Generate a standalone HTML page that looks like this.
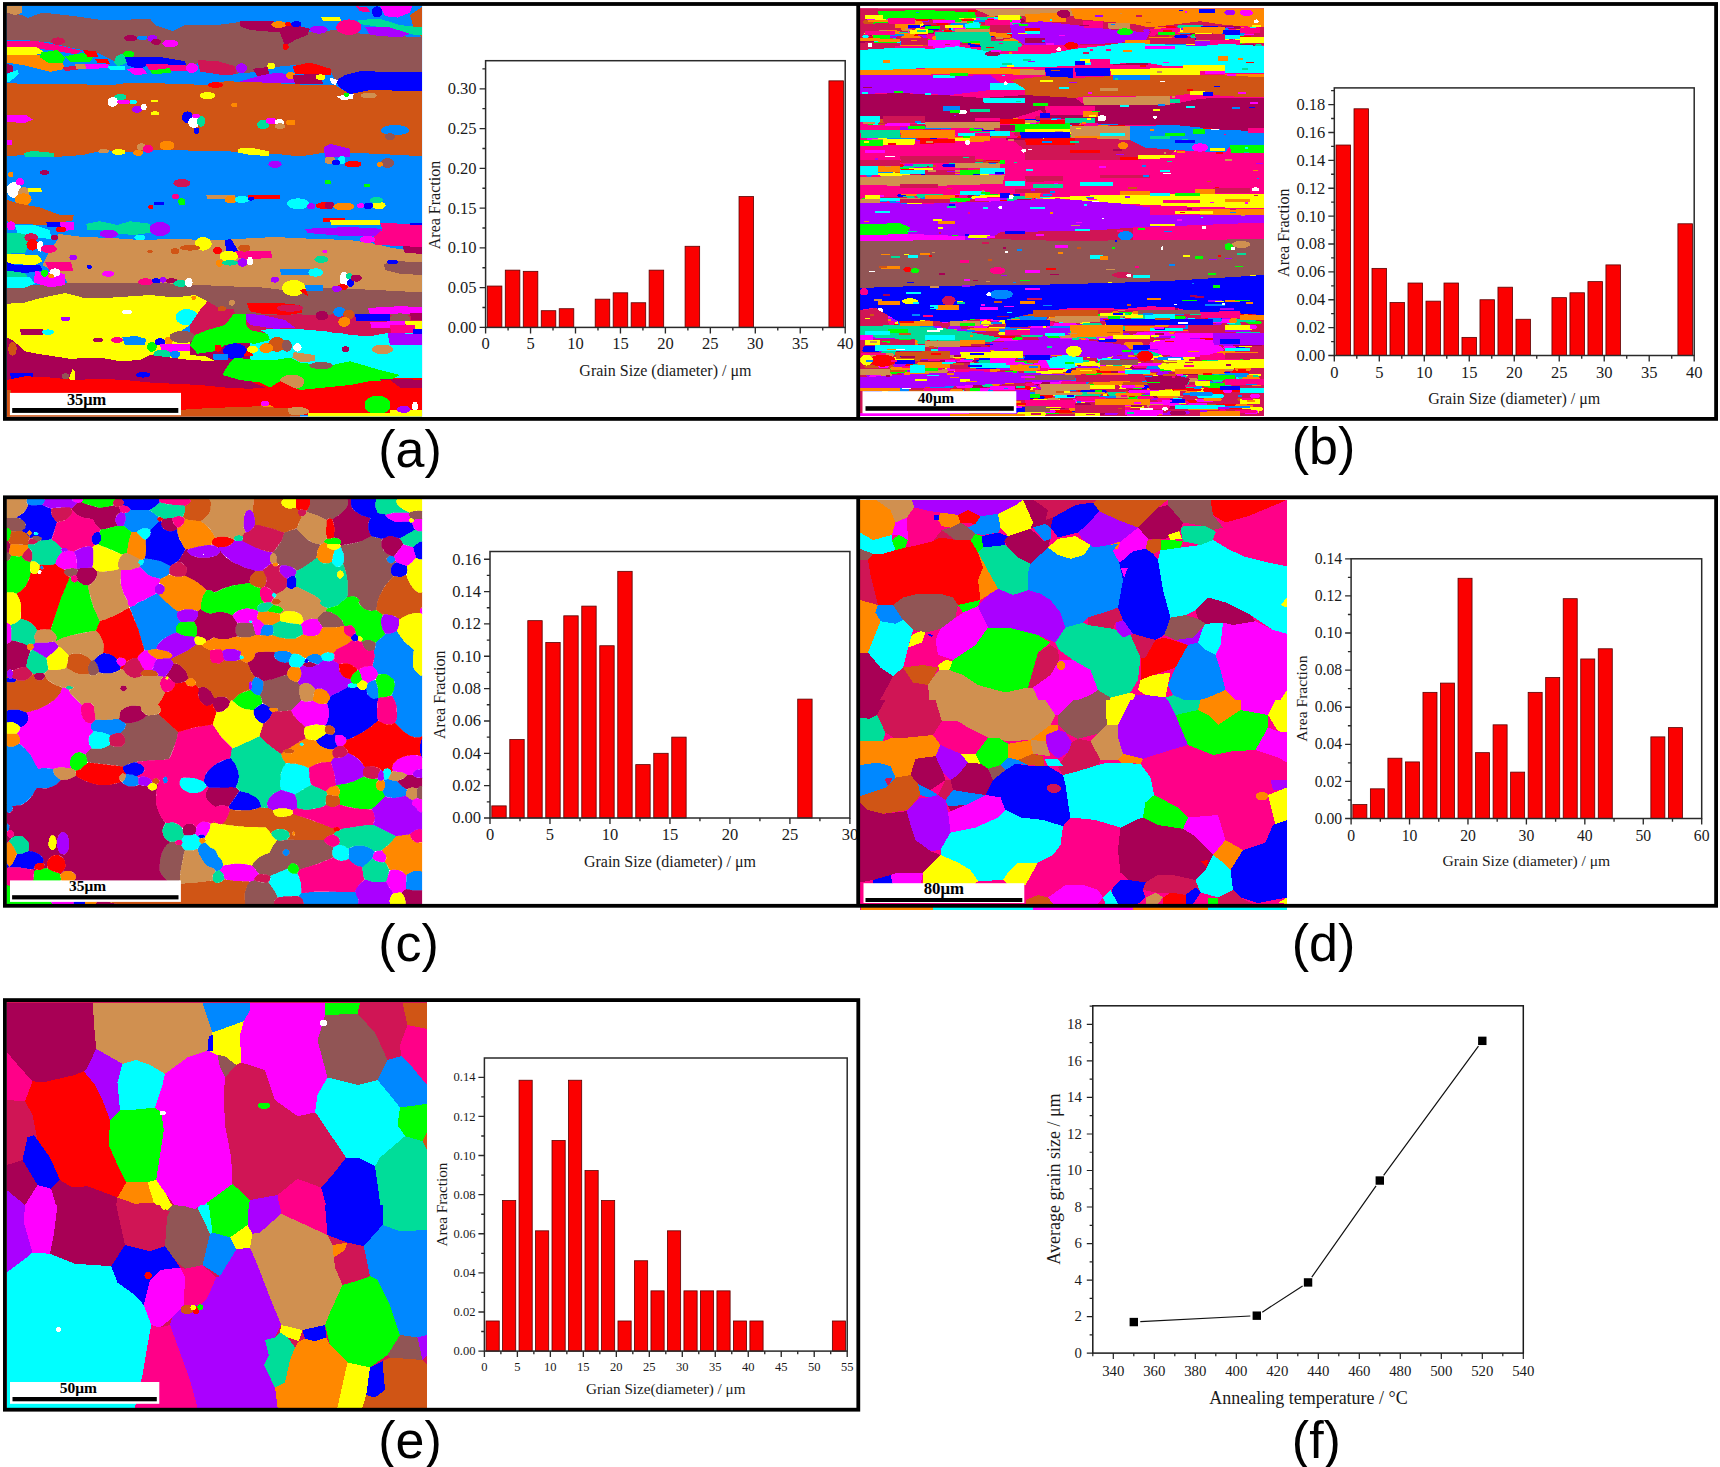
<!DOCTYPE html>
<html lang="en"><head><meta charset="utf-8"><title>EBSD grain maps and grain size distributions</title>
<style>html,body{margin:0;padding:0;background:#fff}body{width:1720px;height:1467px;overflow:hidden}svg{display:block}</style>
</head><body>
<svg width="1720" height="1467" viewBox="0 0 1720 1467">
<rect width="1720" height="1467" fill="#fff"/>
<defs>
<clipPath id="ca"><rect x="6.5" y="5.5" width="415.6" height="411"/></clipPath>
<clipPath id="cb"><rect x="860" y="8.4" width="404" height="407.6"/></clipPath>
<clipPath id="cc"><rect x="6.5" y="498.5" width="415.6" height="406"/></clipPath>
<clipPath id="cd"><rect x="860" y="500" width="427" height="410"/></clipPath>
<clipPath id="ce"><rect x="6.5" y="1002" width="420.5" height="406"/></clipPath>
</defs>
<g clip-path="url(#ca)" shape-rendering="crispEdges">
<rect fill="#0088ff" x="0" y="0" width="1720" height="1467"/>
<polygon fill="#915555" points="6.8,13 22.5,15 27.5,18 42.5,12.5 75,16.2 105,20.5 150,18.8 155,25 172.5,31.2 185,25 217.5,25 240,22 282.5,26.2 310,32.5 335,30 362.5,33.8 422,37.5 422,73 357.5,72.5 335,80.5 330,70 295,65 270,67.5 250,72.5 235,73.8 200,62.5 185,67.5 140,57.5 125,56.2 117.5,62.5 100,53.8 82.5,50 70,47.5 50,42.5 25,40 6.8,40"/>
<polygon fill="#d09050" points="6.8,5.5 22,5.5 22.5,12.5 15,15 6.8,12.5"/>
<polygon fill="#d05515" points="410,15 422,7 422,37.5 413.8,28"/>
<polygon fill="#00dd99" points="357.5,20 380,18.8 400,25 422,27.5 422,35 400,33.8 375,26.2 357.5,23.8"/>
<polygon fill="#aa00ff" points="365,27 390,27.5 410,33.8 400,37.5 370,35"/>
<polygon fill="#ff00ff" points="380,5.5 412.5,5.5 410,12.5 397.5,17.5 385,16.2"/>
<polygon fill="#ff0088" points="356.2,6.2 367.5,7.5 370,12.5 360,11.2"/>
<ellipse fill="#0000ff" cx="377.2" cy="11.9" rx="5.2" ry="5.6"/>
<ellipse fill="#ff0088" cx="348.8" cy="27.2" rx="12.5" ry="7.8"/>
<ellipse fill="#aa00ff" cx="318.8" cy="29.6" rx="8.8" ry="4.1"/>
<polygon fill="#ffff00" points="321.2,17 340,17.5 341.2,21.2 322.5,20.5"/>
<polygon fill="#a80055" points="240,21.2 272.5,21.2 295,25 310,28.8 307.5,35 295,40 285,46.2 280,32.5 250,30 240,26.2"/>
<ellipse fill="#ff8800" cx="278.8" cy="24.6" rx="7.5" ry="3.4"/>
<ellipse fill="#0000ff" cx="296.2" cy="24.1" rx="5" ry="2.9"/>
<ellipse fill="#ff0000" cx="288.1" cy="24.1" rx="3.1" ry="2.1"/>
<ellipse fill="#ff0000" cx="285.6" cy="46.9" rx="3.1" ry="3.1"/>
<ellipse fill="#a80055" cx="130.6" cy="38.1" rx="6.9" ry="3.1"/>
<ellipse fill="#0088ff" cx="142.2" cy="37.8" rx="5.2" ry="2.2"/>
<ellipse fill="#aa00ff" cx="152.5" cy="38.5" rx="5" ry="3.5"/>
<ellipse fill="#ff00ff" cx="170.2" cy="43.5" rx="7.8" ry="4"/>
<ellipse fill="#a80055" cx="156.2" cy="41.9" rx="5" ry="3.1"/>
<ellipse fill="#d01555" cx="58.1" cy="41.2" rx="6.9" ry="3.8"/>
<polygon fill="#ff0088" points="6.8,41.2 37.5,41.2 62.5,46.2 82.5,51.2 75,54.2 50,50 25,47.5 6.8,46.8"/>
<polygon fill="#ffff00" points="6.8,46.8 37.5,47.5 46.2,53.8 25,55.5 6.8,54.5"/>
<polygon fill="#ff8800" points="6.8,55 40,54.5 62.5,62.5 65.5,68.8 50,71.8 25,65.5 6.8,62.5"/>
<polygon fill="#00ff00" points="41.2,52.5 57.5,50 65.5,57.5 62.5,63 47.5,62.5 40,57.5"/>
<polygon fill="#00ff00" points="65,56.2 82.5,53 93,57.5 90,61.5 70,61.5"/>
<polygon fill="#ff0000" points="82.5,50 95.5,51.2 98,56.5 87.5,56.5"/>
<polygon fill="#ff0000" points="95,58.8 107.5,58.8 110,64 97.5,62.5"/>
<polygon fill="#00dd99" points="116.2,56.2 125,52.5 128,62.5 117.5,66.5 113.8,62.5"/>
<ellipse fill="#00ff00" cx="128.8" cy="54.1" rx="5.5" ry="3.4"/>
<polygon fill="#0000ff" points="125,57.5 160,57 185,61.2 186.2,65.5 150,63.8 140,69.2 127.5,65.5"/>
<polygon fill="#ff0088" points="145,63.8 185,65 187.5,70.5 150,70.5"/>
<polygon fill="#00ff00" points="150,70.5 170,68 171.5,72.5 152.5,74.5"/>
<polygon fill="#ff00ff" points="126.2,68.8 142.5,67.5 147.5,73.8 135,75.5"/>
<polygon fill="#ff00ff" points="82.5,63.8 107.5,63.8 110,68 85,69.2"/>
<polygon fill="#00ffff" points="107.5,66.2 125,65.5 125,69.8 110,70.2"/>
<ellipse fill="#ff00ff" cx="191.9" cy="68" rx="6.1" ry="5"/>
<polygon fill="#d01555" points="197.5,60 217.5,61.2 235,66.2 236.5,74 225,75.5 200,71.5"/>
<ellipse fill="#aa00ff" cx="241.4" cy="68.1" rx="5.6" ry="4.9"/>
<polygon fill="#a80055" points="252.5,68.8 268,67 269,75 257.5,76.5"/>
<polygon fill="#aa00ff" points="262.5,75 277.5,72.5 290,75 300,82.5 265,84 240,81.5"/>
<polygon fill="#ff0000" points="292.5,66.2 310,62.5 330.5,68.8 330.5,75 295,74"/>
<ellipse fill="#ff8800" cx="290.6" cy="75.5" rx="4.9" ry="3.5"/>
<polygon fill="#a80055" points="292.5,75 320.5,73.8 323,84 295,84"/>
<ellipse fill="#ffff00" cx="320.6" cy="77.2" rx="4.9" ry="2.8"/>
<ellipse fill="#ffff00" cx="271.2" cy="66" rx="3.8" ry="3.5"/>
<polygon fill="#0000ff" points="335,81.2 345,75 360,71.2 422,72.5 422,91.2 370,90 350,94.2 340,87.5"/>
<polygon fill="#ffffff" points="329.5,77.5 338,80 335.5,85.5 331,83"/>
<polygon fill="#a80055" points="6.8,63.8 12.5,65.5 12.5,72.5 6.8,72.5"/>
<polygon fill="#00ffff" points="6.8,73.8 17.5,70 19,74 10,81.5 6.8,81.5"/>
<polygon fill="#d01555" points="62.5,67.5 75,65.5 77.5,69.5 65,71.2"/>
<polygon fill="#d09050" points="75,63.8 85,63.8 86.2,68.8 76.2,69.5"/>
<polygon fill="#d05515" points="6.8,82.5 20,83.8 50,83.8 112.5,85 130,82.5 175,83.8 207.5,85 225,81.2 262.5,82.5 300,84.5 322.5,85 335,85 350,94.2 370,90 422,91.2 422,156.2 400,155 375,153.8 350,152.5 325,152.5 300,156.5 275,153.8 250,152.5 225,151.2 200,151.5 175,149.5 150,150 130,152.5 105,150 82.5,155 55,157 25,155 6.8,156.2"/>
<ellipse fill="#ffff00" cx="207.5" cy="95.6" rx="8" ry="3.6"/>
<ellipse fill="#00dd99" cx="120.2" cy="97" rx="6.5" ry="3"/>
<ellipse fill="#ffffff" cx="112.8" cy="101.9" rx="5.2" ry="4.9"/>
<ellipse fill="#ff00ff" cx="123.8" cy="101.9" rx="6.8" ry="2.4"/>
<ellipse fill="#00ffff" cx="133.1" cy="102.1" rx="3.6" ry="2.1"/>
<ellipse fill="#aa00ff" cx="136.9" cy="109.4" rx="4.9" ry="3.6"/>
<ellipse fill="#ffffff" cx="143.8" cy="107" rx="3" ry="3"/>
<ellipse fill="#ffff00" cx="155" cy="113.4" rx="4.2" ry="2.1"/>
<ellipse fill="#0000ff" cx="187.5" cy="117.2" rx="5.5" ry="5.8"/>
<ellipse fill="#ffffff" cx="193.8" cy="122.5" rx="5.5" ry="5.5"/>
<ellipse fill="#00dd99" cx="201.2" cy="121.2" rx="4.2" ry="5.5"/>
<ellipse fill="#ff00ff" cx="196.2" cy="116" rx="4.2" ry="2"/>
<ellipse fill="#0000ff" cx="196.6" cy="130.6" rx="2.9" ry="3.1"/>
<polygon fill="#ff00ff" points="6.8,115 25,114.5 33,119.5 25,123 6.8,122"/>
<ellipse fill="#00dd99" cx="263.1" cy="124.6" rx="6.1" ry="4.6"/>
<ellipse fill="#ff00ff" cx="271.2" cy="120.9" rx="5.5" ry="3.4"/>
<ellipse fill="#ffffff" cx="279.4" cy="122.2" rx="4.9" ry="3.2"/>
<ellipse fill="#d09050" cx="280" cy="126.2" rx="5.5" ry="3"/>
<ellipse fill="#ff8800" cx="290.6" cy="122.5" rx="4.9" ry="3"/>
<ellipse fill="#0088ff" cx="395" cy="130.2" rx="14.2" ry="5.2"/>
<ellipse fill="#915555" cx="390" cy="136.6" rx="5.5" ry="3.4"/>
<ellipse fill="#d09050" cx="368.8" cy="95.5" rx="8" ry="3"/>
<polygon fill="#ffffff" points="336.2,96.2 353.8,93.8 352.5,98.8 342.5,100.5"/>
<ellipse fill="#00ff00" cx="346.5" cy="94.8" rx="2.8" ry="2.2"/>
<ellipse fill="#ff0000" cx="215.6" cy="85" rx="7.4" ry="3"/>
<polygon fill="#ffff00" points="237.5,148.8 250,147.5 268.8,151.2 269.5,156 250,155 237.5,152.5"/>
<polygon fill="#aa00ff" points="323.8,147.5 330,143.8 350,148.8 350.5,156.8 325,156.8"/>
<ellipse fill="#ff8800" cx="166.9" cy="145.6" rx="7.4" ry="4.9"/>
<ellipse fill="#d09050" cx="141.6" cy="146.9" rx="5.1" ry="3.6"/>
<ellipse fill="#ff0088" cx="148" cy="148.8" rx="5.5" ry="4.2"/>
<ellipse fill="#ff8800" cx="138.1" cy="152.8" rx="4.9" ry="3.2"/>
<ellipse fill="#ffff00" cx="118.8" cy="152" rx="6.8" ry="3"/>
<ellipse fill="#d09050" cx="103.8" cy="151.2" rx="5.5" ry="2.2"/>
<polygon fill="#00dd99" points="23.8,153 32.5,150.8 53.8,153 54.5,157.2 25,157.2"/>
<ellipse fill="#ff00ff" cx="9.6" cy="142.5" rx="2.9" ry="3"/>
<ellipse fill="#ffff00" cx="154.6" cy="101" rx="3.4" ry="1.5"/>
<ellipse fill="#ff8800" cx="234.4" cy="104.8" rx="3.1" ry="2.2"/>
<ellipse fill="#ffffff" cx="14.2" cy="190" rx="7.5" ry="8"/>
<ellipse fill="#d09050" cx="23.8" cy="192.5" rx="5.5" ry="5.5"/>
<ellipse fill="#ff8800" cx="23.1" cy="199.4" rx="8.6" ry="6.1"/>
<polygon fill="#ffff00" points="27.5,187.5 41.2,188 42,192 28,191.5"/>
<ellipse fill="#ff00ff" cx="20" cy="181.9" rx="4.2" ry="3.6"/>
<ellipse fill="#d01555" cx="181.9" cy="183.2" rx="8.6" ry="4.2"/>
<polygon fill="#d05515" points="6.8,200 20,203.8 40,207.5 60,215 6.8,215"/>
<polygon fill="#d09050" points="206.2,195 235,194.5 235,199 207.5,199"/>
<ellipse fill="#ff8800" cx="230.6" cy="199.6" rx="6.1" ry="3.9"/>
<ellipse fill="#00ffff" cx="241.9" cy="199.4" rx="7.4" ry="3.6"/>
<polygon fill="#ff0000" points="247.5,195 280,195.5 280.5,199 248,199"/>
<ellipse fill="#0000ff" cx="251.2" cy="198.8" rx="3" ry="1.8"/>
<ellipse fill="#00ffff" cx="298.1" cy="203.8" rx="11.1" ry="5.5"/>
<ellipse fill="#aa00ff" cx="311.2" cy="206.2" rx="4.2" ry="3"/>
<ellipse fill="#ff0000" cx="325" cy="205.6" rx="9.2" ry="3.6"/>
<ellipse fill="#a80055" cx="329.4" cy="205.4" rx="4.9" ry="3.9"/>
<ellipse fill="#ff8800" cx="343.8" cy="206.5" rx="10.5" ry="4"/>
<ellipse fill="#ffff00" cx="378.8" cy="205.4" rx="6.8" ry="3.9"/>
<ellipse fill="#0000ff" cx="368.1" cy="205.9" rx="4.9" ry="3.4"/>
<ellipse fill="#00dd99" cx="376.2" cy="200.2" rx="6.8" ry="3.2"/>
<ellipse fill="#ff00ff" cx="360.6" cy="205.6" rx="3.6" ry="2.4"/>
<ellipse fill="#aa00ff" cx="275" cy="164.4" rx="6.8" ry="3.6"/>
<ellipse fill="#d09050" cx="330" cy="160.4" rx="5.5" ry="3.9"/>
<ellipse fill="#ff0000" cx="353.1" cy="164.1" rx="8.6" ry="3.4"/>
<ellipse fill="#00ffff" cx="341.9" cy="160" rx="3.6" ry="4.2"/>
<ellipse fill="#0000ff" cx="336" cy="162.5" rx="4" ry="2.5"/>
<ellipse fill="#915555" cx="387.5" cy="163.1" rx="6.8" ry="4.9"/>
<ellipse fill="#ff8800" cx="379.8" cy="164.4" rx="3.2" ry="2.4"/>
<ellipse fill="#ff0088" cx="175.6" cy="196.6" rx="3.6" ry="2.6"/>
<ellipse fill="#00ff00" cx="181.9" cy="201.9" rx="3.6" ry="3.6"/>
<ellipse fill="#ff0000" cx="150.9" cy="206.9" rx="2.6" ry="2.4"/>
<rect fill="#0000ff" x="153.8" y="202" width="10" height="2.5"/>
<ellipse fill="#ff8800" cx="10.6" cy="174.5" rx="2.4" ry="3"/>
<ellipse fill="#a80055" cx="44.4" cy="172.5" rx="4.9" ry="2.2"/>
<ellipse fill="#00ff00" cx="327.9" cy="182.2" rx="3.4" ry="2.2"/>
<ellipse fill="#00ff00" cx="367.1" cy="185.6" rx="3.4" ry="1.9"/>
<polygon fill="#d05515" points="6.8,215 73.8,215 72.5,220.5 45,225 15,223.8 6.8,221.2"/>
<rect fill="#915555" x="6.8" y="285" width="415.2" height="30"/>
<rect fill="#d01555" x="190" y="315" width="232" height="20"/>
<rect fill="#00ffff" x="250" y="332.5" width="172" height="45"/>
<rect fill="#a80055" x="6.8" y="335" width="243.2" height="55"/>
<rect fill="#00ff00" x="225" y="365" width="150" height="20"/>
<rect fill="#ff0000" x="6.8" y="377.5" width="415.2" height="37.5"/>
<rect fill="#d05515" x="6.8" y="407.5" width="293.2" height="9"/>
<polygon fill="#915555" points="6.8,287.5 30,285.5 67.5,282.5 112.5,282.5 150,282 190,284 225,285.8 262.5,287 282.5,289.5 307.5,289.5 325,287 350,288.2 375,289.5 400,290.8 422,292 422,307.5 400,306.2 370,308.8 350,305 332.5,307.5 312.5,312.5 300,305 275,302.5 246.2,302.5 235,311.2 225,305 210,301.2 195,295 175,297.5 150,295 112.5,297.5 82.5,297.5 65,293 37.5,298.8 25,302.5 6.8,303"/>
<polygon fill="#d09050" points="57.5,233.8 82.5,237 112.5,238 140,240 180,238.8 200,240 220,240 240,238.8 275,237 312.5,238.8 350,240 375,243.8 390,247.5 422,252.5 422,292.5 400,291.2 375,290 350,288.8 325,287.5 307.5,290 282.5,290 262.5,287.5 225,286.2 190,284.5 150,282.5 112.5,283 67.5,283 65,277.5 42.5,265 50,250 57.5,240"/>
<ellipse fill="#ff00ff" cx="11.1" cy="225.9" rx="4.4" ry="4.6"/>
<polygon fill="#00ffff" points="15,225.5 32.5,224.5 50,230 51.2,238.8 30,237.5 17.5,232.5"/>
<polygon fill="#0000ff" points="46.2,222 62.5,222.5 63,227 47.5,227"/>
<polygon fill="#ff00ff" points="60,222.5 73.8,222 74,230 61.2,231"/>
<ellipse fill="#ff0000" cx="60.9" cy="229.5" rx="5.1" ry="3"/>
<polygon fill="#00dd99" points="6.8,232.5 25,233.8 29,245 25,252.5 6.8,253.8"/>
<ellipse fill="#d01555" cx="31.2" cy="237.5" rx="6.8" ry="4.2"/>
<ellipse fill="#ff0000" cx="32.2" cy="244.8" rx="5.8" ry="5.8"/>
<ellipse fill="#ffffff" cx="40.2" cy="246.2" rx="3.2" ry="5.5"/>
<ellipse fill="#a80055" cx="54.4" cy="237.5" rx="3.6" ry="3"/>
<polygon fill="#ffff00" points="6.8,253.8 37.5,255 43,261.2 35,265 6.8,263.8"/>
<polygon fill="#0000ff" points="6.8,262 15,265 40,265 43,270.5 25,273 6.8,270.5"/>
<polygon fill="#00dd99" points="6.8,270.5 25,273 28,277.5 6.8,277.5"/>
<polygon fill="#00ffff" points="6.8,276.8 30,277.5 35,283.8 25,287.5 6.8,287.5"/>
<polygon fill="#ff00ff" points="35,271.2 65,273.8 65.5,285 50,287.5 33.8,282.5"/>
<polygon fill="#ff0088" points="45,262.5 71.2,262 73,270.5 50,271.5"/>
<ellipse fill="#ffffff" cx="55" cy="272.5" rx="5.5" ry="4.2"/>
<ellipse fill="#00ff00" cx="44.4" cy="273.1" rx="3.6" ry="3.6"/>
<ellipse fill="#ff8800" cx="51.2" cy="276.2" rx="3" ry="2.2"/>
<ellipse fill="#ff0088" cx="48.8" cy="248.8" rx="8" ry="4.2"/>
<polygon fill="#00dd99" points="86.2,223.8 100,221.2 117.5,225 130,221.2 150,223.8 151.5,232.5 135,235 117.5,233.8 100,230 87.5,230"/>
<ellipse fill="#aa00ff" cx="160" cy="229" rx="10.5" ry="7"/>
<ellipse fill="#aa00ff" cx="108.8" cy="233.8" rx="9.2" ry="4.2"/>
<ellipse fill="#00ffff" cx="140" cy="237.5" rx="5.5" ry="3"/>
<polygon fill="#ff0000" points="322.5,218.5 345,218 345.5,222 323,222"/>
<polygon fill="#ffff00" points="330,220 380,219.5 380.5,225 331.2,225"/>
<polygon fill="#ff0088" points="380,222.5 422,225 422,247.5 400,246.2 375,244.5 372.5,237.5 382.5,230"/>
<polygon fill="#aa00ff" points="305,228.8 350,227 382.5,228.8 375,236.2 337.5,235.5 307.5,233"/>
<ellipse fill="#ff00ff" cx="367.5" cy="239.4" rx="8" ry="3.6"/>
<polygon fill="#a80055" points="402.5,246.2 422,247 422,253.8 405,253"/>
<polygon fill="#915555" points="383.8,263.8 400,261.2 422,262.5 422,275 400,273.8 385,270"/>
<ellipse fill="#0000ff" cx="392.5" cy="261.9" rx="5.5" ry="2.4"/>
<rect fill="#0000ff" x="410" y="222.5" width="12" height="2.5"/>
<ellipse fill="#ffff00" cx="203.1" cy="243.8" rx="8.6" ry="6.8"/>
<polygon fill="#0000ff" points="225,240 231.2,239 239.2,252.5 226.2,253"/>
<polygon fill="#ff0088" points="235,250.5 271.2,251.2 272,257.5 250,259.5 236.2,258"/>
<ellipse fill="#ffff00" cx="228.8" cy="256.2" rx="9.2" ry="5.5"/>
<ellipse fill="#aa00ff" cx="242.5" cy="262.5" rx="5.5" ry="4.2"/>
<ellipse fill="#ff8800" cx="219.4" cy="263.1" rx="3.6" ry="3.6"/>
<ellipse fill="#00dd99" cx="230" cy="262.8" rx="8" ry="2.8"/>
<ellipse fill="#d05515" cx="190" cy="247.8" rx="10.5" ry="2.8"/>
<ellipse fill="#d05515" cx="175" cy="251.2" rx="4.2" ry="3"/>
<ellipse fill="#d05515" cx="244.4" cy="248.1" rx="6.1" ry="3.6"/>
<ellipse fill="#ff0000" cx="217.5" cy="250.6" rx="4.2" ry="3.6"/>
<ellipse fill="#ffffff" cx="250" cy="261.2" rx="3" ry="4.2"/>
<polygon fill="#0088ff" points="280,269.2 315,268.8 315.5,275 281.2,275"/>
<ellipse fill="#00ffff" cx="315.6" cy="272.5" rx="7.4" ry="4.2"/>
<ellipse fill="#00dd99" cx="321.2" cy="259.4" rx="6.8" ry="3.6"/>
<ellipse fill="#ffffff" cx="344.4" cy="278.8" rx="4.9" ry="6.8"/>
<ellipse fill="#00dd99" cx="349.4" cy="276.2" rx="3.6" ry="3"/>
<ellipse fill="#0000ff" cx="350.6" cy="282.9" rx="3.6" ry="3.9"/>
<ellipse fill="#ff0000" cx="342.5" cy="287.2" rx="5.5" ry="3.2"/>
<ellipse fill="#a80055" cx="356.2" cy="278.1" rx="5.5" ry="3.6"/>
<ellipse fill="#ffff00" cx="293.8" cy="288" rx="11.8" ry="8"/>
<polygon fill="#ff0000" points="298.8,290 306.2,288.8 308,296.5"/>
<polygon fill="#0088ff" points="305,285.5 322.5,285 323,291.2 306.2,291.5"/>
<ellipse fill="#aa00ff" cx="336.9" cy="288.8" rx="4.9" ry="3"/>
<ellipse fill="#ff0088" cx="145.6" cy="281.9" rx="7.4" ry="3.6"/>
<ellipse fill="#0000ff" cx="156.2" cy="280.9" rx="4.2" ry="2.6"/>
<ellipse fill="#aa00ff" cx="163.1" cy="279.8" rx="3.6" ry="2.8"/>
<ellipse fill="#a80055" cx="171.9" cy="280.9" rx="6.1" ry="2.6"/>
<ellipse fill="#00dd99" cx="180.6" cy="283.4" rx="7.4" ry="3.4"/>
<ellipse fill="#ffffff" cx="188.8" cy="282.5" rx="3.8" ry="5"/>
<ellipse fill="#ff00ff" cx="108.1" cy="273.8" rx="6.1" ry="3"/>
<ellipse fill="#0000ff" cx="89.4" cy="266.9" rx="2.4" ry="2.4"/>
<ellipse fill="#aa00ff" cx="73.1" cy="257.5" rx="3.6" ry="3"/>
<ellipse fill="#aa00ff" cx="275" cy="279.8" rx="4.2" ry="2.8"/>
<ellipse fill="#d05515" cx="150.2" cy="251.5" rx="2.8" ry="1.5"/>
<ellipse fill="#ff00ff" cx="325" cy="251.5" rx="2.5" ry="1.5"/>
<polygon fill="#ffff00" points="6.8,303.8 25,302.5 37.5,298.8 65,293 82.5,297.5 112.5,297.5 150,295 175,297.5 195,295 207.5,301.2 200,310 190,325 175,335 190,340 190,355 205,356.2 215,361.2 190,360 150,355 140,360 120,361.2 100,357.5 70,358.8 37.5,353.8 25,351.2 12.5,340 6.8,337.5"/>
<ellipse fill="#00ffff" cx="186.9" cy="317.2" rx="11.1" ry="8.2"/>
<polygon fill="#a80055" points="20,329.5 42.5,328.8 43,334.5 21.2,335"/>
<ellipse fill="#00ffff" cx="48.1" cy="332.2" rx="6.1" ry="2.8"/>
<ellipse fill="#ffffff" cx="126.9" cy="311.9" rx="4.9" ry="2.4"/>
<ellipse fill="#aa00ff" cx="65.6" cy="318.8" rx="4.9" ry="2.2"/>
<ellipse fill="#a80055" cx="98.1" cy="340" rx="4.9" ry="2.5"/>
<polygon fill="#0088ff" points="122.5,337.5 135,335.8 146.2,338.8 145,344.5 125,345"/>
<ellipse fill="#ff0088" cx="116.9" cy="340" rx="6.1" ry="3"/>
<ellipse fill="#ff8800" cx="168.8" cy="340.6" rx="4.2" ry="3.6"/>
<ellipse fill="#0000ff" cx="160" cy="341.9" rx="5.5" ry="3.6"/>
<polygon fill="#ff00ff" points="160,344.2 190,343.8 190.5,351.2 161.2,351.8"/>
<ellipse fill="#00ff00" cx="151.9" cy="346.9" rx="4.9" ry="4.9"/>
<ellipse fill="#00dd99" cx="161.9" cy="354.4" rx="8.6" ry="4.9"/>
<ellipse fill="#0088ff" cx="175" cy="354.4" rx="5.5" ry="3.6"/>
<ellipse fill="#915555" cx="182.5" cy="336.9" rx="13" ry="6.1"/>
<polygon fill="#d01555" points="207.5,301.2 220,308.8 233.8,308.8 235,313.8 225,325 207.5,328.8 192.5,327.5 190,325 200,310"/>
<polygon fill="#ff0000" points="246.2,302.5 275,302.5 300,305 302.5,312.5 287.5,315 262.5,313.8 250,311.2"/>
<ellipse fill="#d01555" cx="290" cy="308.1" rx="13" ry="3.6"/>
<polygon fill="#aa00ff" points="246.2,313.8 262.5,315 285,320 295,327.5 275,328.8 250,325 246.2,320"/>
<polygon fill="#d01555" points="287.5,315 300,313.8 315,320 332.5,313.8 350,325 375,328.8 387.5,327.5 390,332.5 370,336.2 350,335 325,330 295,327.5 285,320"/>
<ellipse fill="#a80055" cx="321.9" cy="315.6" rx="6.1" ry="4.9"/>
<ellipse fill="#d05515" cx="221.9" cy="308.8" rx="4.4" ry="2.5"/>
<ellipse fill="#d09050" cx="231.9" cy="302.8" rx="3.1" ry="2.8"/>
<ellipse fill="#ff8800" cx="193.8" cy="297.8" rx="2.5" ry="2.2"/>
<polygon fill="#00ff00" points="233.8,313.8 246.2,313.8 246.2,325 250,330 267.5,333.8 270,340 255,343.8 240,342.5 225,345 215,351.2 197.5,353.8 190,345 195,335 207.5,330 225,325"/>
<polygon fill="#00ffff" points="260,330 275,328.8 295,328.8 325,331.2 350,336.2 370,337.5 390,335 390,345 422,350 422,377.5 400,375 380,370 350,361.2 325,362.5 300,362.5 290,357.5 275,360 255,360 252.5,353.8 260,350 270,340 267.5,333.8"/>
<ellipse fill="#0000ff" cx="235" cy="351.2" rx="11.8" ry="8"/>
<ellipse fill="#ff0000" cx="218.1" cy="348.1" rx="3.6" ry="3.6"/>
<polygon fill="#ff0000" points="243.8,355.5 248.8,347.5 254,356.5"/>
<polygon fill="#0088ff" points="212.5,354.2 227.5,353.8 228,360 213.8,360.5"/>
<ellipse fill="#ffff00" cx="252.5" cy="349.4" rx="5.5" ry="3.6"/>
<ellipse fill="#d05515" cx="276.9" cy="344.4" rx="8.6" ry="7.4"/>
<ellipse fill="#915555" cx="286.9" cy="345.6" rx="4.9" ry="6.1"/>
<ellipse fill="#ff8800" cx="266.2" cy="348.1" rx="6.8" ry="4.9"/>
<ellipse fill="#ffffff" cx="297.5" cy="347.5" rx="4.2" ry="4.2"/>
<polygon fill="#d09050" points="293.8,352 315,355 315.5,361.2 300,362 292.5,357.5"/>
<ellipse fill="#d09050" cx="382.5" cy="349.4" rx="10.5" ry="4.9"/>
<ellipse fill="#a80055" cx="345.6" cy="349.2" rx="3.6" ry="3"/>
<polygon fill="#ff00ff" points="367.5,308 400,306.2 422,307 422,313.8 370,313.8"/>
<polygon fill="#0000ff" points="355,314.2 390,313.8 390.5,321.2 356.2,321.2"/>
<ellipse fill="#915555" cx="400" cy="319.4" rx="10.5" ry="6.1"/>
<polygon fill="#a80055" points="410,312.5 422,312.5 422,320.5 411.2,320"/>
<polygon fill="#ff00ff" points="370,321.8 405,321.2 405.5,327.5 371.2,328"/>
<polygon fill="#ffff00" points="405,321.2 422,321.2 422,329 406.2,328.8"/>
<polygon fill="#ff0088" points="390,325.5 415,325 415.5,332.5 391.2,333"/>
<rect fill="#0000ff" x="412.5" y="329" width="9.5" height="5"/>
<polygon fill="#aa00ff" points="387.5,333 422,334 422,345.5 390,345"/>
<ellipse fill="#0088ff" cx="339.4" cy="311.9" rx="6.1" ry="4.9"/>
<ellipse fill="#d05515" cx="348.8" cy="314.4" rx="5.5" ry="4.9"/>
<ellipse fill="#ff8800" cx="344.4" cy="321.9" rx="6.1" ry="4.9"/>
<polygon fill="#a80055" points="6.8,337.5 12.5,340 25,351.2 37.5,353.8 70,358.8 100,357.5 120,361.2 140,360 150,355 190,360 215,361.2 230,362.5 225,370 222.5,375 240,380 250,381.2 265,387.5 250,388.8 225,387.5 200,385 175,383.8 150,382.5 125,380 100,378.8 75,380 50,377.5 25,376.2 6.8,380"/>
<ellipse fill="#d05515" cx="12.5" cy="348.8" rx="4.2" ry="6.8"/>
<polygon fill="#0000ff" points="10,373 32.5,372.5 33,378.8 11.2,379"/>
<ellipse fill="#0000ff" cx="43.8" cy="379.8" rx="6.8" ry="2.8"/>
<ellipse fill="#0000ff" cx="143.1" cy="374.8" rx="7.4" ry="2.8"/>
<polygon fill="#ffff00" points="68,381.2 72.5,368.8 75.5,372.5 74.5,381.5"/>
<ellipse fill="#915555" cx="65.6" cy="376.2" rx="3.6" ry="3"/>
<polygon fill="#00ff00" points="230,362.5 235,357.5 255,360 275,360 290,357.5 300,362.5 310,363.8 332.5,365 350,361.2 380,370 400,375 390,380 370,381.2 350,385 325,387.5 300,390 290,386.2 280,381.2 270,387.5 260,382.5 250,381.2 240,380 222.5,375 225,370"/>
<ellipse fill="#915555" cx="321.2" cy="365.6" rx="11.8" ry="3.6"/>
<ellipse fill="#d09050" cx="291.9" cy="381.9" rx="12.4" ry="7.4"/>
<polygon fill="#a80055" points="380,379.2 400,378.8 422,380 422,388 400,387.5 382.5,385"/>
<polygon fill="#ff0000" points="6.8,380 25,376.2 50,377.5 75,380 100,378.8 125,380 150,382.5 175,383.8 200,385 225,387.5 250,388.8 265,387.5 270,387.5 280,381.2 290,386.2 300,390 325,387.5 350,385 370,381.2 390,380 400,387.5 422,388 422,412.5 400,412.5 375,411.2 350,412.5 312.5,413.8 287.5,407.5 270,410 260,405 225,407.5 195,408.8 180,410 180,392.5 6.8,392.5"/>
<ellipse fill="#00ff00" cx="377.5" cy="405" rx="13" ry="9.2"/>
<polygon fill="#ffff00" points="390,410.5 422,410 422,416.5 390,416.5"/>
<ellipse fill="#aa00ff" cx="403.8" cy="409.4" rx="6.8" ry="3.6"/>
<ellipse fill="#ffffff" cx="415" cy="406.2" rx="3" ry="4.2"/>
<ellipse fill="#d09050" cx="297.5" cy="411.2" rx="11.8" ry="4.2"/>
<ellipse fill="#ff8800" cx="266.2" cy="407.5" rx="6.8" ry="3"/>
<ellipse fill="#ff00ff" cx="265" cy="403.4" rx="4.2" ry="2.6"/>
<polygon fill="#d05515" points="180,410 225,407.5 260,406.2 287.5,408.8 290,416.5 180,416.5"/>
<polygon fill="#ffff00" points="307.5,413 390,412.5 390,416.5 307.5,416.5"/>
<rect fill="#d05515" x="6.8" y="414.5" width="173.8" height="2"/>
<rect fill="#d05515" x="6.8" y="390" width="4.5" height="26.5"/>
</g>
<g clip-path="url(#cb)" shape-rendering="crispEdges">
<rect fill="#ff0088" x="0" y="0" width="1720" height="1467"/>
<rect fill="#d01555" x="860" y="8.2" width="403.8" height="36.8"/>
<path fill="#00dd99" d="M998 30h1v-1h14v1h1v1h-1v1h-14v-1h-1zM883 16h1v-1h18v1h1v1h-1v1h-18v-1h-1zM962 22h1v-1h14v1h1v1h-1v1h-14v-1h-1zM887 37h24v2h-24zM941 31h1v-1h14v1h1v1h-1v1h-14v-1h-1zM937 35h25v2h-25zM1011 44h1v-1h9v1h1v2h-1v1h-9v-1h-1zM940 41h1v-1h20v1h1v1h-1v1h-20v-1h-1zM861 27h15v2h-15zM1002 32h8v2h-8zM1006 23h1v-1h13v1h1v1h-1v1h-13v-1h-1zM1009 26h1v-1h12v1h1v1h-1v1h-12v-1h-1zM971 18h1v-1h25v1h1v1h-1v1h-25v-1h-1zM977 42h1v-1h22v1h1v2h-1v1h-22v-1h-1zM968 32h21v2h-21zM969 23h12v2h-12zM896 33h1v-1h14v1h1v1h-1v1h-14v-1h-1zM919 16h22v2h-22zM877 19h1v-1h19v1h1v2h-1v1h-19v-1h-1z"/>
<path fill="#aa00ff" d="M973 30h24v2h-24zM1005 30h1v-1h12v1h1v1h-1v1h-12v-1h-1zM906 16h16v2h-16zM914 37h1v-1h23v1h1v1h-1v1h-23v-1h-1zM966 41h1v-1h15v1h1v1h-1v1h-15v-1h-1zM911 35h21v2h-21zM915 40h1v-1h25v1h1v1h-1v1h-25v-1h-1zM910 26h1v-1h9v1h1v1h-1v1h-9v-1h-1zM946 41h1v-1h15v1h1v1h-1v1h-15v-1h-1zM937 41h1v-1h18v1h1v1h-1v1h-18v-1h-1zM916 43h15v2h-15zM988 43h1v-1h22v1h1v2h-1v1h-22v-1h-1zM903 28h7v2h-7zM886 35h1v-1h20v1h1v2h-1v1h-20v-1h-1zM872 18h1v-1h6v1h1v2h-1v1h-6v-1h-1zM916 20h22v2h-22zM896 37h10v2h-10zM1002 37h1v-1h5v1h1v1h-1v1h-5v-1h-1z"/>
<path fill="#a80055" d="M903 18h23v2h-23zM998 34h8v2h-8zM870 34h27v2h-27zM860 41h1v-1h13v1h1v2h-1v1h-13v-1h-1zM986 28h1v-1h19v1h1v2h-1v1h-19v-1h-1zM890 29h1v-1h11v1h1v1h-1v1h-11v-1h-1zM865 23h1v-1h20v1h1v1h-1v1h-20v-1h-1zM939 34h1v-1h12v1h1v1h-1v1h-12v-1h-1zM927 32h14v2h-14zM890 34h1v-1h16v1h1v1h-1v1h-16v-1h-1zM928 17h1v-1h22v1h1v2h-1v1h-22v-1h-1zM1009 29h8v2h-8zM862 43h1v-1h8v1h1v1h-1v1h-8v-1h-1zM992 36h1v-1h13v1h1v2h-1v1h-13v-1h-1zM891 21h15v2h-15zM876 42h22v2h-22zM987 34h8v2h-8zM983 45h11v2h-11zM934 20h27v2h-27zM917 29h21v2h-21zM969 43h1v-1h18v1h1v2h-1v1h-18v-1h-1zM915 31h20v2h-20zM1002 20h1v-1h21v1h1v2h-1v1h-21v-1h-1zM915 33h1v-1h19v1h1v1h-1v1h-19v-1h-1z"/>
<path fill="#ff00ff" d="M943 28h1v-1h23v1h1v1h-1v1h-23v-1h-1zM866 20h1v-1h17v1h1v1h-1v1h-17v-1h-1zM1004 20h1v-1h15v1h1v2h-1v1h-15v-1h-1zM886 44h9v2h-9zM998 24h1v-1h13v1h1v2h-1v1h-13v-1h-1zM987 19h1v-1h13v1h1v1h-1v1h-13v-1h-1zM908 31h12v2h-12zM942 19h11v2h-11zM951 27h1v-1h19v1h1v1h-1v1h-19v-1h-1zM886 18h1v-1h18v1h1v1h-1v1h-18v-1h-1zM938 40h22v2h-22zM972 18h8v2h-8zM865 28h1v-1h21v1h1v1h-1v1h-21v-1h-1zM999 33h21v2h-21z"/>
<path fill="#d09050" d="M985 32h1v-1h14v1h1v1h-1v1h-14v-1h-1zM892 28h16v2h-16zM878 29h1v-1h24v1h1v1h-1v1h-24v-1h-1zM994 31h1v-1h14v1h1v2h-1v1h-14v-1h-1zM978 31h1v-1h7v1h1v1h-1v1h-7v-1h-1zM885 24h9v2h-9zM862 27h1v-1h12v1h1v1h-1v1h-12v-1h-1zM954 35h1v-1h7v1h1v1h-1v1h-7v-1h-1zM950 22h1v-1h24v1h1v1h-1v1h-24v-1h-1zM894 21h1v-1h24v1h1v2h-1v1h-24v-1h-1zM917 44h1v-1h22v1h1v1h-1v1h-22v-1h-1zM903 29h9v2h-9zM1008 39h1v-1h13v1h1v1h-1v1h-13v-1h-1zM995 32h16v2h-16z"/>
<path fill="#00ffff" d="M873 35h13v2h-13zM994 17h21v2h-21zM905 15h21v2h-21zM996 33h1v-1h8v1h1v2h-1v1h-8v-1h-1zM862 36h1v-1h5v1h1v1h-1v1h-5v-1h-1zM969 22h1v-1h8v1h1v2h-1v1h-8v-1h-1zM893 41h1v-1h10v1h1v2h-1v1h-10v-1h-1zM941 28h12v2h-12zM874 40h22v2h-22zM946 32h1v-1h11v1h1v1h-1v1h-11v-1h-1zM892 20h1v-1h15v1h1v1h-1v1h-15v-1h-1zM869 44h1v-1h15v1h1v1h-1v1h-15v-1h-1zM953 34h1v-1h5v1h1v1h-1v1h-5v-1h-1zM906 25h1v-1h14v1h1v2h-1v1h-14v-1h-1zM963 40h1v-1h18v1h1v1h-1v1h-18v-1h-1zM998 32h1v-1h12v1h1v2h-1v1h-12v-1h-1z"/>
<path fill="#0000ff" d="M976 36h1v-1h25v1h1v2h-1v1h-25v-1h-1zM960 15h8v2h-8zM994 34h19v2h-19zM968 43h7v2h-7zM918 26h1v-1h15v1h1v1h-1v1h-15v-1h-1zM970 45h19v2h-19zM883 21h1v-1h19v1h1v1h-1v1h-19v-1h-1zM928 28h23v2h-23z"/>
<path fill="#ffff00" d="M864 33h1v-1h20v1h1v1h-1v1h-20v-1h-1zM880 35h1v-1h8v1h1v1h-1v1h-8v-1h-1zM910 25h1v-1h10v1h1v1h-1v1h-10v-1h-1zM966 26h1v-1h18v1h1v1h-1v1h-18v-1h-1zM998 25h22v2h-22zM1015 40h7v2h-7zM982 45h1v-1h10v1h1v1h-1v1h-10v-1h-1zM958 40h1v-1h14v1h1v1h-1v1h-14v-1h-1zM985 43h1v-1h6v1h1v2h-1v1h-6v-1h-1zM931 43h1v-1h19v1h1v2h-1v1h-19v-1h-1zM868 28h1v-1h9v1h1v1h-1v1h-9v-1h-1zM911 24h1v-1h11v1h1v1h-1v1h-11v-1h-1zM924 43h1v-1h11v1h1v1h-1v1h-11v-1h-1zM908 25h1v-1h8v1h1v2h-1v1h-8v-1h-1zM958 18h1v-1h16v1h1v2h-1v1h-16v-1h-1zM874 20h1v-1h11v1h1v2h-1v1h-11v-1h-1zM915 29h1v-1h11v1h1v2h-1v1h-11v-1h-1z"/>
<path fill="#d05515" d="M918 44h1v-1h13v1h1v2h-1v1h-13v-1h-1zM863 21h1v-1h17v1h1v2h-1v1h-17v-1h-1zM935 41h13v2h-13zM932 16h7v2h-7zM949 32h1v-1h18v1h1v2h-1v1h-18v-1h-1zM918 44h1v-1h12v1h1v2h-1v1h-12v-1h-1zM1002 20h1v-1h6v1h1v2h-1v1h-6v-1h-1zM935 19h14v2h-14zM931 18h1v-1h25v1h1v1h-1v1h-25v-1h-1zM877 38h16v2h-16zM966 26h1v-1h25v1h1v1h-1v1h-25v-1h-1zM957 39h1v-1h13v1h1v1h-1v1h-13v-1h-1zM1002 41h1v-1h20v1h1v1h-1v1h-20v-1h-1zM870 43h15v2h-15z"/>
<path fill="#d01555" d="M895 18h22v2h-22zM880 17h1v-1h19v1h1v1h-1v1h-19v-1h-1zM865 42h16v2h-16zM929 20h21v2h-21zM896 37h1v-1h25v1h1v2h-1v1h-25v-1h-1zM974 35h1v-1h14v1h1v1h-1v1h-14v-1h-1zM945 38h23v2h-23zM988 37h22v2h-22zM928 40h1v-1h16v1h1v2h-1v1h-16v-1h-1zM931 22h1v-1h16v1h1v2h-1v1h-16v-1h-1zM888 22h1v-1h7v1h1v1h-1v1h-7v-1h-1zM938 28h1v-1h7v1h1v1h-1v1h-7v-1h-1z"/>
<path fill="#ff0088" d="M958 24h9v2h-9zM870 28h1v-1h24v1h1v1h-1v1h-24v-1h-1zM993 30h22v2h-22zM926 35h1v-1h21v1h1v2h-1v1h-21v-1h-1zM934 32h1v-1h22v1h1v2h-1v1h-22v-1h-1zM904 43h25v2h-25zM927 26h8v2h-8zM907 39h1v-1h17v1h1v1h-1v1h-17v-1h-1zM953 38h1v-1h16v1h1v1h-1v1h-16v-1h-1zM909 42h1v-1h15v1h1v1h-1v1h-15v-1h-1zM920 27h14v2h-14zM987 25h1v-1h5v1h1v1h-1v1h-5v-1h-1zM1006 35h17v2h-17zM987 29h1v-1h23v1h1v2h-1v1h-23v-1h-1zM993 34h24v2h-24zM994 41h1v-1h11v1h1v1h-1v1h-11v-1h-1zM921 39h1v-1h18v1h1v2h-1v1h-18v-1h-1z"/>
<path fill="#ff0000" d="M941 23h7v2h-7zM931 25h8v2h-8zM976 43h1v-1h6v1h1v1h-1v1h-6v-1h-1zM936 23h1v-1h5v1h1v1h-1v1h-5v-1h-1zM901 34h1v-1h15v1h1v2h-1v1h-15v-1h-1zM915 19h1v-1h12v1h1v1h-1v1h-12v-1h-1zM949 19h25v2h-25zM938 37h1v-1h19v1h1v1h-1v1h-19v-1h-1zM986 20h1v-1h7v1h1v2h-1v1h-7v-1h-1zM862 27h1v-1h22v1h1v1h-1v1h-22v-1h-1zM899 22h1v-1h13v1h1v1h-1v1h-13v-1h-1zM993 35h1v-1h19v1h1v1h-1v1h-19v-1h-1zM997 45h18v2h-18zM868 38h1v-1h9v1h1v2h-1v1h-9v-1h-1z"/>
<path fill="#ff8800" d="M978 33h21v2h-21zM872 35h1v-1h17v1h1v1h-1v1h-17v-1h-1zM982 33h1v-1h18v1h1v1h-1v1h-18v-1h-1zM986 33h1v-1h19v1h1v2h-1v1h-19v-1h-1zM1003 40h1v-1h17v1h1v1h-1v1h-17v-1h-1zM898 45h25v2h-25zM945 38h27v2h-27zM901 37h1v-1h18v1h1v1h-1v1h-18v-1h-1zM940 45h1v-1h13v1h1v1h-1v1h-13v-1h-1zM964 17h8v2h-8zM995 36h1v-1h14v1h1v1h-1v1h-14v-1h-1zM971 42h18v2h-18zM868 20h24v2h-24zM891 28h14v2h-14zM932 37h1v-1h10v1h1v2h-1v1h-10v-1h-1zM888 34h1v-1h25v1h1v1h-1v1h-25v-1h-1zM896 22h1v-1h25v1h1v1h-1v1h-25v-1h-1zM877 40h1v-1h22v1h1v1h-1v1h-22v-1h-1zM886 31h1v-1h12v1h1v1h-1v1h-12v-1h-1z"/>
<path fill="#0088ff" d="M950 24h1v-1h16v1h1v2h-1v1h-16v-1h-1zM963 30h1v-1h7v1h1v1h-1v1h-7v-1h-1zM891 22h22v2h-22zM994 43h17v2h-17zM888 34h16v2h-16zM974 20h12v2h-12zM904 38h7v2h-7zM961 31h1v-1h22v1h1v1h-1v1h-22v-1h-1zM992 28h1v-1h15v1h1v1h-1v1h-15v-1h-1zM899 43h1v-1h16v1h1v1h-1v1h-16v-1h-1zM924 17h1v-1h11v1h1v1h-1v1h-11v-1h-1z"/>
<path fill="#00ff00" d="M918 32h8v2h-8zM967 21h6v2h-6zM907 39h23v2h-23zM1010 17h1v-1h10v1h1v1h-1v1h-10v-1h-1zM874 42h23v2h-23zM944 20h1v-1h16v1h1v1h-1v1h-16v-1h-1zM962 41h19v2h-19zM966 28h1v-1h21v1h1v1h-1v1h-21v-1h-1zM1002 20h10v2h-10zM873 23h1v-1h22v1h1v1h-1v1h-22v-1h-1zM909 31h1v-1h23v1h1v1h-1v1h-23v-1h-1zM969 26h21v2h-21zM872 17h1v-1h8v1h1v1h-1v1h-8v-1h-1z"/>
<path fill="#d01555" d="M1211 29h1v-1h14v1h1v1h-1v1h-14v-1h-1zM1190 34h1v-1h13v1h1v1h-1v1h-13v-1h-1zM1158 40h1v-1h6v1h1v1h-1v1h-6v-1h-1zM1160 35h12v2h-12zM1156 27h1v-1h8v1h1v1h-1v1h-8v-1h-1zM1159 43h1v-1h23v1h1v2h-1v1h-23v-1h-1z"/>
<path fill="#d05515" d="M1201 35h1v-1h25v1h1v1h-1v1h-25v-1h-1zM1177 34h1v-1h6v1h1v1h-1v1h-6v-1h-1zM1169 35h16v2h-16zM1186 37h21v2h-21zM1228 43h17v2h-17zM1233 40h1v-1h19v1h1v2h-1v1h-19v-1h-1zM1170 33h1v-1h13v1h1v1h-1v1h-13v-1h-1zM1200 37h1v-1h23v1h1v2h-1v1h-23v-1h-1zM1199 37h1v-1h6v1h1v2h-1v1h-6v-1h-1z"/>
<path fill="#ff00ff" d="M1208 29h1v-1h17v1h1v1h-1v1h-17v-1h-1zM1188 40h1v-1h12v1h1v1h-1v1h-12v-1h-1zM1236 33h18v2h-18zM1233 39h1v-1h10v1h1v1h-1v1h-10v-1h-1zM1174 29h1v-1h8v1h1v1h-1v1h-8v-1h-1z"/>
<path fill="#ff0088" d="M1161 37h14v2h-14zM1234 38h1v-1h6v1h1v2h-1v1h-6v-1h-1zM1149 34h1v-1h5v1h1v1h-1v1h-5v-1h-1zM1174 31h26v2h-26zM1225 29h18v2h-18zM1240 32h14v2h-14zM1144 25h9v2h-9zM1232 27h1v-1h25v1h1v1h-1v1h-25v-1h-1z"/>
<path fill="#00ffff" d="M1249 28h1v-1h6v1h1v2h-1v1h-6v-1h-1zM1191 41h1v-1h23v1h1v2h-1v1h-23v-1h-1zM1214 38h13v2h-13zM1161 28h9v2h-9zM1217 32h1v-1h20v1h1v2h-1v1h-20v-1h-1zM1176 31h1v-1h18v1h1v1h-1v1h-18v-1h-1zM1189 29h1v-1h11v1h1v1h-1v1h-11v-1h-1zM1171 38h26v2h-26zM1153 42h1v-1h25v1h1v2h-1v1h-25v-1h-1zM1235 38h1v-1h8v1h1v2h-1v1h-8v-1h-1z"/>
<path fill="#ff0000" d="M1225 37h1v-1h25v1h1v1h-1v1h-25v-1h-1zM1205 44h1v-1h5v1h1v1h-1v1h-5v-1h-1zM1181 27h22v2h-22zM1163 27h1v-1h11v1h1v1h-1v1h-11v-1h-1z"/>
<path fill="#aa00ff" d="M1189 28h1v-1h23v1h1v1h-1v1h-23v-1h-1zM1143 30h1v-1h5v1h1v1h-1v1h-5v-1h-1zM1177 40h19v2h-19zM1224 41h20v2h-20zM1210 42h13v2h-13zM1180 34h1v-1h25v1h1v1h-1v1h-25v-1h-1zM1167 44h26v2h-26zM1176 29h1v-1h17v1h1v1h-1v1h-17v-1h-1zM1211 38h11v2h-11z"/>
<path fill="#ff8800" d="M1158 41h20v2h-20zM1163 38h1v-1h8v1h1v1h-1v1h-8v-1h-1zM1240 38h1v-1h8v1h1v2h-1v1h-8v-1h-1zM1154 28h1v-1h11v1h1v1h-1v1h-11v-1h-1zM1149 37h16v2h-16zM1235 28h1v-1h8v1h1v1h-1v1h-8v-1h-1zM1157 29h21v2h-21zM1195 40h1v-1h13v1h1v1h-1v1h-13v-1h-1zM1213 33h1v-1h18v1h1v1h-1v1h-18v-1h-1zM1193 41h1v-1h24v1h1v1h-1v1h-24v-1h-1zM1170 31h21v2h-21z"/>
<path fill="#ffff00" d="M1215 39h14v2h-14zM1192 43h1v-1h5v1h1v1h-1v1h-5v-1h-1zM1228 33h7v2h-7zM1173 31h1v-1h13v1h1v1h-1v1h-13v-1h-1zM1174 28h7v2h-7zM1190 32h1v-1h21v1h1v1h-1v1h-21v-1h-1zM1181 42h1v-1h11v1h1v2h-1v1h-11v-1h-1z"/>
<path fill="#a80055" d="M1180 37h12v2h-12zM1237 45h1v-1h16v1h1v1h-1v1h-16v-1h-1zM1157 31h1v-1h21v1h1v1h-1v1h-21v-1h-1zM1220 27h1v-1h19v1h1v1h-1v1h-19v-1h-1zM1180 33h15v2h-15zM1195 39h1v-1h16v1h1v1h-1v1h-16v-1h-1zM1178 40h1v-1h13v1h1v1h-1v1h-13v-1h-1z"/>
<path fill="#00dd99" d="M1227 34h17v2h-17zM1204 40h1v-1h13v1h1v1h-1v1h-13v-1h-1zM1156 41h1v-1h24v1h1v2h-1v1h-24v-1h-1zM1255 45h1v-1h5v1h1v1h-1v1h-5v-1h-1zM1169 44h1v-1h10v1h1v2h-1v1h-10v-1h-1zM1222 41h1v-1h18v1h1v1h-1v1h-18v-1h-1zM1203 28h1v-1h19v1h1v1h-1v1h-19v-1h-1zM1201 42h7v2h-7zM1190 36h1v-1h5v1h1v1h-1v1h-5v-1h-1zM1177 26h1v-1h25v1h1v1h-1v1h-25v-1h-1zM1140 41h1v-1h12v1h1v2h-1v1h-12v-1h-1z"/>
<path fill="#0000ff" d="M1156 43h1v-1h14v1h1v2h-1v1h-14v-1h-1zM1200 27h1v-1h17v1h1v1h-1v1h-17v-1h-1zM1174 36h1v-1h12v1h1v1h-1v1h-12v-1h-1zM1181 38h23v2h-23zM1205 35h1v-1h17v1h1v2h-1v1h-17v-1h-1zM1252 39h7v2h-7z"/>
<path fill="#d09050" d="M1194 35h20v2h-20zM1225 34h1v-1h9v1h1v1h-1v1h-9v-1h-1zM1144 41h20v2h-20zM1233 45h8v2h-8zM1228 35h1v-1h8v1h1v1h-1v1h-8v-1h-1zM1216 31h9v2h-9zM1191 41h1v-1h21v1h1v1h-1v1h-21v-1h-1z"/>
<path fill="#0088ff" d="M1217 29h1v-1h10v1h1v1h-1v1h-10v-1h-1zM1192 28h21v2h-21zM1230 31h12v2h-12zM1222 32h1v-1h21v1h1v2h-1v1h-21v-1h-1zM1171 32h19v2h-19zM1160 43h26v2h-26z"/>
<path fill="#00ff00" d="M1192 34h14v2h-14zM1188 41h20v2h-20zM1183 42h19v2h-19zM1231 41h1v-1h10v1h1v2h-1v1h-10v-1h-1z"/>
<path fill="#00ff00" d="M1041 137h1v-1h10v1h1v1h-1v1h-10v-1h-1zM1082 132h1v-1h20v1h1v1h-1v1h-20v-1h-1zM871 129h1v-1h25v1h1v2h-1v1h-25v-1h-1zM927 138h9v2h-9zM1074 126h1v-1h8v1h1v2h-1v1h-8v-1h-1zM899 136h1v-1h5v1h1v2h-1v1h-5v-1h-1zM952 120h15v2h-15zM962 137h1v-1h21v1h1v1h-1v1h-21v-1h-1zM1030 120h1v-1h8v1h1v1h-1v1h-8v-1h-1zM1046 128h20v2h-20zM1050 135h29v2h-29zM1100 116h28v2h-28zM912 118h1v-1h25v1h1v1h-1v1h-25v-1h-1zM969 129h1v-1h13v1h1v1h-1v1h-13v-1h-1zM935 136h15v2h-15zM886 138h1v-1h14v1h1v2h-1v1h-14v-1h-1zM913 134h16v2h-16zM867 123h1v-1h26v1h1v1h-1v1h-26v-1h-1z"/>
<path fill="#00ffff" d="M917 123h1v-1h7v1h1v1h-1v1h-7v-1h-1zM1050 130h1v-1h24v1h1v1h-1v1h-24v-1h-1zM981 116h1v-1h14v1h1v1h-1v1h-14v-1h-1zM953 116h13v2h-13zM919 123h1v-1h7v1h1v2h-1v1h-7v-1h-1zM870 118h1v-1h21v1h1v2h-1v1h-21v-1h-1zM1072 137h29v2h-29zM1000 121h1v-1h15v1h1v2h-1v1h-15v-1h-1zM1100 133h1v-1h12v1h1v1h-1v1h-12v-1h-1zM872 122h1v-1h5v1h1v2h-1v1h-5v-1h-1zM913 135h1v-1h19v1h1v1h-1v1h-19v-1h-1zM979 126h1v-1h20v1h1v2h-1v1h-20v-1h-1zM1051 123h1v-1h23v1h1v2h-1v1h-23v-1h-1zM1038 118h1v-1h18v1h1v1h-1v1h-18v-1h-1z"/>
<path fill="#d05515" d="M1128 140h1v-1h7v1h1v1h-1v1h-7v-1h-1zM1077 135h1v-1h8v1h1v2h-1v1h-8v-1h-1zM895 136h28v2h-28zM924 133h1v-1h26v1h1v1h-1v1h-26v-1h-1zM879 122h1v-1h6v1h1v2h-1v1h-6v-1h-1zM885 136h27v2h-27zM1060 127h7v2h-7zM956 138h8v2h-8zM966 125h24v2h-24zM877 120h1v-1h21v1h1v1h-1v1h-21v-1h-1zM1103 139h9v2h-9zM1087 138h1v-1h22v1h1v2h-1v1h-22v-1h-1zM986 136h21v2h-21zM946 125h13v2h-13zM1037 132h1v-1h19v1h1v2h-1v1h-19v-1h-1z"/>
<path fill="#0000ff" d="M896 138h1v-1h15v1h1v1h-1v1h-15v-1h-1zM1023 132h1v-1h20v1h1v2h-1v1h-20v-1h-1zM911 136h1v-1h25v1h1v2h-1v1h-25v-1h-1zM1072 117h1v-1h27v1h1v1h-1v1h-27v-1h-1zM982 129h25v2h-25zM933 118h1v-1h5v1h1v1h-1v1h-5v-1h-1zM900 127h7v2h-7zM980 135h1v-1h9v1h1v2h-1v1h-9v-1h-1zM1019 133h1v-1h12v1h1v1h-1v1h-12v-1h-1zM866 120h1v-1h5v1h1v2h-1v1h-5v-1h-1zM1053 116h1v-1h6v1h1v1h-1v1h-6v-1h-1zM1019 119h26v2h-26zM1104 129h1v-1h18v1h1v1h-1v1h-18v-1h-1z"/>
<path fill="#00dd99" d="M1108 133h1v-1h24v1h1v1h-1v1h-24v-1h-1zM973 133h1v-1h19v1h1v2h-1v1h-19v-1h-1zM1096 130h12v2h-12zM1037 139h1v-1h9v1h1v1h-1v1h-9v-1h-1zM889 119h1v-1h24v1h1v2h-1v1h-24v-1h-1zM960 119h24v2h-24zM1033 126h1v-1h9v1h1v1h-1v1h-9v-1h-1zM923 115h27v2h-27zM869 115h27v2h-27zM932 136h16v2h-16zM1007 124h28v2h-28zM927 126h13v2h-13zM904 127h16v2h-16z"/>
<path fill="#ff00ff" d="M1000 121h10v2h-10zM1071 133h1v-1h14v1h1v1h-1v1h-14v-1h-1zM1115 129h1v-1h12v1h1v1h-1v1h-12v-1h-1zM926 135h1v-1h28v1h1v1h-1v1h-28v-1h-1zM867 138h1v-1h21v1h1v2h-1v1h-21v-1h-1zM1082 128h17v2h-17zM1014 122h1v-1h20v1h1v1h-1v1h-20v-1h-1zM883 130h20v2h-20zM972 118h22v2h-22zM1020 124h1v-1h15v1h1v2h-1v1h-15v-1h-1z"/>
<path fill="#ffff00" d="M912 124h12v2h-12zM890 121h1v-1h8v1h1v1h-1v1h-8v-1h-1zM932 130h9v2h-9zM894 120h1v-1h6v1h1v1h-1v1h-6v-1h-1zM987 128h16v2h-16zM916 136h1v-1h11v1h1v1h-1v1h-11v-1h-1zM878 138h1v-1h25v1h1v1h-1v1h-25v-1h-1zM988 122h1v-1h10v1h1v1h-1v1h-10v-1h-1zM1016 123h14v2h-14zM1070 116h1v-1h27v1h1v1h-1v1h-27v-1h-1zM995 126h29v2h-29zM1034 138h1v-1h19v1h1v1h-1v1h-19v-1h-1zM1080 118h16v2h-16z"/>
<path fill="#ff8800" d="M1051 134h17v2h-17zM993 119h1v-1h24v1h1v1h-1v1h-24v-1h-1zM886 130h26v2h-26zM1100 127h1v-1h18v1h1v1h-1v1h-18v-1h-1zM1057 123h24v2h-24zM1098 125h10v2h-10zM948 137h15v2h-15zM1093 129h17v2h-17zM1001 126h6v2h-6z"/>
<path fill="#ff0088" d="M1093 133h1v-1h17v1h1v1h-1v1h-17v-1h-1zM1014 120h1v-1h5v1h1v1h-1v1h-5v-1h-1zM1001 123h1v-1h11v1h1v1h-1v1h-11v-1h-1zM969 134h1v-1h20v1h1v1h-1v1h-20v-1h-1zM878 125h9v2h-9zM891 126h1v-1h27v1h1v1h-1v1h-27v-1h-1zM965 118h1v-1h14v1h1v2h-1v1h-14v-1h-1zM1002 129h1v-1h22v1h1v2h-1v1h-22v-1h-1zM905 127h10v2h-10zM865 135h25v2h-25zM1017 126h1v-1h4v1h1v1h-1v1h-4v-1h-1zM880 126h19v2h-19zM983 128h26v2h-26zM1096 135h26v2h-26zM1025 125h1v-1h11v1h1v1h-1v1h-11v-1h-1zM1005 133h27v2h-27z"/>
<path fill="#aa00ff" d="M1017 130h23v2h-23zM923 135h1v-1h9v1h1v1h-1v1h-9v-1h-1zM886 127h13v2h-13zM1094 132h1v-1h18v1h1v2h-1v1h-18v-1h-1zM1041 132h1v-1h24v1h1v1h-1v1h-24v-1h-1zM973 126h1v-1h23v1h1v2h-1v1h-23v-1h-1zM885 128h1v-1h28v1h1v1h-1v1h-28v-1h-1zM1077 134h1v-1h6v1h1v1h-1v1h-6v-1h-1zM875 117h1v-1h9v1h1v1h-1v1h-9v-1h-1zM1098 120h1v-1h25v1h1v1h-1v1h-25v-1h-1zM910 121h1v-1h24v1h1v1h-1v1h-24v-1h-1zM971 118h1v-1h15v1h1v1h-1v1h-15v-1h-1zM1097 123h23v2h-23zM915 138h1v-1h5v1h1v2h-1v1h-5v-1h-1zM1081 140h16v2h-16z"/>
<path fill="#ff0000" d="M1072 125h12v2h-12zM901 138h29v2h-29zM874 116h13v2h-13zM1017 137h1v-1h23v1h1v1h-1v1h-23v-1h-1zM975 138h1v-1h5v1h1v1h-1v1h-5v-1h-1zM1022 138h20v2h-20zM1095 132h1v-1h10v1h1v1h-1v1h-10v-1h-1zM1015 126h1v-1h7v1h1v1h-1v1h-7v-1h-1zM1079 119h1v-1h16v1h1v1h-1v1h-16v-1h-1zM1010 125h25v2h-25zM1109 124h1v-1h15v1h1v1h-1v1h-15v-1h-1zM938 127h10v2h-10zM1119 118h1v-1h9v1h1v2h-1v1h-9v-1h-1z"/>
<path fill="#d09050" d="M872 139h17v2h-17zM1104 133h13v2h-13zM983 128h1v-1h25v1h1v1h-1v1h-25v-1h-1zM972 121h24v2h-24zM877 126h1v-1h11v1h1v1h-1v1h-11v-1h-1zM905 117h11v2h-11zM1016 121h1v-1h19v1h1v1h-1v1h-19v-1h-1zM863 122h12v2h-12zM896 119h1v-1h25v1h1v1h-1v1h-25v-1h-1z"/>
<path fill="#d01555" d="M1117 120h1v-1h6v1h1v1h-1v1h-6v-1h-1zM909 125h1v-1h23v1h1v1h-1v1h-23v-1h-1zM1014 133h1v-1h6v1h1v2h-1v1h-6v-1h-1zM923 129h1v-1h16v1h1v1h-1v1h-16v-1h-1zM902 120h1v-1h12v1h1v2h-1v1h-12v-1h-1zM899 138h19v2h-19zM994 128h1v-1h15v1h1v2h-1v1h-15v-1h-1zM905 134h1v-1h21v1h1v1h-1v1h-21v-1h-1zM1087 127h1v-1h14v1h1v2h-1v1h-14v-1h-1zM1057 133h29v2h-29zM959 118h30v2h-30zM1005 130h1v-1h22v1h1v1h-1v1h-22v-1h-1zM1072 135h7v2h-7zM931 133h16v2h-16zM1101 136h1v-1h7v1h1v1h-1v1h-7v-1h-1zM1121 117h11v2h-11zM1035 117h1v-1h15v1h1v2h-1v1h-15v-1h-1z"/>
<path fill="#a80055" d="M1025 128h1v-1h6v1h1v1h-1v1h-6v-1h-1zM1010 129h17v2h-17zM1000 129h1v-1h6v1h1v1h-1v1h-6v-1h-1zM1118 122h1v-1h8v1h1v2h-1v1h-8v-1h-1zM1020 139h1v-1h22v1h1v1h-1v1h-22v-1h-1zM955 116h1v-1h24v1h1v1h-1v1h-24v-1h-1zM1015 129h1v-1h14v1h1v2h-1v1h-14v-1h-1zM1096 133h1v-1h24v1h1v1h-1v1h-24v-1h-1zM1064 123h1v-1h14v1h1v1h-1v1h-14v-1h-1zM997 122h1v-1h6v1h1v1h-1v1h-6v-1h-1zM971 125h1v-1h25v1h1v1h-1v1h-25v-1h-1zM1006 138h21v2h-21zM1096 140h1v-1h16v1h1v1h-1v1h-16v-1h-1zM940 122h1v-1h14v1h1v1h-1v1h-14v-1h-1zM1091 116h7v2h-7z"/>
<path fill="#0088ff" d="M1100 123h1v-1h18v1h1v1h-1v1h-18v-1h-1zM1115 120h14v2h-14zM1014 129h12v2h-12zM1095 133h1v-1h18v1h1v1h-1v1h-18v-1h-1zM961 126h29v2h-29zM935 116h1v-1h14v1h1v1h-1v1h-14v-1h-1zM925 127h26v2h-26zM930 119h16v2h-16zM887 138h29v2h-29zM1074 133h1v-1h8v1h1v1h-1v1h-8v-1h-1z"/>
<path fill="#ff8800" d="M952 174h1v-1h7v1h1v1h-1v1h-7v-1h-1zM945 158h6v2h-6zM1001 168h7v2h-7zM870 163h22v2h-22zM938 171h12v2h-12zM889 162h17v2h-17z"/>
<path fill="#ff00ff" d="M869 165h22v2h-22zM916 174h1v-1h9v1h1v2h-1v1h-9v-1h-1zM896 169h1v-1h15v1h1v1h-1v1h-15v-1h-1zM893 173h1v-1h6v1h1v1h-1v1h-6v-1h-1zM937 173h11v2h-11zM891 174h1v-1h24v1h1v1h-1v1h-24v-1h-1zM919 172h19v2h-19zM978 173h1v-1h17v1h1v1h-1v1h-17v-1h-1z"/>
<path fill="#ff0088" d="M960 160h21v2h-21zM895 163h1v-1h16v1h1v2h-1v1h-16v-1h-1zM860 175h1v-1h19v1h1v1h-1v1h-19v-1h-1zM990 166h1v-1h13v1h1v1h-1v1h-13v-1h-1zM990 169h1v-1h16v1h1v1h-1v1h-16v-1h-1z"/>
<path fill="#d09050" d="M961 164h25v2h-25zM882 165h12v2h-12zM959 166h24v2h-24zM949 170h18v2h-18zM911 161h11v2h-11zM879 167h1v-1h23v1h1v1h-1v1h-23v-1h-1z"/>
<path fill="#00ff00" d="M932 170h20v2h-20zM991 160h1v-1h15v1h1v2h-1v1h-15v-1h-1zM892 167h23v2h-23zM973 164h1v-1h12v1h1v1h-1v1h-12v-1h-1z"/>
<path fill="#aa00ff" d="M940 174h25v2h-25zM904 165h1v-1h18v1h1v2h-1v1h-18v-1h-1zM977 162h1v-1h6v1h1v2h-1v1h-6v-1h-1zM994 173h1v-1h7v1h1v1h-1v1h-7v-1h-1z"/>
<path fill="#d05515" d="M884 160h1v-1h17v1h1v1h-1v1h-17v-1h-1zM922 165h14v2h-14zM987 176h10v2h-10zM980 160h1v-1h18v1h1v2h-1v1h-18v-1h-1zM951 162h23v2h-23zM888 173h1v-1h25v1h1v2h-1v1h-25v-1h-1zM974 169h18v2h-18z"/>
<path fill="#ffff00" d="M873 173h1v-1h21v1h1v1h-1v1h-21v-1h-1zM974 160h1v-1h5v1h1v1h-1v1h-5v-1h-1zM962 174h1v-1h25v1h1v2h-1v1h-25v-1h-1zM906 160h22v2h-22zM923 173h1v-1h10v1h1v2h-1v1h-10v-1h-1zM863 167h1v-1h8v1h1v1h-1v1h-8v-1h-1zM909 168h24v2h-24z"/>
<path fill="#00dd99" d="M924 170h17v2h-17zM893 166h21v2h-21zM873 170h25v2h-25zM981 169h20v2h-20zM948 164h1v-1h9v1h1v2h-1v1h-9v-1h-1zM971 161h12v2h-12z"/>
<path fill="#d01555" d="M960 168h8v2h-8zM963 160h23v2h-23zM907 175h1v-1h13v1h1v1h-1v1h-13v-1h-1z"/>
<path fill="#ff0000" d="M985 159h1v-1h22v1h1v1h-1v1h-22v-1h-1zM890 160h15v2h-15zM884 165h1v-1h18v1h1v1h-1v1h-18v-1h-1zM901 169h13v2h-13z"/>
<path fill="#a80055" d="M987 163h1v-1h10v1h1v1h-1v1h-10v-1h-1zM975 171h25v2h-25zM994 168h14v2h-14z"/>
<path fill="#00ffff" d="M967 165h1v-1h20v1h1v1h-1v1h-20v-1h-1z"/>
<path fill="#0000ff" d="M920 175h1v-1h19v1h1v1h-1v1h-19v-1h-1zM942 165h1v-1h13v1h1v1h-1v1h-13v-1h-1z"/>
<path fill="#0088ff" d="M868 170h1v-1h24v1h1v2h-1v1h-24v-1h-1zM866 175h1v-1h4v1h1v1h-1v1h-4v-1h-1zM963 166h1v-1h25v1h1v1h-1v1h-25v-1h-1zM862 164h1v-1h25v1h1v1h-1v1h-25v-1h-1z"/>
<path fill="#ff0088" d="M984 192h27v2h-27zM1025 200h23v2h-23zM881 194h1v-1h14v1h1v1h-1v1h-14v-1h-1zM877 192h1v-1h12v1h1v1h-1v1h-12v-1h-1z"/>
<path fill="#0000ff" d="M988 200h1v-1h5v1h1v1h-1v1h-5v-1h-1zM897 195h1v-1h12v1h1v1h-1v1h-12v-1h-1zM916 200h14v2h-14zM982 194h6v2h-6zM950 191h1v-1h9v1h1v1h-1v1h-9v-1h-1zM883 192h1v-1h11v1h1v1h-1v1h-11v-1h-1zM1029 191h1v-1h17v1h1v1h-1v1h-17v-1h-1zM939 200h7v2h-7zM1004 194h16v2h-16z"/>
<path fill="#ff8800" d="M990 193h11v2h-11zM896 192h1v-1h25v1h1v1h-1v1h-25v-1h-1zM900 193h1v-1h11v1h1v1h-1v1h-11v-1h-1zM905 194h1v-1h19v1h1v1h-1v1h-19v-1h-1z"/>
<path fill="#ff00ff" d="M954 193h1v-1h9v1h1v1h-1v1h-9v-1h-1zM939 199h24v2h-24zM940 192h1v-1h24v1h1v1h-1v1h-24v-1h-1zM979 202h1v-1h14v1h1v1h-1v1h-14v-1h-1zM865 195h19v2h-19zM889 201h1v-1h18v1h1v1h-1v1h-18v-1h-1zM1001 200h1v-1h25v1h1v1h-1v1h-25v-1h-1z"/>
<path fill="#d05515" d="M974 195h1v-1h16v1h1v1h-1v1h-16v-1h-1zM870 192h21v2h-21zM1004 195h1v-1h8v1h1v1h-1v1h-8v-1h-1zM922 200h9v2h-9zM978 199h1v-1h18v1h1v1h-1v1h-18v-1h-1z"/>
<path fill="#ff0000" d="M1034 198h9v2h-9zM940 195h19v2h-19zM971 199h15v2h-15zM996 200h1v-1h16v1h1v1h-1v1h-16v-1h-1z"/>
<path fill="#0088ff" d="M889 201h1v-1h5v1h1v1h-1v1h-5v-1h-1zM1043 194h9v2h-9zM1046 191h9v2h-9zM920 197h1v-1h8v1h1v1h-1v1h-8v-1h-1zM890 202h22v2h-22zM937 196h1v-1h14v1h1v1h-1v1h-14v-1h-1zM948 198h26v2h-26zM861 200h26v2h-26z"/>
<path fill="#00dd99" d="M947 200h9v2h-9zM902 197h1v-1h11v1h1v1h-1v1h-11v-1h-1zM1009 197h1v-1h22v1h1v1h-1v1h-22v-1h-1zM917 196h1v-1h5v1h1v1h-1v1h-5v-1h-1zM888 192h21v2h-21zM925 194h1v-1h16v1h1v1h-1v1h-16v-1h-1zM1006 199h1v-1h9v1h1v1h-1v1h-9v-1h-1zM916 195h1v-1h18v1h1v1h-1v1h-18v-1h-1z"/>
<path fill="#a80055" d="M1017 199h14v2h-14zM967 196h1v-1h6v1h1v1h-1v1h-6v-1h-1z"/>
<path fill="#ffff00" d="M907 202h15v2h-15zM971 197h1v-1h14v1h1v1h-1v1h-14v-1h-1zM980 195h26v2h-26zM1015 201h16v2h-16z"/>
<path fill="#00ff00" d="M1023 201h12v2h-12zM861 199h1v-1h13v1h1v1h-1v1h-13v-1h-1zM972 193h26v2h-26zM956 200h1v-1h25v1h1v1h-1v1h-25v-1h-1z"/>
<path fill="#aa00ff" d="M985 198h22v2h-22zM1034 199h1v-1h18v1h1v1h-1v1h-18v-1h-1zM932 196h11v2h-11z"/>
<path fill="#d01555" d="M1013 201h1v-1h22v1h1v1h-1v1h-22v-1h-1zM965 200h1v-1h23v1h1v1h-1v1h-23v-1h-1zM891 198h1v-1h11v1h1v1h-1v1h-11v-1h-1zM969 193h13v2h-13zM881 197h26v2h-26z"/>
<path fill="#00ffff" d="M1036 198h1v-1h15v1h1v1h-1v1h-15v-1h-1z"/>
<path fill="#d09050" d="M1000 196h11v2h-11zM899 199h1v-1h20v1h1v1h-1v1h-20v-1h-1z"/>
<path fill="#ffff00" d="M1105 163h11v2h-11zM1193 158h17v2h-17zM1039 155h14v2h-14zM1121 185h13v1h-13zM1158 150h18v2h-18zM1015 143h7v2h-7zM1116 146h22v2h-22zM1105 145h7v2h-7zM1014 141h22v1h-22z"/>
<path fill="#00ffff" d="M1058 151h20v2h-20zM1036 179h10v2h-10zM1029 173h12v2h-12zM1244 185h14v2h-14zM1027 140h18v2h-18zM1191 161h17v2h-17zM1110 162h15v2h-15zM1131 191h21v2h-21zM1036 141h21v2h-21zM1115 145h22v2h-22z"/>
<path fill="#ff0000" d="M1156 140h5v2h-5zM1125 140h13v2h-13zM1144 152h17v2h-17zM1216 152h7v2h-7zM1016 149h11v2h-11zM1200 190h18v2h-18zM1049 163h22v2h-22zM1214 170h21v2h-21zM1005 147h14v2h-14zM1232 163h21v2h-21z"/>
<path fill="#a80055" d="M1007 163h19v2h-19zM1079 167h17v2h-17zM1208 160h18v1h-18zM1055 149h20v2h-20zM1020 173h14v2h-14zM1082 148h18v1h-18zM1132 184h19v2h-19zM1178 176h6v2h-6zM1153 159h21v2h-21z"/>
<path fill="#ff8800" d="M1104 174h19v2h-19zM1172 189h6v1h-6zM1055 160h18v2h-18zM1177 151h8v2h-8zM1126 172h18v2h-18zM1050 170h8v2h-8zM1133 163h16v1h-16z"/>
<path fill="#d01555" d="M1247 184h10v1h-10zM1224 165h20v2h-20zM1221 141h17v2h-17zM1056 144h16v2h-16zM1098 141h14v2h-14zM1036 160h21v1h-21zM1117 153h12v2h-12zM1102 175h14v1h-14zM1163 160h9v2h-9zM1243 161h8v1h-8zM1182 169h15v2h-15zM1161 141h16v2h-16zM1237 140h17v2h-17zM1153 161h13v2h-13zM1113 178h10v2h-10z"/>
<polygon fill="#d01555" points="860,8.2 877.5,8.2 878.8,17.5 860,18.8"/>
<polygon fill="#00ff00" points="877.5,11.2 925,10 975,12.5 976.2,18 925,19.5 880,18.8"/>
<polygon fill="#d09050" points="975,8.8 1075,8.2 1075,15.5 990,16.2"/>
<polygon fill="#ff8800" points="1025,13.8 1065,13 1066.2,22.5 1026.2,22"/>
<polygon fill="#ff8800" points="1070,8.2 1263.8,8.2 1263.8,27.5 1225,25 1200,21.2 1150,27.5 1132.5,23.8 1100,21.2 1075,18.8"/>
<ellipse fill="#a80055" cx="1063.8" cy="13.8" rx="6.8" ry="4.2"/>
<rect fill="#0000ff" x="1198.8" y="8.8" width="16.2" height="3.8"/>
<ellipse fill="#aa00ff" cx="1230" cy="12.5" rx="5.5" ry="3"/>
<ellipse fill="#ff00ff" cx="1246.2" cy="12.8" rx="6.8" ry="3.2"/>
<ellipse fill="#ffffff" cx="1256.2" cy="21.2" rx="2.5" ry="1.8"/>
<polygon fill="#d01555" points="860,23.8 900,23 901.2,30 861.2,30.5"/>
<rect fill="#ffff00" x="865" y="15" width="17.5" height="3.8"/>
<polygon fill="#ff0088" points="887.5,17.5 915,18 915.5,23.8 888.8,24"/>
<rect fill="#00ff00" x="872.5" y="35" width="17.5" height="3.8"/>
<rect fill="#ff8800" x="895" y="23.8" width="25" height="3.8"/>
<rect fill="#ffff00" x="910" y="30" width="17.5" height="3.8"/>
<rect fill="#0000ff" x="907.5" y="25" width="12.5" height="3"/>
<rect fill="#00ffff" x="965" y="23.8" width="15" height="3.8"/>
<rect fill="#ff00ff" x="932.5" y="19.5" width="22.5" height="3.5"/>
<rect fill="#ffff00" x="945" y="25" width="17.5" height="3"/>
<rect fill="#00ff00" x="925" y="26.2" width="15" height="3.2"/>
<rect fill="#ff0088" x="865" y="31.2" width="30" height="3.8"/>
<rect fill="#ff8800" x="860" y="37.5" width="20" height="3.8"/>
<rect fill="#d09050" x="955" y="28.8" width="35" height="3.8"/>
<polygon fill="#00dd99" points="935,32.5 990,32 991.2,41.2 936.2,42"/>
<polygon fill="#00dd99" points="980,41.2 1017.5,40.5 1018,51.2 981.2,51.8"/>
<polygon fill="#ff00ff" points="927.5,40 960,39.5 960.5,47.5 928.8,48"/>
<rect fill="#ffff00" x="997.5" y="15" width="22.5" height="5"/>
<rect fill="#ffff00" x="1045" y="23.8" width="12.5" height="3.8"/>
<rect fill="#ff0088" x="985" y="20" width="25" height="5"/>
<rect fill="#d01555" x="990" y="25" width="22.5" height="7.5"/>
<polygon fill="#aa00ff" points="1010,25 1040,21.2 1075,25 1115,30 1150,32.5 1145,41.2 1100,43.8 1065,45 1025,45 1012.5,37.5"/>
<polygon fill="#ff0088" points="1082.5,21.2 1102.5,21.5 1103,27.5 1083.8,27.5"/>
<polygon fill="#d09050" points="1107.5,22.5 1130,23 1130.5,28.8 1108.8,29"/>
<ellipse fill="#00ff00" cx="1125" cy="31.9" rx="8" ry="3.6"/>
<polygon fill="#d01555" points="900,37.5 927.5,37.5 928,45 901.2,45.5"/>
<rect fill="#a80055" x="1025" y="37.5" width="20" height="5"/>
<ellipse fill="#ff0000" cx="1071.2" cy="45.6" rx="6.8" ry="3.6"/>
<rect fill="#ff0000" x="1025" y="27.5" width="15" height="3"/>
<rect fill="#00ffff" x="1025" y="31.2" width="15" height="2.5"/>
<polygon fill="#ff0088" points="1150,28.8 1180,28 1180.5,33.8 1151.2,34"/>
<polygon fill="#ff8800" points="1182.5,27.5 1225,27 1225.5,32.5 1183.8,33"/>
<rect fill="#00ff00" x="1157.5" y="32" width="17.5" height="3"/>
<rect fill="#0000ff" x="1222.5" y="30" width="17.5" height="5"/>
<polygon fill="#ffff00" points="1235,37.5 1263.8,37 1263.8,42.5 1236.2,43"/>
<polygon fill="#d01555" points="1195,33.8 1225,33.5 1225.5,40 1196.2,40.5"/>
<rect fill="#aa00ff" x="1195" y="41.2" width="15" height="5"/>
<rect fill="#ff0088" x="1240" y="27.5" width="20" height="5"/>
<rect fill="#00ffff" x="1225" y="35" width="15" height="3.8"/>
<rect fill="#d01555" x="1147.5" y="37.5" width="47.5" height="6.2"/>
<rect fill="#ff8800" x="1125" y="40" width="25" height="5"/>
<rect fill="#ff0088" x="1210" y="40" width="30" height="5"/>
<ellipse fill="#ffffff" cx="1058.8" cy="49.4" rx="2.5" ry="2.1"/>
<rect fill="#d01555" x="860" y="42.5" width="40" height="7.5"/>
<rect fill="#ff0088" x="895" y="45.5" width="37.5" height="4"/>
<ellipse fill="#ffffff" cx="870" cy="45" rx="2.2" ry="2.2"/>
<polygon fill="#00ffff" points="860,50 900,47.5 932.5,48.8 957.5,46.2 980,50 1000,53.8 1050,53.8 1075,48.8 1100,46.2 1125,42.5 1175,45 1200,46.2 1225,43.8 1263.8,46.2 1263.8,65.5 1225,67.5 1200,65.5 1162.5,65.5 1145,62.5 1112.5,63.8 1075,65.5 1050,67 1000,67.5 962.5,68.8 925,68 887.5,70 860,70"/>
<polygon fill="#ff0088" points="1090,59.5 1110,59 1110.5,65.5 1091.2,66"/>
<rect fill="#ffff00" x="1080" y="58.8" width="10" height="3.8"/>
<rect fill="#0000ff" x="1075" y="61.2" width="10" height="4.2"/>
<polygon fill="#a80055" points="1112.5,63.8 1147.5,63 1148,68.8 1113.8,69.2"/>
<rect fill="#ff8800" x="1217.5" y="56.2" width="10" height="5"/>
<rect fill="#ff8800" x="882.5" y="60" width="7.5" height="2.5"/>
<ellipse fill="#a80055" cx="992.5" cy="53.8" rx="7.5" ry="2.5"/>
<rect fill="#ff00ff" x="1145" y="46.2" width="30" height="2.5"/>
<polygon fill="#ff8800" points="860,70.5 925,68.5 1000,68 1045,70 1040,75 975,73.8 900,75 860,74.5"/>
<rect fill="#d09050" x="1020" y="70" width="25" height="5"/>
<polygon fill="#0000ff" points="1045,68 1072.5,67.5 1073,78 1046.2,78"/>
<polygon fill="#0000ff" points="1075,68 1110,67.5 1110.5,76.2 1076.2,76.5"/>
<polygon fill="#ffff00" points="1110,68.8 1200,68 1200.5,74.5 1111.2,75"/>
<polygon fill="#ffff00" points="1182.5,65.5 1225,65 1225.5,71.2 1183.8,71.5"/>
<rect fill="#ff0088" x="1112.5" y="64.5" width="37.5" height="4.2"/>
<rect fill="#ff8800" x="1225" y="73.8" width="38.8" height="6.2"/>
<rect fill="#00ffff" x="1225" y="65.5" width="38.8" height="7"/>
<rect fill="#ff00ff" x="1205" y="71.2" width="20" height="3.2"/>
<polygon fill="#aa00ff" points="860,75 900,74.5 950,76.2 990,75 1000,82.5 990,90 950,95 900,93 860,93.8"/>
<rect fill="#00ffff" x="990" y="82.5" width="35" height="7.5"/>
<ellipse fill="#ffffff" cx="1005.6" cy="83.4" rx="2.1" ry="2.1"/>
<rect fill="#00ffff" x="932.5" y="75" width="22.5" height="3"/>
<rect fill="#00ff00" x="950" y="72.5" width="17.5" height="3"/>
<polygon fill="#d05515" points="1010,80 1045,76.2 1075,78 1110,76.2 1150,74.5 1225,75 1263.8,77.5 1263.8,97.5 1225,96.2 1200,92.5 1170,96.2 1085,96.2 1075,98 1025,95 1025,88.8"/>
<rect fill="#0088ff" x="1112.5" y="75" width="37.5" height="4.5"/>
<rect fill="#ffff00" x="1190" y="91.2" width="15" height="3.8"/>
<rect fill="#0000ff" x="1202.5" y="92" width="10" height="3.5"/>
<rect fill="#ffff00" x="1040" y="79.5" width="12.5" height="2.5"/>
<rect fill="#d09050" x="1100" y="88" width="17.5" height="2.5"/>
<polygon fill="#d09050" points="1082.5,97 1170,96.2 1170.5,104.5 1083.8,105"/>
<rect fill="#00ff00" x="893.8" y="91.2" width="8.8" height="2.5"/>
<polygon fill="#a80055" points="860,94.5 900,93 950,95.5 982.5,98 1025,95 1075,98 1085,105 1170,104.5 1200,98.8 1225,97.5 1263.8,98 1263.8,131.2 1225,130 1175,125 1130,125 1100,123.8 1050,117.5 1040,110 1000,122.5 950,123.8 900,120 860,117.5"/>
<polygon fill="#00ffff" points="982.5,98 1025,97.5 1025.5,102.5 983.8,103"/>
<ellipse fill="#ffffff" cx="962.5" cy="111.9" rx="4.8" ry="2.1"/>
<rect fill="#0088ff" x="942.5" y="106.2" width="17.5" height="5"/>
<ellipse fill="#ffffff" cx="1101.9" cy="118.4" rx="4.4" ry="3.1"/>
<polygon fill="#ff0088" points="1045,106.2 1095,105.5 1095.5,115 1046.2,115.5"/>
<rect fill="#ff8800" x="1082.5" y="111.2" width="15" height="6.2"/>
<rect fill="#0000ff" x="1040" y="112.5" width="10" height="5"/>
<rect fill="#00ff00" x="1032.5" y="102.5" width="15" height="3.8"/>
<rect fill="#ffff00" x="1152.5" y="108.8" width="7.5" height="2.5"/>
<ellipse fill="#ffffff" cx="1155" cy="117.2" rx="1.8" ry="1.8"/>
<rect fill="#00dd99" x="1170" y="98.8" width="10" height="3.8"/>
<rect fill="#00ff00" x="950" y="110" width="10" height="3"/>
<rect fill="#00dd99" x="970" y="108.8" width="20" height="3.2"/>
<rect fill="#00ffff" x="860" y="116.2" width="20" height="6.2"/>
<polygon fill="#d01555" points="882.5,116.2 925,115.8 925.5,122.5 883.8,123"/>
<polygon fill="#d09050" points="925,122.5 1000,122 1000.5,127.5 926.2,128"/>
<polygon fill="#00dd99" points="860,130 900,129.5 900.5,137.5 861.2,138"/>
<polygon fill="#ff8800" points="900,130 955,129.5 955.5,137.5 901.2,138"/>
<rect fill="#00ff00" x="860" y="140" width="22.5" height="6.2"/>
<rect fill="#ffff00" x="882.5" y="138.8" width="32.5" height="6.2"/>
<rect fill="#ff0000" x="920" y="138.8" width="35" height="5"/>
<rect fill="#ff0088" x="865" y="125" width="35" height="5"/>
<rect fill="#ff00ff" x="885" y="122.5" width="25" height="3.8"/>
<rect fill="#00ff00" x="907.5" y="126.2" width="17.5" height="3.2"/>
<rect fill="#00ffff" x="957.5" y="132.5" width="17.5" height="3.8"/>
<rect fill="#ffff00" x="955" y="137.5" width="15" height="3.8"/>
<rect fill="#ff0000" x="1000" y="118.8" width="25" height="5"/>
<polygon fill="#00ff00" points="1010,123.8 1070,123.2 1070.5,131.2 1011.2,131.8"/>
<rect fill="#ffff00" x="1025" y="128.8" width="50" height="5"/>
<polygon fill="#0000ff" points="1020,132.5 1070,132 1070.5,137.5 1021.2,138"/>
<rect fill="#a80055" x="1000" y="125" width="15" height="6.2"/>
<rect fill="#ff8800" x="970" y="136.2" width="20" height="7.5"/>
<rect fill="#00ffff" x="990" y="131.2" width="20" height="5"/>
<rect fill="#00dd99" x="1065" y="117.5" width="30" height="5"/>
<rect fill="#ff0000" x="1040" y="120" width="25" height="3.8"/>
<rect fill="#ff0088" x="975" y="117.5" width="25" height="3.8"/>
<polygon fill="#d09050" points="1070,126.2 1130,125.8 1130.5,140 1071.2,140.5"/>
<rect fill="#00ffff" x="1100" y="132.5" width="25" height="3.8"/>
<rect fill="#ff8800" x="1075" y="136.2" width="25" height="3.8"/>
<polygon fill="#0088ff" points="1130,126.2 1175,125 1225,130 1263.8,131.2 1263.8,145 1230,146.2 1225,152.5 1175,150 1145,147.5 1130,140"/>
<rect fill="#00ff00" x="1165" y="132.5" width="20" height="3.8"/>
<rect fill="#00ff00" x="1192.5" y="128.8" width="12.5" height="5"/>
<ellipse fill="#ff00ff" cx="1200" cy="147.5" rx="8" ry="4.2"/>
<rect fill="#ff0088" x="1247.5" y="127.5" width="16.2" height="5"/>
<rect fill="#ffff00" x="1210" y="147.5" width="15" height="3.8"/>
<rect fill="#00dd99" x="1150" y="136.2" width="20" height="3.2"/>
<rect fill="#0000ff" x="1175" y="140" width="20" height="3"/>
<polygon fill="#00ff00" points="1230,145 1263.8,144.5 1263.8,153 1231.2,153.5"/>
<polygon fill="#ff0088" points="860,147.5 887.5,146.2 925,143.8 965,142.5 1012.5,140 1025,150 1010,160 975,160 925,162.5 887.5,160 860,160"/>
<polygon fill="#d01555" points="900,156.2 975,155.5 975.5,162.5 901.2,163"/>
<polygon fill="#d01555" points="1012.5,140 1075,137.5 1130,140 1145,147.5 1175,150 1170,155 1137.5,160 1075,160 1025,160 1025,150"/>
<polygon fill="#ff0000" points="1025,138.8 1075,138 1075.5,145 1026.2,145.5"/>
<rect fill="#ff0000" x="1070" y="149.5" width="30" height="3.5"/>
<ellipse fill="#ff8800" cx="1123.1" cy="145.6" rx="4.9" ry="3.6"/>
<rect fill="#ffff00" x="1137.5" y="154.5" width="37.5" height="4.2"/>
<rect fill="#ff0000" x="1120" y="157" width="17.5" height="4.2"/>
<rect fill="#00ff00" x="1118.8" y="161.2" width="11.2" height="2.5"/>
<ellipse fill="#ffffff" cx="1023.8" cy="150.6" rx="2.5" ry="2.1"/>
<ellipse fill="#ffffff" cx="967.5" cy="142.5" rx="3" ry="2.2"/>
<rect fill="#ff00ff" x="865" y="150" width="20" height="3"/>
<rect fill="#00ffff" x="860" y="166.2" width="17.5" height="8.8"/>
<rect fill="#ff8800" x="877.5" y="166.2" width="22.5" height="6.2"/>
<rect fill="#ffff00" x="880" y="172.5" width="30" height="3.8"/>
<rect fill="#00ffff" x="900" y="170" width="25" height="3.8"/>
<rect fill="#d01555" x="925" y="170" width="30" height="5"/>
<rect fill="#00ff00" x="960" y="170" width="20" height="5"/>
<rect fill="#00ffff" x="980" y="167.5" width="30" height="6.2"/>
<rect fill="#d09050" x="955" y="162.5" width="45" height="5"/>
<rect fill="#00ff00" x="1000" y="160" width="10" height="3.8"/>
<rect fill="#ffff00" x="1035" y="165" width="15" height="3.8"/>
<rect fill="#00ff00" x="1020" y="163.8" width="10" height="5"/>
<rect fill="#d01555" x="860" y="160" width="40" height="6.2"/>
<rect fill="#00dd99" x="912.5" y="163.8" width="20" height="3.2"/>
<polygon fill="#d09050" points="860,177.5 912.5,175 1005,174.5 1002.5,183.8 925,186.2 860,185"/>
<polygon fill="#ff0088" points="1005,160 1075,160 1137.5,160 1175,157.5 1263.8,153.8 1263.8,192.5 1225,193.8 1150,192.5 1100,195 1062.5,190 1025,187.5 1005,180"/>
<rect fill="#00ffff" x="1080" y="182" width="32.5" height="3.5"/>
<rect fill="#00ffff" x="1005" y="181.2" width="20" height="5"/>
<polygon fill="#d01555" points="1025,176.2 1062.5,175.8 1063,181.2 1026.2,181.8"/>
<rect fill="#00dd99" x="1032.5" y="183.8" width="30" height="3.8"/>
<ellipse fill="#ffffff" cx="1255.6" cy="189.4" rx="3.6" ry="2.1"/>
<rect fill="#d01555" x="1212.5" y="187.5" width="37.5" height="5"/>
<rect fill="#ff8800" x="1195" y="188.8" width="20" height="5"/>
<rect fill="#00ffff" x="1160" y="170" width="10" height="2"/>
<rect fill="#d01555" x="1100" y="175" width="50" height="3"/>
<polygon fill="#ff0088" points="860,185.5 925,186.2 1000,184.5 1000.5,193.8 861.2,194.2"/>
<rect fill="#d01555" x="900" y="183.8" width="37.5" height="3.8"/>
<rect fill="#00ffff" x="960" y="191.2" width="25" height="3.8"/>
<rect fill="#ff8800" x="925" y="195" width="30" height="5"/>
<rect fill="#0000ff" x="1000" y="192.5" width="10" height="5"/>
<ellipse fill="#ffffff" cx="1011.2" cy="196.9" rx="2.5" ry="2.1"/>
<rect fill="#d01555" x="900" y="198.8" width="50" height="3.8"/>
<rect fill="#ffff00" x="865" y="195" width="15" height="3.8"/>
<rect fill="#00ff00" x="950" y="197.5" width="20" height="3.8"/>
<rect fill="#ff8800" x="1025" y="192.5" width="15" height="5"/>
<rect fill="#ff00ff" x="975" y="197.5" width="25" height="3.8"/>
<rect fill="#00ffff" x="880" y="197.5" width="20" height="3"/>
<rect fill="#d09050" x="860" y="198.8" width="20" height="4.2"/>
<rect fill="#d01555" x="1015" y="188.8" width="35" height="4.2"/>
<rect fill="#ffff00" x="1040" y="197.5" width="15" height="3"/>
<polygon fill="#ffff00" points="1050,197.5 1100,195 1150,193.8 1225,194.5 1263.8,193.8 1263.8,207.5 1225,207.5 1175,206.2 1125,203.8 1075,200"/>
<rect fill="#00ffff" x="1150" y="192.5" width="20" height="3"/>
<rect fill="#ff8800" x="1120" y="191.2" width="30" height="3.8"/>
<rect fill="#00ff00" x="1175" y="192.5" width="25" height="3"/>
<rect fill="#ff0088" x="1162.5" y="200" width="37.5" height="3"/>
<rect fill="#ff8800" x="1225" y="198.8" width="25" height="3.2"/>
<polygon fill="#aa00ff" points="860,203 925,203.8 1000,201.2 1050,198.8 1075,200 1125,203.8 1150,207.5 1150,215.5 860,215.5"/>
<rect fill="#ff0088" x="1150" y="208.8" width="50" height="6.8"/>
<rect fill="#ff8800" x="1200" y="208.8" width="63.8" height="6.8"/>
<rect fill="#ffff00" x="1175" y="211.2" width="37.5" height="2.8"/>
<rect fill="#00ffff" x="875" y="211.2" width="15" height="1.8"/>
<rect fill="#00ffff" x="1030" y="207" width="15" height="2"/>
<ellipse fill="#ffffff" cx="1000.2" cy="207.5" rx="1.8" ry="1.5"/>
<path fill="#00dd99" d="M1242 68h6v2h-6zM1014 162h3v1h-3zM1002 63h10v2h-10zM917 30h9v2h-9zM1070 141h9v2h-9zM1244 152h5v1h-5zM963 157h6v1h-6zM1016 101h5v1h-5zM1023 59h8v2h-8zM1182 139h6v1h-6zM947 206h9v2h-9zM1167 161h5v1h-5zM1115 78h3v2h-3z"/>
<path fill="#a80055" d="M1113 149h9v2h-9zM915 108h7v2h-7zM1187 208h5v2h-5zM953 98h9v1h-9zM1080 25h9v1h-9zM863 87h9v1h-9zM927 166h2v1h-2z"/>
<path fill="#00ffff" d="M916 171h3v2h-3zM1084 204h3v2h-3zM1206 57h5v2h-5zM1050 19h2v2h-2zM1245 147h3v2h-3zM983 207h5v2h-5zM925 93h6v2h-6zM1120 105h9v2h-9zM1002 75h3v1h-3zM1186 106h9v2h-9zM1026 169h7v2h-7zM1059 87h10v2h-10zM862 92h6v2h-6zM906 63h7v2h-7z"/>
<path fill="#d05515" d="M1146 22h5v1h-5zM1061 77h7v1h-7zM1207 181h4v1h-4zM1128 187h9v2h-9zM976 159h7v2h-7zM1051 70h9v1h-9zM946 28h3v2h-3zM947 188h5v1h-5z"/>
<path fill="#ff8800" d="M1050 212h3v2h-3zM1082 122h4v2h-4zM989 32h7v2h-7zM1253 170h5v1h-5zM1033 193h8v1h-8zM911 40h6v1h-6zM1178 32h10v1h-10zM1150 129h4v2h-4zM987 16h8v1h-8zM1123 50h9v2h-9zM1238 58h5v2h-5zM1009 52h3v2h-3z"/>
<path fill="#ffffff" d="M1160 81h5v1h-5zM1211 129h8v1h-8zM1028 149h4v1h-4zM1092 201h7v1h-7zM1163 173h8v1h-8zM885 156h10v1h-10z"/>
<path fill="#ff0088" d="M999 43h4v1h-4zM1224 134h2v1h-2zM1057 66h6v1h-6zM968 212h2v2h-2zM1106 49h5v2h-5zM1087 197h7v2h-7zM1090 49h3v2h-3z"/>
<path fill="#ff0000" d="M968 10h9v2h-9zM986 47h8v1h-8zM1246 62h8v1h-8zM1203 128h9v1h-9zM888 143h8v2h-8zM1140 65h6v2h-6zM1163 30h9v2h-9zM1180 212h5v1h-5zM1215 187h4v1h-4zM944 30h8v2h-8zM1187 89h6v2h-6z"/>
<path fill="#d01555" d="M1254 195h4v1h-4zM897 30h5v1h-5zM881 28h5v1h-5zM945 44h5v1h-5zM867 26h4v1h-4zM878 123h9v1h-9zM1230 209h6v1h-6zM1136 15h6v2h-6zM1083 52h6v2h-6z"/>
<path fill="#d09050" d="M982 190h2v2h-2zM1172 96h3v2h-3zM1008 139h6v2h-6zM1157 71h5v2h-5zM1164 152h2v2h-2zM928 170h8v2h-8zM885 166h6v1h-6zM1055 131h8v1h-8zM996 37h7v2h-7zM1037 198h6v1h-6zM926 141h7v2h-7zM1225 159h7v2h-7zM1120 13h2v1h-2z"/>
<path fill="#aa00ff" d="M1226 27h8v1h-8zM1256 163h7v1h-7zM1028 61h7v1h-7zM1037 26h2v1h-2zM1116 154h8v1h-8zM947 171h8v1h-8zM1031 189h4v2h-4zM875 158h3v2h-3zM1095 15h8v2h-8zM954 115h2v1h-2zM1125 196h5v2h-5zM1015 201h4v1h-4zM1069 82h8v1h-8z"/>
<path fill="#00ff00" d="M1019 24h9v2h-9zM1092 111h8v1h-8zM981 192h9v2h-9z"/>
<path fill="#0000ff" d="M949 204h6v2h-6zM1214 86h6v1h-6zM1249 107h6v1h-6zM973 174h7v1h-7zM1179 10h4v1h-4zM1021 137h6v1h-6zM995 172h9v2h-9z"/>
<path fill="#0088ff" d="M1111 24h4v1h-4zM1142 165h4v2h-4zM915 121h6v2h-6zM1257 178h2v1h-2zM976 195h3v1h-3zM1232 107h8v2h-8zM1042 141h10v2h-10zM989 163h7v1h-7zM1052 118h9v1h-9zM1158 104h7v2h-7zM1042 40h3v2h-3zM916 12h3v1h-3zM1143 175h6v2h-6zM1086 197h7v1h-7zM1230 212h6v1h-6z"/>
<path fill="#ffff00" d="M1089 115h7v2h-7zM1018 33h9v1h-9zM1252 25h9v2h-9zM1076 128h5v1h-5zM864 141h5v2h-5zM1087 118h4v2h-4zM882 175h8v1h-8zM1007 65h7v2h-7z"/>
<path fill="#ff00ff" d="M1088 199h9v1h-9zM1250 102h8v2h-8zM1238 92h8v2h-8zM1059 35h6v1h-6zM1210 202h4v1h-4zM1054 183h4v1h-4zM1163 62h6v1h-6zM1099 166h7v2h-7zM1046 43h8v2h-8zM1227 74h9v2h-9zM1185 11h2v2h-2zM991 50h10v2h-10zM1088 92h4v2h-4zM1245 202h3v2h-3z"/>
<rect fill="#aa00ff" x="860" y="215" width="403.8" height="75"/>
<rect fill="#d01555" x="860" y="310" width="403.8" height="107.5"/>
<path fill="#00ffff" d="M1110 360h1v-1h9v1h1v2h-1v1h-9v-1h-1zM1172 319h1v-1h22v1h1v1h-1v1h-22v-1h-1zM1093 344h26v2h-26zM1008 373h7v2h-7zM898 411h1v-1h22v1h1v1h-1v1h-22v-1h-1zM1059 316h1v-1h25v1h1v2h-1v1h-25v-1h-1zM1037 362h1v-1h22v1h1v1h-1v1h-22v-1h-1zM989 345h1v-1h9v1h1v2h-1v1h-9v-1h-1zM907 383h23v2h-23zM1197 395h1v-1h25v1h1v2h-1v1h-25v-1h-1zM979 356h1v-1h11v1h1v1h-1v1h-11v-1h-1zM973 349h18v2h-18zM993 380h1v-1h15v1h1v2h-1v1h-15v-1h-1zM1227 405h1v-1h14v1h1v1h-1v1h-14v-1h-1zM945 406h1v-1h21v1h1v2h-1v1h-21v-1h-1zM1100 347h1v-1h30v1h1v1h-1v1h-30v-1h-1zM967 368h1v-1h15v1h1v2h-1v1h-15v-1h-1zM1097 358h1v-1h12v1h1v2h-1v1h-12v-1h-1zM1171 327h7v2h-7zM1006 377h31v2h-31zM1129 327h1v-1h23v1h1v2h-1v1h-23v-1h-1zM1207 343h1v-1h17v1h1v1h-1v1h-17v-1h-1zM1227 340h1v-1h19v1h1v2h-1v1h-19v-1h-1zM1168 369h15v2h-15zM1159 351h1v-1h16v1h1v2h-1v1h-16v-1h-1zM884 372h1v-1h5v1h1v2h-1v1h-5v-1h-1zM931 349h29v2h-29zM1069 394h1v-1h24v1h1v1h-1v1h-24v-1h-1zM1073 362h21v2h-21zM1071 334h1v-1h21v1h1v2h-1v1h-21v-1h-1zM996 345h23v2h-23zM1236 377h12v2h-12zM1241 340h1v-1h10v1h1v1h-1v1h-10v-1h-1zM906 317h7v2h-7zM935 390h29v2h-29zM1044 377h26v2h-26zM987 375h16v2h-16zM1155 312h1v-1h12v1h1v2h-1v1h-12v-1h-1zM1102 408h1v-1h26v1h1v2h-1v1h-26v-1h-1zM1105 319h1v-1h19v1h1v1h-1v1h-19v-1h-1zM1058 321h1v-1h18v1h1v1h-1v1h-18v-1h-1zM920 334h1v-1h24v1h1v2h-1v1h-24v-1h-1zM1152 398h30v2h-30z"/>
<path fill="#aa00ff" d="M1218 330h1v-1h30v1h1v1h-1v1h-30v-1h-1zM1145 414h7v2h-7zM987 389h1v-1h21v1h1v2h-1v1h-21v-1h-1zM1038 337h1v-1h30v1h1v2h-1v1h-30v-1h-1zM1157 373h1v-1h10v1h1v2h-1v1h-10v-1h-1zM977 382h1v-1h24v1h1v2h-1v1h-24v-1h-1zM1167 412h1v-1h21v1h1v1h-1v1h-21v-1h-1zM1106 356h23v2h-23zM1189 326h15v2h-15zM1073 320h13v2h-13zM1100 375h1v-1h6v1h1v2h-1v1h-6v-1h-1zM918 327h1v-1h22v1h1v2h-1v1h-22v-1h-1zM868 349h1v-1h21v1h1v2h-1v1h-21v-1h-1zM1024 349h23v2h-23zM964 381h1v-1h8v1h1v2h-1v1h-8v-1h-1zM911 391h1v-1h21v1h1v1h-1v1h-21v-1h-1zM962 406h1v-1h14v1h1v1h-1v1h-14v-1h-1zM1139 397h30v2h-30zM896 358h10v2h-10zM904 364h1v-1h6v1h1v2h-1v1h-6v-1h-1zM1152 413h22v2h-22zM1118 368h1v-1h7v1h1v1h-1v1h-7v-1h-1zM1217 317h1v-1h11v1h1v2h-1v1h-11v-1h-1zM1034 361h1v-1h16v1h1v1h-1v1h-16v-1h-1zM1057 361h1v-1h18v1h1v2h-1v1h-18v-1h-1zM1164 352h26v2h-26zM1025 410h1v-1h8v1h1v1h-1v1h-8v-1h-1zM1113 357h27v2h-27zM1064 315h1v-1h8v1h1v2h-1v1h-8v-1h-1zM867 337h1v-1h29v1h1v1h-1v1h-29v-1h-1zM1192 347h1v-1h16v1h1v2h-1v1h-16v-1h-1zM1033 369h16v2h-16zM1104 413h1v-1h12v1h1v1h-1v1h-12v-1h-1zM894 400h1v-1h23v1h1v1h-1v1h-23v-1h-1zM985 364h1v-1h24v1h1v1h-1v1h-24v-1h-1zM1131 370h1v-1h30v1h1v1h-1v1h-30v-1h-1zM1236 372h1v-1h10v1h1v1h-1v1h-10v-1h-1zM1041 371h1v-1h5v1h1v2h-1v1h-5v-1h-1zM1177 342h1v-1h28v1h1v2h-1v1h-28v-1h-1zM869 317h1v-1h26v1h1v2h-1v1h-26v-1h-1zM920 357h1v-1h15v1h1v2h-1v1h-15v-1h-1zM886 358h1v-1h9v1h1v1h-1v1h-9v-1h-1zM1164 370h22v2h-22zM893 412h1v-1h29v1h1v1h-1v1h-29v-1h-1zM884 345h1v-1h13v1h1v2h-1v1h-13v-1h-1zM965 339h1v-1h15v1h1v1h-1v1h-15v-1h-1zM885 384h12v2h-12zM1056 333h1v-1h29v1h1v2h-1v1h-29v-1h-1zM927 373h17v2h-17zM1182 339h1v-1h23v1h1v2h-1v1h-23v-1h-1zM1083 319h1v-1h24v1h1v1h-1v1h-24v-1h-1zM1172 366h1v-1h26v1h1v2h-1v1h-26v-1h-1zM866 375h1v-1h17v1h1v1h-1v1h-17v-1h-1zM1150 397h1v-1h11v1h1v2h-1v1h-11v-1h-1zM1114 334h1v-1h14v1h1v1h-1v1h-14v-1h-1zM998 394h1v-1h18v1h1v2h-1v1h-18v-1h-1zM997 368h1v-1h30v1h1v1h-1v1h-30v-1h-1zM1212 338h1v-1h24v1h1v2h-1v1h-24v-1h-1zM1172 405h1v-1h29v1h1v1h-1v1h-29v-1h-1zM1156 369h29v2h-29zM1216 406h1v-1h14v1h1v1h-1v1h-14v-1h-1zM1030 386h1v-1h29v1h1v2h-1v1h-29v-1h-1zM928 354h1v-1h22v1h1v1h-1v1h-22v-1h-1zM912 391h1v-1h20v1h1v2h-1v1h-20v-1h-1zM864 410h1v-1h23v1h1v2h-1v1h-23v-1h-1zM992 362h1v-1h28v1h1v2h-1v1h-28v-1h-1zM1092 366h1v-1h9v1h1v2h-1v1h-9v-1h-1zM1171 329h1v-1h5v1h1v1h-1v1h-5v-1h-1zM940 376h1v-1h25v1h1v1h-1v1h-25v-1h-1zM927 401h32v2h-32zM902 370h1v-1h27v1h1v1h-1v1h-27v-1h-1zM1124 394h1v-1h30v1h1v1h-1v1h-30v-1h-1zM1049 394h1v-1h12v1h1v2h-1v1h-12v-1h-1zM1000 412h24v2h-24zM893 365h1v-1h25v1h1v1h-1v1h-25v-1h-1zM1082 363h1v-1h26v1h1v2h-1v1h-26v-1h-1zM918 331h1v-1h22v1h1v1h-1v1h-22v-1h-1zM1083 332h1v-1h22v1h1v2h-1v1h-22v-1h-1zM947 356h12v2h-12zM1158 318h1v-1h28v1h1v2h-1v1h-28v-1h-1zM936 399h1v-1h28v1h1v2h-1v1h-28v-1h-1zM910 326h1v-1h14v1h1v2h-1v1h-14v-1h-1zM1070 401h10v2h-10zM1011 365h1v-1h14v1h1v2h-1v1h-14v-1h-1zM1056 364h1v-1h14v1h1v2h-1v1h-14v-1h-1zM993 403h1v-1h15v1h1v2h-1v1h-15v-1h-1zM1166 401h1v-1h11v1h1v1h-1v1h-11v-1h-1zM896 342h1v-1h5v1h1v1h-1v1h-5v-1h-1zM910 331h1v-1h30v1h1v2h-1v1h-30v-1h-1zM1240 331h1v-1h9v1h1v1h-1v1h-9v-1h-1zM965 330h21v2h-21zM1007 372h1v-1h10v1h1v1h-1v1h-10v-1h-1zM1016 328h26v2h-26zM1166 357h1v-1h18v1h1v1h-1v1h-18v-1h-1zM1190 379h16v2h-16zM944 407h1v-1h24v1h1v2h-1v1h-24v-1h-1zM1209 324h12v2h-12zM1061 325h1v-1h28v1h1v2h-1v1h-28v-1h-1zM966 394h1v-1h25v1h1v1h-1v1h-25v-1h-1zM880 319h1v-1h21v1h1v2h-1v1h-21v-1h-1zM960 340h32v2h-32zM1224 409h27v2h-27zM989 398h1v-1h22v1h1v2h-1v1h-22v-1h-1zM901 391h1v-1h13v1h1v2h-1v1h-13v-1h-1zM1027 410h1v-1h13v1h1v1h-1v1h-13v-1h-1zM1121 354h1v-1h27v1h1v1h-1v1h-27v-1h-1zM899 328h7v2h-7zM1020 365h1v-1h8v1h1v2h-1v1h-8v-1h-1zM1214 349h1v-1h8v1h1v2h-1v1h-8v-1h-1zM969 316h1v-1h30v1h1v1h-1v1h-30v-1h-1zM1138 357h1v-1h22v1h1v1h-1v1h-22v-1h-1zM992 319h1v-1h4v1h1v2h-1v1h-4v-1h-1zM1079 367h1v-1h7v1h1v2h-1v1h-7v-1h-1zM1016 374h1v-1h12v1h1v1h-1v1h-12v-1h-1zM882 413h19v2h-19zM1179 405h32v2h-32zM921 329h1v-1h5v1h1v1h-1v1h-5v-1h-1zM1216 323h1v-1h17v1h1v2h-1v1h-17v-1h-1zM1222 344h1v-1h23v1h1v1h-1v1h-23v-1h-1zM1021 394h1v-1h30v1h1v1h-1v1h-30v-1h-1zM1201 382h31v2h-31zM868 361h13v2h-13zM1186 310h29v2h-29zM1029 355h26v2h-26zM876 407h24v2h-24zM901 373h1v-1h13v1h1v1h-1v1h-13v-1h-1zM945 367h12v2h-12zM1036 363h1v-1h25v1h1v1h-1v1h-25v-1h-1zM1083 412h1v-1h5v1h1v2h-1v1h-5v-1h-1zM1181 403h1v-1h10v1h1v2h-1v1h-10v-1h-1zM886 400h1v-1h18v1h1v1h-1v1h-18v-1h-1zM1093 338h1v-1h7v1h1v1h-1v1h-7v-1h-1zM1079 376h1v-1h14v1h1v1h-1v1h-14v-1h-1zM874 385h1v-1h6v1h1v1h-1v1h-6v-1h-1zM1062 344h22v2h-22zM1070 320h1v-1h7v1h1v2h-1v1h-7v-1h-1zM1075 367h19v2h-19zM948 327h1v-1h11v1h1v2h-1v1h-11v-1h-1zM964 395h1v-1h8v1h1v2h-1v1h-8v-1h-1zM882 345h1v-1h6v1h1v1h-1v1h-6v-1h-1z"/>
<path fill="#00ff00" d="M1005 371h12v2h-12zM1246 322h1v-1h14v1h1v1h-1v1h-14v-1h-1zM1009 361h18v2h-18zM1204 385h10v2h-10zM867 371h1v-1h29v1h1v2h-1v1h-29v-1h-1zM1207 318h1v-1h12v1h1v1h-1v1h-12v-1h-1zM1132 386h1v-1h12v1h1v2h-1v1h-12v-1h-1zM904 341h1v-1h21v1h1v1h-1v1h-21v-1h-1zM902 352h25v2h-25zM1212 359h1v-1h29v1h1v1h-1v1h-29v-1h-1zM1235 338h1v-1h18v1h1v2h-1v1h-18v-1h-1zM1091 350h1v-1h23v1h1v1h-1v1h-23v-1h-1zM1041 411h1v-1h19v1h1v2h-1v1h-19v-1h-1zM926 385h1v-1h7v1h1v2h-1v1h-7v-1h-1zM984 361h1v-1h20v1h1v1h-1v1h-20v-1h-1zM871 323h12v2h-12zM1047 336h1v-1h26v1h1v1h-1v1h-26v-1h-1zM936 345h1v-1h28v1h1v2h-1v1h-28v-1h-1zM889 370h1v-1h16v1h1v2h-1v1h-16v-1h-1zM1144 353h30v2h-30zM899 339h1v-1h23v1h1v2h-1v1h-23v-1h-1zM905 395h1v-1h8v1h1v2h-1v1h-8v-1h-1zM959 319h1v-1h14v1h1v2h-1v1h-14v-1h-1zM1020 312h1v-1h17v1h1v2h-1v1h-17v-1h-1zM1127 396h1v-1h22v1h1v2h-1v1h-22v-1h-1zM998 390h1v-1h15v1h1v2h-1v1h-15v-1h-1zM995 338h1v-1h26v1h1v1h-1v1h-26v-1h-1zM921 366h13v2h-13zM1060 330h1v-1h28v1h1v2h-1v1h-28v-1h-1zM1183 405h1v-1h16v1h1v2h-1v1h-16v-1h-1zM1085 372h1v-1h21v1h1v2h-1v1h-21v-1h-1zM1097 362h1v-1h30v1h1v2h-1v1h-30v-1h-1zM1160 369h11v2h-11zM1095 314h30v2h-30zM1144 385h1v-1h13v1h1v1h-1v1h-13v-1h-1zM863 334h1v-1h25v1h1v2h-1v1h-25v-1h-1zM1160 357h28v2h-28zM869 414h1v-1h19v1h1v1h-1v1h-19v-1h-1zM874 385h1v-1h27v1h1v2h-1v1h-27v-1h-1zM1202 360h1v-1h12v1h1v2h-1v1h-12v-1h-1zM1108 386h1v-1h23v1h1v1h-1v1h-23v-1h-1zM1191 320h1v-1h7v1h1v2h-1v1h-7v-1h-1zM1070 383h29v2h-29zM1110 313h1v-1h24v1h1v2h-1v1h-24v-1h-1zM1154 317h1v-1h30v1h1v1h-1v1h-30v-1h-1z"/>
<path fill="#d05515" d="M1223 382h1v-1h8v1h1v2h-1v1h-8v-1h-1zM1221 328h13v2h-13zM957 340h28v2h-28zM958 410h1v-1h11v1h1v1h-1v1h-11v-1h-1zM887 314h1v-1h18v1h1v2h-1v1h-18v-1h-1zM1094 353h1v-1h5v1h1v1h-1v1h-5v-1h-1zM1226 366h10v2h-10zM1214 366h23v2h-23zM973 338h1v-1h4v1h1v2h-1v1h-4v-1h-1zM1172 381h1v-1h15v1h1v2h-1v1h-15v-1h-1zM1097 374h25v2h-25zM1058 411h1v-1h17v1h1v2h-1v1h-17v-1h-1zM965 388h1v-1h7v1h1v2h-1v1h-7v-1h-1zM1105 377h1v-1h18v1h1v2h-1v1h-18v-1h-1zM1027 391h1v-1h11v1h1v2h-1v1h-11v-1h-1zM1035 392h1v-1h28v1h1v2h-1v1h-28v-1h-1zM1059 344h1v-1h7v1h1v1h-1v1h-7v-1h-1zM1074 399h19v2h-19zM870 390h25v2h-25zM886 370h19v2h-19zM1100 409h1v-1h20v1h1v1h-1v1h-20v-1h-1zM1066 345h1v-1h11v1h1v2h-1v1h-11v-1h-1zM1153 360h1v-1h28v1h1v1h-1v1h-28v-1h-1zM1190 313h20v2h-20zM1153 361h24v2h-24zM1005 409h1v-1h30v1h1v1h-1v1h-30v-1h-1zM893 382h26v2h-26zM902 358h1v-1h17v1h1v2h-1v1h-17v-1h-1zM1227 340h11v2h-11zM1004 325h1v-1h19v1h1v1h-1v1h-19v-1h-1zM1198 403h31v2h-31zM1028 360h1v-1h27v1h1v2h-1v1h-27v-1h-1zM1124 392h1v-1h20v1h1v1h-1v1h-20v-1h-1zM1074 411h1v-1h6v1h1v1h-1v1h-6v-1h-1zM948 362h1v-1h8v1h1v2h-1v1h-8v-1h-1zM877 409h1v-1h7v1h1v2h-1v1h-7v-1h-1zM1104 350h1v-1h25v1h1v2h-1v1h-25v-1h-1zM923 387h1v-1h14v1h1v1h-1v1h-14v-1h-1zM1198 366h1v-1h14v1h1v2h-1v1h-14v-1h-1zM921 312h1v-1h15v1h1v1h-1v1h-15v-1h-1zM1237 399h1v-1h17v1h1v1h-1v1h-17v-1h-1zM993 352h1v-1h30v1h1v2h-1v1h-30v-1h-1zM1230 335h9v2h-9zM864 366h1v-1h28v1h1v1h-1v1h-28v-1h-1zM1024 314h1v-1h25v1h1v1h-1v1h-25v-1h-1zM1069 326h25v2h-25zM944 350h9v2h-9zM1121 383h1v-1h28v1h1v2h-1v1h-28v-1h-1zM1215 385h1v-1h15v1h1v2h-1v1h-15v-1h-1zM1031 398h1v-1h27v1h1v2h-1v1h-27v-1h-1zM1139 356h1v-1h5v1h1v2h-1v1h-5v-1h-1zM1226 382h1v-1h29v1h1v2h-1v1h-29v-1h-1zM931 354h1v-1h23v1h1v1h-1v1h-23v-1h-1zM957 368h29v2h-29zM991 355h1v-1h13v1h1v2h-1v1h-13v-1h-1zM1131 411h1v-1h6v1h1v2h-1v1h-6v-1h-1zM1065 363h1v-1h18v1h1v2h-1v1h-18v-1h-1zM904 391h1v-1h30v1h1v1h-1v1h-30v-1h-1zM1078 382h1v-1h17v1h1v1h-1v1h-17v-1h-1z"/>
<path fill="#ffff00" d="M1185 374h1v-1h30v1h1v2h-1v1h-30v-1h-1zM1210 388h1v-1h10v1h1v2h-1v1h-10v-1h-1zM1098 365h6v2h-6zM1016 388h1v-1h19v1h1v1h-1v1h-19v-1h-1zM1086 355h1v-1h25v1h1v2h-1v1h-25v-1h-1zM861 328h1v-1h9v1h1v1h-1v1h-9v-1h-1zM954 370h1v-1h15v1h1v2h-1v1h-15v-1h-1zM1177 404h1v-1h9v1h1v2h-1v1h-9v-1h-1zM861 380h1v-1h14v1h1v1h-1v1h-14v-1h-1zM1214 391h1v-1h5v1h1v1h-1v1h-5v-1h-1zM1027 331h1v-1h9v1h1v2h-1v1h-9v-1h-1zM1131 314h1v-1h26v1h1v2h-1v1h-26v-1h-1zM1158 364h1v-1h14v1h1v2h-1v1h-14v-1h-1zM1135 363h1v-1h5v1h1v2h-1v1h-5v-1h-1zM975 406h1v-1h14v1h1v2h-1v1h-14v-1h-1zM1117 320h1v-1h20v1h1v2h-1v1h-20v-1h-1zM898 411h1v-1h21v1h1v2h-1v1h-21v-1h-1zM1014 377h1v-1h27v1h1v2h-1v1h-27v-1h-1zM1190 389h1v-1h26v1h1v2h-1v1h-26v-1h-1zM1149 316h1v-1h13v1h1v1h-1v1h-13v-1h-1zM1101 334h1v-1h9v1h1v1h-1v1h-9v-1h-1zM937 356h24v2h-24zM1001 351h9v2h-9zM1037 343h1v-1h11v1h1v1h-1v1h-11v-1h-1zM1077 327h20v2h-20zM902 331h1v-1h8v1h1v2h-1v1h-8v-1h-1zM1077 362h1v-1h17v1h1v1h-1v1h-17v-1h-1zM1002 395h1v-1h21v1h1v1h-1v1h-21v-1h-1zM1045 373h1v-1h9v1h1v2h-1v1h-9v-1h-1zM901 397h1v-1h13v1h1v1h-1v1h-13v-1h-1zM1100 324h12v2h-12zM1103 394h1v-1h19v1h1v2h-1v1h-19v-1h-1zM997 407h22v2h-22zM1035 399h25v2h-25zM1163 359h1v-1h24v1h1v2h-1v1h-24v-1h-1zM944 367h1v-1h6v1h1v1h-1v1h-6v-1h-1zM1153 341h1v-1h11v1h1v1h-1v1h-11v-1h-1zM912 411h1v-1h25v1h1v1h-1v1h-25v-1h-1zM1143 358h11v2h-11zM890 323h1v-1h11v1h1v2h-1v1h-11v-1h-1zM1079 321h1v-1h9v1h1v2h-1v1h-9v-1h-1zM1056 405h1v-1h19v1h1v1h-1v1h-19v-1h-1zM1121 406h23v2h-23zM891 394h1v-1h13v1h1v2h-1v1h-13v-1h-1zM925 380h1v-1h8v1h1v1h-1v1h-8v-1h-1zM1139 356h1v-1h22v1h1v1h-1v1h-22v-1h-1zM876 392h1v-1h22v1h1v2h-1v1h-22v-1h-1zM860 388h1v-1h30v1h1v1h-1v1h-30v-1h-1zM998 333h1v-1h20v1h1v1h-1v1h-20v-1h-1zM1102 370h1v-1h29v1h1v1h-1v1h-29v-1h-1zM1229 328h1v-1h22v1h1v1h-1v1h-22v-1h-1zM1239 408h1v-1h22v1h1v2h-1v1h-22v-1h-1zM966 358h1v-1h6v1h1v2h-1v1h-6v-1h-1zM1057 369h1v-1h30v1h1v2h-1v1h-30v-1h-1zM999 321h1v-1h5v1h1v2h-1v1h-5v-1h-1zM1199 331h1v-1h15v1h1v2h-1v1h-15v-1h-1zM1194 392h1v-1h7v1h1v2h-1v1h-7v-1h-1zM1108 371h1v-1h22v1h1v1h-1v1h-22v-1h-1zM1155 388h1v-1h25v1h1v2h-1v1h-25v-1h-1zM1076 402h1v-1h7v1h1v1h-1v1h-7v-1h-1zM1071 338h12v2h-12zM1002 388h1v-1h9v1h1v1h-1v1h-9v-1h-1zM1015 318h29v2h-29zM1017 413h1v-1h27v1h1v2h-1v1h-27v-1h-1zM958 353h1v-1h30v1h1v2h-1v1h-30v-1h-1zM1036 370h1v-1h26v1h1v2h-1v1h-26v-1h-1zM1049 316h1v-1h10v1h1v2h-1v1h-10v-1h-1zM950 405h1v-1h21v1h1v1h-1v1h-21v-1h-1zM988 328h1v-1h22v1h1v2h-1v1h-22v-1h-1zM903 377h1v-1h25v1h1v1h-1v1h-25v-1h-1zM1194 400h1v-1h8v1h1v2h-1v1h-8v-1h-1zM884 358h1v-1h28v1h1v2h-1v1h-28v-1h-1zM897 376h1v-1h25v1h1v2h-1v1h-25v-1h-1zM1242 411h17v2h-17zM1043 362h1v-1h10v1h1v2h-1v1h-10v-1h-1zM1238 345h1v-1h13v1h1v1h-1v1h-13v-1h-1zM1033 373h1v-1h10v1h1v2h-1v1h-10v-1h-1zM1032 394h29v2h-29zM897 320h1v-1h26v1h1v2h-1v1h-26v-1h-1zM1005 333h18v2h-18zM988 346h1v-1h9v1h1v2h-1v1h-9v-1h-1zM1019 397h1v-1h16v1h1v2h-1v1h-16v-1h-1zM1088 405h14v2h-14zM1039 406h1v-1h30v1h1v2h-1v1h-30v-1h-1zM1152 376h1v-1h9v1h1v2h-1v1h-9v-1h-1zM1116 386h1v-1h9v1h1v2h-1v1h-9v-1h-1zM1193 340h1v-1h19v1h1v1h-1v1h-19v-1h-1zM907 362h7v2h-7zM1231 374h30v2h-30zM1035 409h1v-1h23v1h1v2h-1v1h-23v-1h-1zM872 384h1v-1h25v1h1v2h-1v1h-25v-1h-1zM866 318h1v-1h5v1h1v1h-1v1h-5v-1h-1zM1166 388h24v2h-24zM1037 411h1v-1h10v1h1v1h-1v1h-10v-1h-1zM1194 353h1v-1h8v1h1v1h-1v1h-8v-1h-1zM1149 313h1v-1h20v1h1v1h-1v1h-20v-1h-1zM1081 348h1v-1h26v1h1v1h-1v1h-26v-1h-1zM1111 328h1v-1h9v1h1v2h-1v1h-9v-1h-1zM1105 366h1v-1h26v1h1v1h-1v1h-26v-1h-1zM989 316h22v2h-22zM1138 313h1v-1h12v1h1v1h-1v1h-12v-1h-1z"/>
<path fill="#ff0000" d="M1118 378h1v-1h29v1h1v1h-1v1h-29v-1h-1zM1208 353h1v-1h10v1h1v2h-1v1h-10v-1h-1zM1232 371h1v-1h15v1h1v2h-1v1h-15v-1h-1zM1216 404h1v-1h28v1h1v1h-1v1h-28v-1h-1zM1185 348h11v2h-11zM1210 408h1v-1h30v1h1v1h-1v1h-30v-1h-1zM1078 390h1v-1h10v1h1v2h-1v1h-10v-1h-1zM1084 347h30v2h-30zM991 378h1v-1h10v1h1v2h-1v1h-10v-1h-1zM1051 411h1v-1h20v1h1v1h-1v1h-20v-1h-1zM1040 368h1v-1h22v1h1v1h-1v1h-22v-1h-1zM1213 330h1v-1h9v1h1v2h-1v1h-9v-1h-1zM1200 338h1v-1h16v1h1v2h-1v1h-16v-1h-1zM1010 387h1v-1h19v1h1v2h-1v1h-19v-1h-1zM1204 317h1v-1h17v1h1v1h-1v1h-17v-1h-1zM984 358h28v2h-28zM1026 320h12v2h-12zM1107 394h1v-1h27v1h1v2h-1v1h-27v-1h-1zM1022 341h1v-1h30v1h1v1h-1v1h-30v-1h-1zM1091 370h1v-1h22v1h1v2h-1v1h-22v-1h-1zM932 374h28v2h-28zM966 383h8v2h-8zM890 325h1v-1h29v1h1v2h-1v1h-29v-1h-1zM1197 392h28v2h-28zM1017 398h16v2h-16zM905 365h1v-1h28v1h1v2h-1v1h-28v-1h-1zM987 336h28v2h-28zM1172 389h1v-1h28v1h1v1h-1v1h-28v-1h-1zM1161 387h1v-1h25v1h1v1h-1v1h-25v-1h-1zM1193 366h1v-1h17v1h1v2h-1v1h-17v-1h-1zM1243 342h1v-1h6v1h1v1h-1v1h-6v-1h-1zM985 411h1v-1h13v1h1v1h-1v1h-13v-1h-1zM1203 389h1v-1h28v1h1v2h-1v1h-28v-1h-1zM1032 395h1v-1h19v1h1v2h-1v1h-19v-1h-1zM896 316h1v-1h7v1h1v2h-1v1h-7v-1h-1zM1240 314h1v-1h10v1h1v2h-1v1h-10v-1h-1zM1213 367h1v-1h29v1h1v1h-1v1h-29v-1h-1zM1227 390h1v-1h23v1h1v1h-1v1h-23v-1h-1zM932 398h1v-1h20v1h1v2h-1v1h-20v-1h-1zM1090 379h14v2h-14zM987 345h1v-1h5v1h1v1h-1v1h-5v-1h-1zM958 323h1v-1h25v1h1v1h-1v1h-25v-1h-1zM1037 325h1v-1h22v1h1v1h-1v1h-22v-1h-1zM1186 401h1v-1h28v1h1v1h-1v1h-28v-1h-1zM888 409h1v-1h11v1h1v1h-1v1h-11v-1h-1zM898 406h28v2h-28zM979 362h22v2h-22zM1095 377h27v2h-27z"/>
<path fill="#d01555" d="M895 394h1v-1h5v1h1v2h-1v1h-5v-1h-1zM1119 410h26v2h-26zM1064 385h1v-1h12v1h1v1h-1v1h-12v-1h-1zM933 319h1v-1h14v1h1v1h-1v1h-14v-1h-1zM1231 383h1v-1h5v1h1v2h-1v1h-5v-1h-1zM1209 408h1v-1h19v1h1v2h-1v1h-19v-1h-1zM1168 407h1v-1h11v1h1v1h-1v1h-11v-1h-1zM950 395h1v-1h9v1h1v2h-1v1h-9v-1h-1zM1087 325h1v-1h17v1h1v1h-1v1h-17v-1h-1zM995 409h1v-1h4v1h1v2h-1v1h-4v-1h-1zM1088 351h1v-1h9v1h1v1h-1v1h-9v-1h-1zM949 349h7v2h-7zM1031 413h10v2h-10zM1064 356h1v-1h8v1h1v1h-1v1h-8v-1h-1zM1044 350h7v2h-7zM1033 366h1v-1h6v1h1v2h-1v1h-6v-1h-1zM1123 336h19v2h-19zM1062 356h1v-1h10v1h1v2h-1v1h-10v-1h-1zM1221 324h1v-1h26v1h1v1h-1v1h-26v-1h-1zM1013 381h22v2h-22zM1185 371h1v-1h13v1h1v1h-1v1h-13v-1h-1zM1149 349h6v2h-6zM1102 347h1v-1h16v1h1v1h-1v1h-16v-1h-1zM1169 344h1v-1h11v1h1v2h-1v1h-11v-1h-1zM883 316h1v-1h23v1h1v1h-1v1h-23v-1h-1zM897 325h1v-1h6v1h1v2h-1v1h-6v-1h-1zM875 406h16v2h-16zM1223 402h1v-1h30v1h1v1h-1v1h-30v-1h-1zM1196 402h1v-1h26v1h1v1h-1v1h-26v-1h-1zM1061 408h19v2h-19zM1219 310h19v2h-19zM1044 402h1v-1h27v1h1v2h-1v1h-27v-1h-1zM1108 386h1v-1h10v1h1v2h-1v1h-10v-1h-1zM1094 347h1v-1h6v1h1v1h-1v1h-6v-1h-1zM1225 410h1v-1h25v1h1v1h-1v1h-25v-1h-1zM971 327h1v-1h6v1h1v2h-1v1h-6v-1h-1zM955 315h31v2h-31zM1006 352h11v2h-11zM1005 326h1v-1h5v1h1v1h-1v1h-5v-1h-1zM1187 376h1v-1h10v1h1v1h-1v1h-10v-1h-1zM971 362h17v2h-17zM911 339h1v-1h16v1h1v1h-1v1h-16v-1h-1z"/>
<path fill="#0000ff" d="M992 361h1v-1h16v1h1v1h-1v1h-16v-1h-1zM1098 330h1v-1h20v1h1v1h-1v1h-20v-1h-1zM955 402h1v-1h17v1h1v1h-1v1h-17v-1h-1zM1098 340h1v-1h17v1h1v1h-1v1h-17v-1h-1zM1141 386h1v-1h20v1h1v2h-1v1h-20v-1h-1zM935 312h1v-1h30v1h1v1h-1v1h-30v-1h-1zM1229 348h1v-1h8v1h1v1h-1v1h-8v-1h-1zM1072 410h12v2h-12zM1007 374h1v-1h30v1h1v2h-1v1h-30v-1h-1zM1182 373h1v-1h27v1h1v1h-1v1h-27v-1h-1zM973 392h1v-1h29v1h1v1h-1v1h-29v-1h-1zM1010 375h1v-1h8v1h1v2h-1v1h-8v-1h-1zM911 372h1v-1h12v1h1v2h-1v1h-12v-1h-1zM863 392h1v-1h18v1h1v2h-1v1h-18v-1h-1zM1015 397h1v-1h28v1h1v1h-1v1h-28v-1h-1zM1024 358h29v2h-29zM1066 328h1v-1h6v1h1v1h-1v1h-6v-1h-1zM1027 354h12v2h-12zM1014 409h1v-1h27v1h1v2h-1v1h-27v-1h-1zM975 369h1v-1h20v1h1v2h-1v1h-20v-1h-1zM1021 407h25v2h-25zM1193 312h15v2h-15zM1066 371h1v-1h22v1h1v2h-1v1h-22v-1h-1zM955 348h1v-1h13v1h1v2h-1v1h-13v-1h-1zM863 347h1v-1h25v1h1v2h-1v1h-25v-1h-1zM1210 317h1v-1h10v1h1v2h-1v1h-10v-1h-1zM1110 329h16v2h-16zM971 360h14v2h-14zM1080 391h1v-1h25v1h1v1h-1v1h-25v-1h-1zM979 358h1v-1h24v1h1v2h-1v1h-24v-1h-1zM990 403h17v2h-17zM963 407h1v-1h10v1h1v1h-1v1h-10v-1h-1zM862 350h1v-1h16v1h1v1h-1v1h-16v-1h-1zM1209 326h1v-1h25v1h1v1h-1v1h-25v-1h-1zM1236 348h1v-1h8v1h1v1h-1v1h-8v-1h-1z"/>
<path fill="#a80055" d="M1068 368h32v2h-32zM1100 330h1v-1h15v1h1v2h-1v1h-15v-1h-1zM983 315h1v-1h11v1h1v2h-1v1h-11v-1h-1zM953 405h1v-1h23v1h1v2h-1v1h-23v-1h-1zM969 350h1v-1h9v1h1v1h-1v1h-9v-1h-1zM1056 381h8v2h-8zM1104 374h1v-1h5v1h1v1h-1v1h-5v-1h-1zM1227 325h18v2h-18zM953 347h1v-1h27v1h1v2h-1v1h-27v-1h-1zM1233 344h29v2h-29zM1022 345h1v-1h9v1h1v2h-1v1h-9v-1h-1zM958 385h1v-1h28v1h1v2h-1v1h-28v-1h-1zM890 349h1v-1h9v1h1v2h-1v1h-9v-1h-1zM953 361h1v-1h22v1h1v2h-1v1h-22v-1h-1zM920 360h24v2h-24zM1130 367h1v-1h26v1h1v1h-1v1h-26v-1h-1zM1065 344h1v-1h23v1h1v2h-1v1h-23v-1h-1zM1036 383h1v-1h13v1h1v2h-1v1h-13v-1h-1zM1186 312h7v2h-7zM1184 332h1v-1h7v1h1v1h-1v1h-7v-1h-1zM1148 345h1v-1h21v1h1v2h-1v1h-21v-1h-1zM1128 390h1v-1h21v1h1v2h-1v1h-21v-1h-1zM1135 365h1v-1h30v1h1v2h-1v1h-30v-1h-1zM1006 387h12v2h-12zM1093 412h1v-1h10v1h1v2h-1v1h-10v-1h-1zM1217 312h1v-1h7v1h1v2h-1v1h-7v-1h-1zM1008 354h1v-1h29v1h1v1h-1v1h-29v-1h-1zM902 400h1v-1h4v1h1v1h-1v1h-4v-1h-1zM1170 412h1v-1h14v1h1v2h-1v1h-14v-1h-1zM989 346h1v-1h18v1h1v2h-1v1h-18v-1h-1zM1186 353h1v-1h28v1h1v2h-1v1h-28v-1h-1zM1046 343h1v-1h7v1h1v2h-1v1h-7v-1h-1zM1180 355h1v-1h21v1h1v1h-1v1h-21v-1h-1zM1019 331h1v-1h15v1h1v2h-1v1h-15v-1h-1zM1020 364h30v2h-30zM1180 373h28v2h-28zM1047 406h1v-1h17v1h1v2h-1v1h-17v-1h-1zM1133 390h1v-1h7v1h1v1h-1v1h-7v-1h-1zM1080 346h7v2h-7zM1126 345h1v-1h15v1h1v2h-1v1h-15v-1h-1zM1158 407h1v-1h25v1h1v1h-1v1h-25v-1h-1zM1111 371h24v2h-24zM909 313h1v-1h19v1h1v1h-1v1h-19v-1h-1zM1150 396h28v2h-28zM915 406h1v-1h17v1h1v2h-1v1h-17v-1h-1zM1075 404h1v-1h14v1h1v1h-1v1h-14v-1h-1zM914 405h28v2h-28zM940 346h1v-1h18v1h1v2h-1v1h-18v-1h-1zM880 394h1v-1h5v1h1v2h-1v1h-5v-1h-1zM935 355h1v-1h25v1h1v1h-1v1h-25v-1h-1zM1094 377h1v-1h5v1h1v1h-1v1h-5v-1h-1zM889 376h1v-1h12v1h1v2h-1v1h-12v-1h-1zM1193 363h23v2h-23z"/>
<path fill="#00dd99" d="M978 361h1v-1h29v1h1v1h-1v1h-29v-1h-1zM957 321h25v2h-25zM1107 392h19v2h-19zM1137 398h1v-1h7v1h1v1h-1v1h-7v-1h-1zM1021 335h1v-1h20v1h1v1h-1v1h-20v-1h-1zM1067 363h1v-1h11v1h1v2h-1v1h-11v-1h-1zM1077 336h1v-1h25v1h1v2h-1v1h-25v-1h-1zM1240 388h17v2h-17zM1039 392h1v-1h25v1h1v1h-1v1h-25v-1h-1zM1058 360h31v2h-31zM1154 336h29v2h-29zM879 357h1v-1h7v1h1v1h-1v1h-7v-1h-1zM1033 393h1v-1h26v1h1v1h-1v1h-26v-1h-1zM1189 313h1v-1h16v1h1v1h-1v1h-16v-1h-1zM951 352h1v-1h29v1h1v1h-1v1h-29v-1h-1zM988 410h21v2h-21zM1064 332h1v-1h21v1h1v2h-1v1h-21v-1h-1zM1024 346h1v-1h25v1h1v1h-1v1h-25v-1h-1zM877 328h1v-1h25v1h1v1h-1v1h-25v-1h-1zM1212 380h1v-1h9v1h1v1h-1v1h-9v-1h-1zM1107 327h1v-1h19v1h1v2h-1v1h-19v-1h-1zM1075 394h1v-1h24v1h1v1h-1v1h-24v-1h-1zM1227 382h21v2h-21zM1181 382h1v-1h6v1h1v2h-1v1h-6v-1h-1zM1108 394h1v-1h27v1h1v1h-1v1h-27v-1h-1zM1181 406h1v-1h25v1h1v2h-1v1h-25v-1h-1zM945 352h1v-1h22v1h1v1h-1v1h-22v-1h-1zM1113 364h1v-1h7v1h1v2h-1v1h-7v-1h-1zM929 341h1v-1h7v1h1v2h-1v1h-7v-1h-1zM872 400h15v2h-15zM874 377h1v-1h10v1h1v2h-1v1h-10v-1h-1zM1170 386h1v-1h28v1h1v1h-1v1h-28v-1h-1zM904 375h1v-1h23v1h1v1h-1v1h-23v-1h-1zM920 400h14v2h-14zM1181 342h1v-1h15v1h1v1h-1v1h-15v-1h-1zM896 341h1v-1h30v1h1v2h-1v1h-30v-1h-1zM1238 376h1v-1h19v1h1v2h-1v1h-19v-1h-1zM1137 315h1v-1h17v1h1v1h-1v1h-17v-1h-1zM1161 376h1v-1h24v1h1v1h-1v1h-24v-1h-1zM954 333h1v-1h16v1h1v2h-1v1h-16v-1h-1zM1130 317h1v-1h25v1h1v1h-1v1h-25v-1h-1zM1207 360h1v-1h18v1h1v1h-1v1h-18v-1h-1zM982 385h1v-1h14v1h1v1h-1v1h-14v-1h-1zM1229 323h1v-1h10v1h1v2h-1v1h-10v-1h-1zM881 352h1v-1h14v1h1v2h-1v1h-14v-1h-1zM914 398h1v-1h8v1h1v2h-1v1h-8v-1h-1zM1080 392h10v2h-10zM1116 314h1v-1h11v1h1v2h-1v1h-11v-1h-1zM946 410h7v2h-7zM961 350h1v-1h8v1h1v1h-1v1h-8v-1h-1zM1234 320h1v-1h20v1h1v1h-1v1h-20v-1h-1zM1024 371h12v2h-12zM1236 332h24v2h-24zM1000 318h1v-1h30v1h1v1h-1v1h-30v-1h-1zM1134 353h1v-1h24v1h1v2h-1v1h-24v-1h-1zM1157 323h1v-1h24v1h1v2h-1v1h-24v-1h-1zM1016 386h9v2h-9zM1218 384h1v-1h12v1h1v1h-1v1h-12v-1h-1zM900 394h1v-1h18v1h1v1h-1v1h-18v-1h-1zM986 355h27v2h-27zM1082 324h1v-1h18v1h1v1h-1v1h-18v-1h-1zM1037 348h1v-1h20v1h1v2h-1v1h-20v-1h-1zM1016 344h15v2h-15zM1017 364h1v-1h15v1h1v2h-1v1h-15v-1h-1zM912 365h1v-1h23v1h1v1h-1v1h-23v-1h-1z"/>
<path fill="#ff00ff" d="M1122 403h1v-1h14v1h1v2h-1v1h-14v-1h-1zM1072 400h1v-1h27v1h1v1h-1v1h-27v-1h-1zM1250 395h1v-1h8v1h1v2h-1v1h-8v-1h-1zM875 347h28v2h-28zM1136 333h1v-1h30v1h1v2h-1v1h-30v-1h-1zM1057 324h1v-1h18v1h1v2h-1v1h-18v-1h-1zM1038 361h1v-1h12v1h1v2h-1v1h-12v-1h-1zM1098 363h1v-1h6v1h1v2h-1v1h-6v-1h-1zM1033 364h1v-1h24v1h1v1h-1v1h-24v-1h-1zM1189 403h18v2h-18zM1238 311h12v2h-12zM1170 374h13v2h-13zM971 389h1v-1h21v1h1v2h-1v1h-21v-1h-1zM1199 320h1v-1h30v1h1v2h-1v1h-30v-1h-1zM1078 377h19v2h-19zM890 331h20v2h-20zM1059 336h1v-1h16v1h1v1h-1v1h-16v-1h-1zM1133 364h1v-1h10v1h1v1h-1v1h-10v-1h-1zM911 411h1v-1h5v1h1v1h-1v1h-5v-1h-1zM1152 346h1v-1h6v1h1v2h-1v1h-6v-1h-1zM1032 381h1v-1h8v1h1v2h-1v1h-8v-1h-1zM933 373h1v-1h10v1h1v2h-1v1h-10v-1h-1zM1162 333h1v-1h21v1h1v2h-1v1h-21v-1h-1zM1030 327h1v-1h14v1h1v1h-1v1h-14v-1h-1zM1111 320h13v2h-13zM909 314h1v-1h28v1h1v2h-1v1h-28v-1h-1zM1012 365h1v-1h26v1h1v1h-1v1h-26v-1h-1zM1223 390h1v-1h7v1h1v2h-1v1h-7v-1h-1zM1237 352h20v2h-20zM1247 411h1v-1h6v1h1v1h-1v1h-6v-1h-1zM888 316h21v2h-21zM1158 403h23v2h-23zM1198 352h1v-1h15v1h1v1h-1v1h-15v-1h-1zM1078 408h1v-1h22v1h1v2h-1v1h-22v-1h-1zM995 363h1v-1h28v1h1v1h-1v1h-28v-1h-1zM877 335h1v-1h29v1h1v1h-1v1h-29v-1h-1zM1164 403h1v-1h23v1h1v2h-1v1h-23v-1h-1zM1132 364h1v-1h29v1h1v2h-1v1h-29v-1h-1zM1225 354h1v-1h27v1h1v1h-1v1h-27v-1h-1zM1133 334h10v2h-10zM1209 347h10v2h-10zM1044 411h1v-1h10v1h1v1h-1v1h-10v-1h-1zM941 321h1v-1h6v1h1v1h-1v1h-6v-1h-1zM1207 325h9v2h-9zM1223 347h1v-1h11v1h1v1h-1v1h-11v-1h-1zM950 320h1v-1h19v1h1v1h-1v1h-19v-1h-1zM1033 329h1v-1h24v1h1v1h-1v1h-24v-1h-1zM947 368h1v-1h19v1h1v2h-1v1h-19v-1h-1zM1010 320h1v-1h10v1h1v2h-1v1h-10v-1h-1zM1047 325h32v2h-32zM954 360h1v-1h17v1h1v1h-1v1h-17v-1h-1zM1050 382h1v-1h29v1h1v2h-1v1h-29v-1h-1zM1127 414h30v2h-30zM1096 337h1v-1h22v1h1v1h-1v1h-22v-1h-1zM1038 327h1v-1h5v1h1v1h-1v1h-5v-1h-1zM1132 411h1v-1h25v1h1v1h-1v1h-25v-1h-1zM1083 329h1v-1h23v1h1v2h-1v1h-23v-1h-1zM905 344h1v-1h10v1h1v2h-1v1h-10v-1h-1zM1144 403h1v-1h27v1h1v1h-1v1h-27v-1h-1zM1007 406h15v2h-15zM907 368h1v-1h21v1h1v1h-1v1h-21v-1h-1zM1227 362h7v2h-7zM869 376h1v-1h16v1h1v1h-1v1h-16v-1h-1zM1232 315h1v-1h5v1h1v1h-1v1h-5v-1h-1zM1118 371h1v-1h19v1h1v2h-1v1h-19v-1h-1zM1128 391h1v-1h30v1h1v1h-1v1h-30v-1h-1zM869 404h1v-1h17v1h1v2h-1v1h-17v-1h-1zM973 325h1v-1h13v1h1v2h-1v1h-13v-1h-1zM1041 366h1v-1h24v1h1v2h-1v1h-24v-1h-1zM1059 339h1v-1h28v1h1v2h-1v1h-28v-1h-1zM1068 344h1v-1h23v1h1v1h-1v1h-23v-1h-1zM1048 324h1v-1h26v1h1v2h-1v1h-26v-1h-1zM1121 386h1v-1h22v1h1v1h-1v1h-22v-1h-1zM936 364h1v-1h16v1h1v1h-1v1h-16v-1h-1zM1172 321h1v-1h14v1h1v1h-1v1h-14v-1h-1zM956 385h1v-1h15v1h1v2h-1v1h-15v-1h-1zM967 325h1v-1h10v1h1v1h-1v1h-10v-1h-1zM1160 387h1v-1h5v1h1v1h-1v1h-5v-1h-1zM951 314h1v-1h24v1h1v1h-1v1h-24v-1h-1zM956 313h1v-1h25v1h1v1h-1v1h-25v-1h-1zM946 394h1v-1h11v1h1v1h-1v1h-11v-1h-1zM980 319h20v2h-20zM1236 326h1v-1h19v1h1v2h-1v1h-19v-1h-1zM985 339h1v-1h26v1h1v1h-1v1h-26v-1h-1zM1244 411h1v-1h12v1h1v2h-1v1h-12v-1h-1zM865 406h32v2h-32zM1046 327h1v-1h30v1h1v1h-1v1h-30v-1h-1zM901 393h1v-1h26v1h1v1h-1v1h-26v-1h-1zM1171 354h1v-1h22v1h1v2h-1v1h-22v-1h-1zM950 396h1v-1h11v1h1v2h-1v1h-11v-1h-1zM909 333h1v-1h17v1h1v1h-1v1h-17v-1h-1zM1136 366h8v2h-8zM990 357h1v-1h24v1h1v2h-1v1h-24v-1h-1zM1195 333h1v-1h27v1h1v1h-1v1h-27v-1h-1zM963 329h19v2h-19zM944 413h1v-1h23v1h1v2h-1v1h-23v-1h-1zM878 365h1v-1h9v1h1v2h-1v1h-9v-1h-1zM1176 355h10v2h-10zM1231 387h1v-1h7v1h1v1h-1v1h-7v-1h-1zM1054 318h1v-1h17v1h1v1h-1v1h-17v-1h-1zM1012 340h10v2h-10zM1196 400h1v-1h16v1h1v1h-1v1h-16v-1h-1zM1079 372h10v2h-10z"/>
<path fill="#ff8800" d="M1200 378h1v-1h11v1h1v1h-1v1h-11v-1h-1zM912 372h1v-1h28v1h1v1h-1v1h-28v-1h-1zM1235 405h1v-1h11v1h1v1h-1v1h-11v-1h-1zM934 378h1v-1h8v1h1v1h-1v1h-8v-1h-1zM1070 317h1v-1h17v1h1v1h-1v1h-17v-1h-1zM1146 380h1v-1h25v1h1v1h-1v1h-25v-1h-1zM1242 378h1v-1h16v1h1v2h-1v1h-16v-1h-1zM881 349h1v-1h26v1h1v1h-1v1h-26v-1h-1zM1010 376h1v-1h17v1h1v1h-1v1h-17v-1h-1zM907 404h1v-1h24v1h1v1h-1v1h-24v-1h-1zM889 343h1v-1h27v1h1v2h-1v1h-27v-1h-1zM1143 346h1v-1h25v1h1v2h-1v1h-25v-1h-1zM896 345h1v-1h6v1h1v1h-1v1h-6v-1h-1zM1203 399h1v-1h17v1h1v1h-1v1h-17v-1h-1zM1076 368h27v2h-27zM1124 343h1v-1h17v1h1v2h-1v1h-17v-1h-1zM1052 319h22v2h-22zM961 391h15v2h-15zM880 373h1v-1h9v1h1v2h-1v1h-9v-1h-1zM1056 328h1v-1h19v1h1v2h-1v1h-19v-1h-1zM927 397h31v2h-31zM1049 316h1v-1h10v1h1v1h-1v1h-10v-1h-1zM1115 394h1v-1h25v1h1v1h-1v1h-25v-1h-1zM1128 355h7v2h-7zM1054 374h1v-1h6v1h1v2h-1v1h-6v-1h-1zM917 317h1v-1h8v1h1v1h-1v1h-8v-1h-1zM1191 326h28v2h-28zM940 392h31v2h-31zM1169 331h1v-1h18v1h1v2h-1v1h-18v-1h-1zM915 336h1v-1h11v1h1v2h-1v1h-11v-1h-1zM989 366h14v2h-14zM1051 354h31v2h-31zM904 373h1v-1h24v1h1v2h-1v1h-24v-1h-1zM1109 346h1v-1h29v1h1v2h-1v1h-29v-1h-1zM1230 317h1v-1h6v1h1v1h-1v1h-6v-1h-1zM1112 406h19v2h-19zM910 367h1v-1h15v1h1v1h-1v1h-15v-1h-1zM973 401h1v-1h11v1h1v1h-1v1h-11v-1h-1zM1147 388h24v2h-24zM1251 383h1v-1h9v1h1v2h-1v1h-9v-1h-1zM929 366h26v2h-26zM883 313h1v-1h15v1h1v1h-1v1h-15v-1h-1zM1040 353h1v-1h8v1h1v2h-1v1h-8v-1h-1zM948 344h23v2h-23zM877 396h1v-1h27v1h1v2h-1v1h-27v-1h-1zM1078 339h1v-1h6v1h1v2h-1v1h-6v-1h-1zM1188 408h30v2h-30zM1246 405h7v2h-7zM1157 395h1v-1h20v1h1v2h-1v1h-20v-1h-1zM1171 369h1v-1h14v1h1v2h-1v1h-14v-1h-1zM1051 374h1v-1h28v1h1v1h-1v1h-28v-1h-1zM1069 408h1v-1h23v1h1v2h-1v1h-23v-1h-1zM1112 312h1v-1h5v1h1v2h-1v1h-5v-1h-1zM1229 320h1v-1h6v1h1v2h-1v1h-6v-1h-1zM1231 380h1v-1h27v1h1v2h-1v1h-27v-1h-1zM1235 368h1v-1h14v1h1v2h-1v1h-14v-1h-1zM1053 362h1v-1h6v1h1v1h-1v1h-6v-1h-1zM938 352h1v-1h25v1h1v1h-1v1h-25v-1h-1zM937 359h8v2h-8zM1106 321h1v-1h20v1h1v1h-1v1h-20v-1h-1zM1108 406h1v-1h10v1h1v1h-1v1h-10v-1h-1zM942 318h14v2h-14zM1221 335h1v-1h12v1h1v2h-1v1h-12v-1h-1zM1053 385h1v-1h16v1h1v2h-1v1h-16v-1h-1zM1201 352h1v-1h18v1h1v1h-1v1h-18v-1h-1zM1199 325h24v2h-24zM903 388h1v-1h5v1h1v1h-1v1h-5v-1h-1zM1155 324h1v-1h17v1h1v2h-1v1h-17v-1h-1zM1219 352h1v-1h15v1h1v2h-1v1h-15v-1h-1zM1153 345h28v2h-28zM1069 405h22v2h-22zM1195 349h1v-1h25v1h1v2h-1v1h-25v-1h-1zM990 352h9v2h-9zM1185 392h1v-1h11v1h1v2h-1v1h-11v-1h-1zM905 341h1v-1h11v1h1v1h-1v1h-11v-1h-1zM1101 374h1v-1h25v1h1v1h-1v1h-25v-1h-1zM1006 395h1v-1h5v1h1v1h-1v1h-5v-1h-1zM926 395h1v-1h29v1h1v2h-1v1h-29v-1h-1zM1017 404h1v-1h30v1h1v1h-1v1h-30v-1h-1zM1012 369h1v-1h30v1h1v1h-1v1h-30v-1h-1zM917 363h1v-1h26v1h1v1h-1v1h-26v-1h-1zM1132 312h1v-1h11v1h1v1h-1v1h-11v-1h-1zM1159 366h6v2h-6zM877 402h1v-1h13v1h1v2h-1v1h-13v-1h-1zM978 349h24v2h-24zM1093 382h1v-1h28v1h1v2h-1v1h-28v-1h-1zM1011 320h1v-1h21v1h1v2h-1v1h-21v-1h-1zM1071 371h1v-1h24v1h1v2h-1v1h-24v-1h-1zM937 404h28v2h-28zM902 400h8v2h-8zM946 390h1v-1h15v1h1v2h-1v1h-15v-1h-1zM918 315h1v-1h26v1h1v1h-1v1h-26v-1h-1zM1199 333h1v-1h16v1h1v1h-1v1h-16v-1h-1zM913 399h1v-1h13v1h1v2h-1v1h-13v-1h-1zM1233 353h1v-1h24v1h1v1h-1v1h-24v-1h-1zM910 399h6v2h-6zM867 319h24v2h-24zM1243 315h1v-1h4v1h1v1h-1v1h-4v-1h-1zM1200 341h1v-1h5v1h1v1h-1v1h-5v-1h-1zM890 368h1v-1h27v1h1v1h-1v1h-27v-1h-1zM992 383h1v-1h6v1h1v2h-1v1h-6v-1h-1zM993 403h1v-1h25v1h1v1h-1v1h-25v-1h-1zM876 400h1v-1h26v1h1v2h-1v1h-26v-1h-1zM965 379h1v-1h7v1h1v2h-1v1h-7v-1h-1zM909 406h16v2h-16zM970 369h30v2h-30zM972 370h1v-1h23v1h1v2h-1v1h-23v-1h-1zM1093 399h18v2h-18zM1050 350h20v2h-20zM1001 382h1v-1h12v1h1v1h-1v1h-12v-1h-1zM1108 379h1v-1h21v1h1v2h-1v1h-21v-1h-1zM902 347h1v-1h15v1h1v1h-1v1h-15v-1h-1zM969 329h1v-1h30v1h1v1h-1v1h-30v-1h-1zM1135 385h9v2h-9zM1151 311h10v2h-10zM1176 349h1v-1h20v1h1v2h-1v1h-20v-1h-1zM954 359h1v-1h5v1h1v1h-1v1h-5v-1h-1zM1143 373h13v2h-13z"/>
<path fill="#d09050" d="M971 342h8v2h-8zM922 355h1v-1h30v1h1v2h-1v1h-30v-1h-1zM1234 354h11v2h-11zM1191 332h19v2h-19zM1060 328h1v-1h25v1h1v2h-1v1h-25v-1h-1zM1155 311h1v-1h26v1h1v1h-1v1h-26v-1h-1zM915 405h1v-1h12v1h1v2h-1v1h-12v-1h-1zM949 330h1v-1h22v1h1v2h-1v1h-22v-1h-1zM925 370h1v-1h21v1h1v2h-1v1h-21v-1h-1zM1100 315h21v2h-21zM1197 373h1v-1h14v1h1v1h-1v1h-14v-1h-1zM1015 378h1v-1h21v1h1v1h-1v1h-21v-1h-1zM1063 321h19v2h-19zM1002 404h13v2h-13zM1125 328h1v-1h27v1h1v1h-1v1h-27v-1h-1zM1142 372h1v-1h7v1h1v1h-1v1h-7v-1h-1zM1060 335h1v-1h16v1h1v2h-1v1h-16v-1h-1zM1211 369h1v-1h21v1h1v1h-1v1h-21v-1h-1zM1177 364h1v-1h22v1h1v1h-1v1h-22v-1h-1zM1060 393h1v-1h21v1h1v1h-1v1h-21v-1h-1zM882 375h1v-1h9v1h1v1h-1v1h-9v-1h-1zM1061 347h1v-1h6v1h1v2h-1v1h-6v-1h-1zM1166 359h1v-1h10v1h1v1h-1v1h-10v-1h-1zM1093 355h1v-1h14v1h1v2h-1v1h-14v-1h-1zM1047 399h1v-1h10v1h1v2h-1v1h-10v-1h-1zM1087 392h18v2h-18zM902 334h21v2h-21zM1165 364h1v-1h21v1h1v1h-1v1h-21v-1h-1zM1090 335h18v2h-18zM1147 405h1v-1h15v1h1v2h-1v1h-15v-1h-1zM862 315h1v-1h11v1h1v2h-1v1h-11v-1h-1zM1040 378h1v-1h20v1h1v1h-1v1h-20v-1h-1zM1181 379h1v-1h15v1h1v2h-1v1h-15v-1h-1zM1094 316h29v2h-29zM1211 376h1v-1h21v1h1v1h-1v1h-21v-1h-1zM1047 319h1v-1h19v1h1v1h-1v1h-19v-1h-1zM1154 349h1v-1h6v1h1v2h-1v1h-6v-1h-1zM899 329h1v-1h20v1h1v2h-1v1h-20v-1h-1zM1012 394h1v-1h19v1h1v1h-1v1h-19v-1h-1zM999 364h23v2h-23zM929 379h28v2h-28zM866 354h1v-1h26v1h1v2h-1v1h-26v-1h-1zM1030 353h31v2h-31z"/>
<path fill="#0088ff" d="M1156 312h1v-1h27v1h1v2h-1v1h-27v-1h-1zM976 409h21v2h-21zM1017 357h1v-1h6v1h1v1h-1v1h-6v-1h-1zM976 322h26v2h-26zM1218 406h32v2h-32zM929 385h1v-1h23v1h1v2h-1v1h-23v-1h-1zM1108 317h1v-1h8v1h1v1h-1v1h-8v-1h-1zM1249 400h1v-1h7v1h1v1h-1v1h-7v-1h-1zM971 395h1v-1h12v1h1v2h-1v1h-12v-1h-1zM1148 350h23v2h-23zM910 403h1v-1h16v1h1v2h-1v1h-16v-1h-1zM1206 373h25v2h-25zM994 315h1v-1h4v1h1v2h-1v1h-4v-1h-1zM1133 376h27v2h-27zM901 327h21v2h-21zM899 410h1v-1h18v1h1v2h-1v1h-18v-1h-1zM1191 347h19v2h-19zM908 380h1v-1h13v1h1v2h-1v1h-13v-1h-1zM1014 392h32v2h-32zM893 385h1v-1h19v1h1v2h-1v1h-19v-1h-1zM1099 396h21v2h-21zM887 389h1v-1h20v1h1v2h-1v1h-20v-1h-1zM1013 344h30v2h-30zM884 386h1v-1h11v1h1v1h-1v1h-11v-1h-1zM1021 321h8v2h-8zM957 341h1v-1h10v1h1v1h-1v1h-10v-1h-1zM1193 386h1v-1h7v1h1v2h-1v1h-7v-1h-1zM1145 367h1v-1h22v1h1v1h-1v1h-22v-1h-1zM913 386h1v-1h7v1h1v1h-1v1h-7v-1h-1zM1159 365h31v2h-31zM1142 380h22v2h-22zM1130 351h1v-1h19v1h1v1h-1v1h-19v-1h-1zM1045 389h1v-1h30v1h1v1h-1v1h-30v-1h-1zM1187 327h1v-1h13v1h1v1h-1v1h-13v-1h-1zM1207 319h1v-1h13v1h1v2h-1v1h-13v-1h-1zM988 390h1v-1h15v1h1v1h-1v1h-15v-1h-1zM1050 326h21v2h-21zM1207 334h1v-1h5v1h1v2h-1v1h-5v-1h-1zM1227 374h1v-1h20v1h1v2h-1v1h-20v-1h-1zM1066 381h1v-1h21v1h1v2h-1v1h-21v-1h-1zM1204 382h1v-1h7v1h1v2h-1v1h-7v-1h-1zM1157 358h1v-1h26v1h1v1h-1v1h-26v-1h-1zM884 381h22v2h-22zM894 400h1v-1h25v1h1v2h-1v1h-25v-1h-1zM920 398h16v2h-16zM1172 326h1v-1h17v1h1v2h-1v1h-17v-1h-1zM1204 382h12v2h-12zM1177 377h1v-1h7v1h1v1h-1v1h-7v-1h-1zM1099 367h26v2h-26zM1073 377h1v-1h11v1h1v2h-1v1h-11v-1h-1zM1183 393h23v2h-23zM999 329h1v-1h21v1h1v2h-1v1h-21v-1h-1zM1189 393h1v-1h22v1h1v2h-1v1h-22v-1h-1zM898 322h1v-1h29v1h1v2h-1v1h-29v-1h-1zM957 377h17v2h-17zM957 330h18v2h-18zM1019 317h1v-1h26v1h1v2h-1v1h-26v-1h-1zM969 383h12v2h-12zM915 327h1v-1h18v1h1v2h-1v1h-18v-1h-1zM1090 409h8v2h-8z"/>
<path fill="#ff0088" d="M1214 366h1v-1h10v1h1v2h-1v1h-10v-1h-1zM902 366h28v2h-28zM953 373h20v2h-20zM923 389h1v-1h26v1h1v1h-1v1h-26v-1h-1zM924 367h1v-1h17v1h1v2h-1v1h-17v-1h-1zM1057 319h21v2h-21zM1249 318h1v-1h5v1h1v1h-1v1h-5v-1h-1zM1038 385h1v-1h7v1h1v2h-1v1h-7v-1h-1zM1161 342h1v-1h28v1h1v2h-1v1h-28v-1h-1zM1234 411h1v-1h21v1h1v1h-1v1h-21v-1h-1zM927 384h32v2h-32zM1149 406h1v-1h19v1h1v2h-1v1h-19v-1h-1zM1180 352h1v-1h17v1h1v1h-1v1h-17v-1h-1zM1157 399h1v-1h15v1h1v2h-1v1h-15v-1h-1zM1199 333h31v2h-31zM1032 323h1v-1h20v1h1v2h-1v1h-20v-1h-1zM928 359h32v2h-32zM912 399h1v-1h6v1h1v1h-1v1h-6v-1h-1zM893 394h1v-1h24v1h1v2h-1v1h-24v-1h-1zM1055 377h16v2h-16zM1168 326h1v-1h16v1h1v1h-1v1h-16v-1h-1zM1112 408h1v-1h17v1h1v1h-1v1h-17v-1h-1zM1219 410h1v-1h5v1h1v1h-1v1h-5v-1h-1zM1209 354h1v-1h13v1h1v1h-1v1h-13v-1h-1zM875 332h23v2h-23zM1061 382h1v-1h23v1h1v2h-1v1h-23v-1h-1zM1025 384h1v-1h8v1h1v1h-1v1h-8v-1h-1zM1220 316h1v-1h5v1h1v1h-1v1h-5v-1h-1zM1138 327h12v2h-12zM1117 361h17v2h-17zM993 390h1v-1h26v1h1v2h-1v1h-26v-1h-1zM1137 397h1v-1h15v1h1v1h-1v1h-15v-1h-1zM1134 366h13v2h-13zM1036 369h1v-1h11v1h1v1h-1v1h-11v-1h-1zM1180 402h1v-1h7v1h1v2h-1v1h-7v-1h-1zM887 322h1v-1h6v1h1v2h-1v1h-6v-1h-1zM958 403h1v-1h12v1h1v2h-1v1h-12v-1h-1zM1076 398h1v-1h28v1h1v2h-1v1h-28v-1h-1zM961 351h22v2h-22zM1203 406h11v2h-11zM985 313h1v-1h15v1h1v2h-1v1h-15v-1h-1zM998 390h1v-1h28v1h1v2h-1v1h-28v-1h-1zM1174 332h1v-1h19v1h1v2h-1v1h-19v-1h-1zM1144 330h30v2h-30zM861 353h25v2h-25z"/>
<polygon fill="#aa00ff" points="860,215 1263.8,215 1263.8,222.5 1200,225 1132.5,227.5 1100,230 1050,231.2 1000,230 962.5,225 907.5,222.5 860,223.8"/>
<polygon fill="#00ff00" points="860,224.5 900,223 910,227.5 907.5,233.8 860,235.5"/>
<polygon fill="#ff00ff" points="860,235.5 907.5,233.8 965,236.2 965,240 860,241"/>
<rect fill="#aa00ff" x="965" y="230" width="85" height="6.2"/>
<polygon fill="#d01555" points="1000,232.5 1050,231.2 1100,230 1132.5,227.5 1132.5,240 1075,241.2 1025,240 990,238.8"/>
<polygon fill="#ff0088" points="1132.5,227.5 1200,225 1263.8,222.5 1263.8,238.8 1200,240 1132.5,240"/>
<ellipse fill="#0088ff" cx="1125.6" cy="235.6" rx="7.4" ry="4.9"/>
<rect fill="#ffff00" x="967.5" y="234.5" width="22.5" height="3"/>
<rect fill="#ffff00" x="1150" y="223.8" width="25" height="2.5"/>
<rect fill="#ff8800" x="937.5" y="221.2" width="17.5" height="3.2"/>
<rect fill="#0000ff" x="1005" y="231.2" width="20" height="3.2"/>
<rect fill="#00ffff" x="1075" y="228.8" width="15" height="2.5"/>
<ellipse fill="#ffffff" cx="1203.8" cy="227.5" rx="2.2" ry="1.5"/>
<polygon fill="#915555" points="860,241 965,240 990,238.8 1025,240 1075,241.2 1132.5,240 1200,240 1263.8,238.8 1263.8,275 1225,277.5 1175,280.5 1125,282.5 1050,284.5 975,285.5 912.5,286.2 860,288"/>
<rect fill="#ff8800" x="881.2" y="266.2" width="18.8" height="2.5"/>
<ellipse fill="#ff0000" cx="907.5" cy="269.4" rx="4.2" ry="2.4"/>
<ellipse fill="#00ff00" cx="915" cy="270.6" rx="4.2" ry="2.4"/>
<ellipse fill="#ff0088" cx="997.5" cy="270.6" rx="8" ry="3.6"/>
<rect fill="#ff00ff" x="1025" y="270" width="15" height="2.5"/>
<ellipse fill="#d01555" cx="1122.5" cy="275" rx="10.5" ry="3"/>
<rect fill="#00ffff" x="1132.5" y="274.5" width="17.5" height="3"/>
<ellipse fill="#ffffff" cx="1128.8" cy="275.5" rx="2.5" ry="1.8"/>
<rect fill="#00ffff" x="1090" y="255" width="12.5" height="3.8"/>
<rect fill="#ff8800" x="1100" y="256.2" width="7.5" height="3.8"/>
<ellipse fill="#00ff00" cx="1228.8" cy="246.9" rx="4.2" ry="3.6"/>
<ellipse fill="#d09050" cx="1241.2" cy="244.4" rx="9.2" ry="3.6"/>
<ellipse fill="#ffffff" cx="1233.1" cy="248.8" rx="2.1" ry="1.8"/>
<rect fill="#ffff00" x="1250" y="275" width="13.8" height="2.5"/>
<rect fill="#ff00ff" x="1055" y="245" width="12.5" height="2.5"/>
<rect fill="#ff0088" x="960" y="260" width="8.8" height="2.5"/>
<rect fill="#ff8800" x="920" y="252.5" width="10" height="2.5"/>
<rect fill="#00ffff" x="907.5" y="255" width="10" height="2.5"/>
<ellipse fill="#ffffff" cx="1006.5" cy="252.2" rx="2" ry="1"/>
<ellipse fill="#ffffff" cx="1162.2" cy="248.1" rx="1.2" ry="1.9"/>
<rect fill="#ffff00" x="1182.5" y="255" width="7.5" height="2"/>
<rect fill="#00ff00" x="1195" y="256.2" width="7.5" height="2.5"/>
<polygon fill="#0000ff" points="860,288 912.5,286.2 975,285.5 1050,284.5 1125,282.5 1175,280.5 1225,277.5 1263.8,275 1263.8,315 1225,312.5 1200,313.8 1175,307.5 1150,306.2 1125,308.8 1075,307.5 1045,311.2 1025,315 1005,320 975,318.8 950,322.5 925,320 900,322.5 887.5,315 875,307.5 860,310"/>
<ellipse fill="#0088ff" cx="1001.2" cy="294.4" rx="11.8" ry="4.9"/>
<ellipse fill="#ffffff" cx="988.8" cy="294.4" rx="2.5" ry="2.1"/>
<ellipse fill="#ffff00" cx="910" cy="301.2" rx="8" ry="3"/>
<ellipse fill="#d01555" cx="948.8" cy="300.6" rx="6.8" ry="4.9"/>
<polygon fill="#ff8800" points="937.5,305.5 958.8,305 959.2,310 936.2,310.5"/>
<rect fill="#00ffff" x="930" y="305" width="7.5" height="3.8"/>
<ellipse fill="#ff0088" cx="864" cy="291.9" rx="4" ry="3.6"/>
<ellipse fill="#ffffff" cx="880" cy="311.2" rx="3.2" ry="3.2"/>
<rect fill="#ff8800" x="877.5" y="301.2" width="22.5" height="3.8"/>
<rect fill="#ff00ff" x="980" y="307" width="17.5" height="2.5"/>
<rect fill="#ff8800" x="1020" y="301.2" width="15" height="3.2"/>
<rect fill="#ff00ff" x="1025" y="287.5" width="15" height="2"/>
<rect fill="#00ff00" x="1212.5" y="285" width="7.5" height="3"/>
<rect fill="#0088ff" x="1205" y="303.8" width="20" height="2.5"/>
<rect fill="#ff8800" x="1225" y="300" width="15" height="2"/>
<polygon fill="#d01555" points="860,311.2 875,308 887.5,315 888.8,325 860,326.2"/>
<polygon fill="#00dd99" points="860,326.2 900,325 950,328.8 1000,337.5 990,342.5 925,340 875,337.5 860,335"/>
<rect fill="#ff8800" x="900" y="321.2" width="32.5" height="5"/>
<rect fill="#00ff00" x="887.5" y="328.8" width="20" height="3.8"/>
<rect fill="#00ffff" x="925" y="335" width="30" height="5"/>
<rect fill="#d09050" x="950" y="321.2" width="30" height="5"/>
<ellipse fill="#ffff00" cx="986.2" cy="323.1" rx="5" ry="3.1"/>
<rect fill="#00ffff" x="865" y="331.2" width="25" height="3.8"/>
<rect fill="#00ff00" x="960" y="322.5" width="15" height="3"/>
<polygon fill="#d05515" points="1032.5,310.5 1097.5,309.5 1098,316.2 1033.8,316.8"/>
<rect fill="#d09050" x="1055" y="316.2" width="45" height="6.2"/>
<polygon fill="#ff8800" points="1070,325.5 1122.5,325 1123,336.2 1071.2,336.8"/>
<polygon fill="#0000ff" points="1005,320.5 1050,320 1050.5,326.2 1006.2,326.8"/>
<polygon fill="#0000ff" points="1105,319.2 1212.5,318.8 1213,325 1106.2,325.5"/>
<rect fill="#ff8800" x="1125" y="326.2" width="37.5" height="5"/>
<rect fill="#00ffff" x="1150" y="327.5" width="32.5" height="3.8"/>
<rect fill="#ffff00" x="1225" y="325" width="25" height="5"/>
<polygon fill="#d01555" points="1187.5,325.5 1225,325 1225.5,332.5 1188.8,333"/>
<rect fill="#00ff00" x="1150" y="310" width="10" height="3.8"/>
<rect fill="#ffff00" x="1100" y="312.5" width="25" height="3.8"/>
<rect fill="#00ffff" x="1145" y="313.8" width="30" height="5"/>
<rect fill="#915555" x="1137.5" y="310" width="62.5" height="4"/>
<polygon fill="#ff0088" points="1200,311.8 1240,311.2 1240.5,317.5 1201.2,318"/>
<rect fill="#ffff00" x="1125" y="315" width="17.5" height="3"/>
<rect fill="#00ff00" x="1107.5" y="316.2" width="12.5" height="2.5"/>
<rect fill="#ff8800" x="1240" y="315" width="23.8" height="5"/>
<rect fill="#aa00ff" x="1025" y="327.5" width="45" height="7.5"/>
<rect fill="#00ffff" x="1045" y="332.5" width="20" height="3"/>
<rect fill="#ff0088" x="1005" y="330" width="25" height="4.5"/>
<rect fill="#ff00ff" x="1175" y="332.5" width="37.5" height="5"/>
<rect fill="#ffff00" x="1112.5" y="335" width="37.5" height="3.8"/>
<polygon fill="#aa00ff" points="990,342.5 1025,340 1075,338.8 1125,345 1132.5,352.5 1100,358.8 1070,355 1025,355 990,350"/>
<rect fill="#d09050" x="925" y="341.2" width="35" height="6.2"/>
<rect fill="#00ffff" x="875" y="345" width="50" height="6.2"/>
<polygon fill="#aa00ff" points="937.5,347.5 990,347 990.5,355 938.8,355.5"/>
<rect fill="#ffff00" x="865" y="340" width="15" height="5"/>
<rect fill="#ff00ff" x="860" y="335" width="12.5" height="5"/>
<rect fill="#d01555" x="882.5" y="340" width="32.5" height="5"/>
<rect fill="#ff8800" x="960" y="340" width="25" height="3.8"/>
<polygon fill="#ff00ff" points="1150,342.5 1175,337.5 1212.5,340 1225,350 1200,357.5 1162.5,355 1147.5,350"/>
<polygon fill="#aa00ff" points="1212.5,333 1263.8,332.5 1263.8,345 1213.8,345.5"/>
<rect fill="#0000ff" x="1220" y="338.8" width="20" height="5"/>
<ellipse fill="#ff0000" cx="1145" cy="356.2" rx="8" ry="5.5"/>
<rect fill="#0000ff" x="1132.5" y="345" width="17.5" height="5"/>
<rect fill="#00ffff" x="1225" y="347.5" width="25" height="3.8"/>
<ellipse fill="#ff0000" cx="882.5" cy="360.6" rx="13" ry="6.1"/>
<ellipse fill="#ffff00" cx="866.5" cy="360" rx="6.5" ry="5.5"/>
<polygon fill="#d05515" points="895,351.8 950,351.2 950.5,358.8 896.2,359.2"/>
<polygon fill="#ffff00" points="960,351.8 1022.5,351.2 1023,357.5 961.2,358"/>
<rect fill="#00ffff" x="970" y="362.5" width="40" height="5"/>
<polygon fill="#00ffff" points="1045,358.8 1065,355 1082.5,357.5 1083.8,365 1070,368.8 1050,367.5"/>
<ellipse fill="#ffff00" cx="1073.8" cy="351.2" rx="8" ry="5.5"/>
<rect fill="#0000ff" x="1025" y="355" width="25" height="5"/>
<rect fill="#ffff00" x="1075" y="362.5" width="25" height="3.8"/>
<rect fill="#ff8800" x="925" y="362.5" width="30" height="5"/>
<rect fill="#00ffff" x="910" y="365" width="15" height="7.5"/>
<rect fill="#00ff00" x="925" y="367.5" width="12.5" height="3.8"/>
<rect fill="#d09050" x="860" y="368.8" width="30" height="6.2"/>
<rect fill="#d01555" x="950" y="362.5" width="20" height="6.2"/>
<rect fill="#ff00ff" x="990" y="357.5" width="25" height="5"/>
<rect fill="#0000ff" x="895" y="360" width="20" height="3.8"/>
<rect fill="#ff0088" x="955" y="368.8" width="35" height="3.8"/>
<rect fill="#ff8800" x="1010" y="365" width="30" height="5"/>
<rect fill="#915555" x="1100" y="360" width="37.5" height="5"/>
<rect fill="#ff8800" x="1100" y="366.2" width="25" height="5"/>
<polygon fill="#ffff00" points="1157.5,365 1187.5,361.2 1240,360 1263.8,358.8 1263.8,367.5 1225,368.8 1175,371.2 1160,368.8"/>
<rect fill="#ff8800" x="1175" y="368.8" width="50" height="5"/>
<rect fill="#00ff00" x="1197.5" y="375" width="37.5" height="5"/>
<rect fill="#ff0088" x="1200" y="355" width="40" height="5"/>
<rect fill="#d01555" x="1225" y="352.5" width="38.8" height="6.2"/>
<rect fill="#00ffff" x="1125" y="370" width="25" height="3.8"/>
<polygon fill="#aa00ff" points="860,377.5 900,375 975,371.2 1050,373.8 1075,375 1070,381.2 1025,382.5 975,385 925,387.5 875,387.5 860,387.5"/>
<polygon fill="#a80055" points="1145,377.5 1170,373.8 1190,378.8 1185,388.8 1150,390"/>
<polygon fill="#d01555" points="1075,375 1145,375.5 1145.5,381.2 1076.2,381.8"/>
<rect fill="#915555" x="1025" y="375" width="50" height="5"/>
<polygon fill="#d09050" points="1040,384.2 1090,383.8 1090.5,390 1041.2,390.5"/>
<rect fill="#ffff00" x="1090" y="385" width="25" height="3.8"/>
<rect fill="#00ff00" x="1207.5" y="382.5" width="17.5" height="5"/>
<rect fill="#ffff00" x="1195" y="381.2" width="15" height="5"/>
<rect fill="#0000ff" x="1220" y="386.2" width="20" height="3.8"/>
<rect fill="#ff0088" x="1225" y="378.8" width="38.8" height="6.2"/>
<rect fill="#00ffff" x="1240" y="387.5" width="23.8" height="5"/>
<rect fill="#ffff00" x="960" y="378.8" width="10" height="3.2"/>
<rect fill="#ff8800" x="860" y="387.5" width="40" height="3.8"/>
<rect fill="#00ff00" x="970" y="387.5" width="10" height="3"/>
<rect fill="#ff00ff" x="990" y="386.2" width="25" height="3.8"/>
<rect fill="#ff0088" x="1025" y="400" width="50" height="7.5"/>
<rect fill="#ff8800" x="1095" y="398.8" width="55" height="6.2"/>
<rect fill="#ffff00" x="1150" y="391.2" width="30" height="5"/>
<rect fill="#d09050" x="1035" y="390" width="35" height="5"/>
<rect fill="#d01555" x="1075" y="405" width="50" height="7.5"/>
<rect fill="#915555" x="1025" y="406.2" width="25" height="6.2"/>
<rect fill="#ffff00" x="1240" y="398.8" width="20" height="5"/>
<rect fill="#0000ff" x="1170" y="398.8" width="15" height="3.8"/>
<ellipse fill="#ffffff" cx="1165" cy="408.8" rx="3.2" ry="1.8"/>
<rect fill="#00ffff" x="1175" y="405" width="50" height="3.8"/>
<rect fill="#00ff00" x="1025" y="393.8" width="15" height="3.8"/>
<rect fill="#ff00ff" x="1125" y="410" width="37.5" height="5"/>
<rect fill="#ff8800" x="1200" y="411.2" width="40" height="5"/>
<rect fill="#ffff00" x="1075" y="412.5" width="25" height="3.8"/>
<rect fill="#00ffff" x="1055" y="395" width="20" height="3"/>
<rect fill="#aa00ff" x="1015" y="390" width="15" height="10"/>
<rect fill="#ff00ff" x="860" y="413.2" width="90" height="3.2"/>
<rect fill="#ff8800" x="950" y="413.8" width="75" height="2.8"/>
<path fill="#0000ff" d="M869 289h10v1h-10zM1115 240h2v2h-2zM907 282h7v1h-7zM965 234h4v2h-4zM1191 282h3v2h-3z"/>
<path fill="#00ff00" d="M1208 273h8v2h-8zM1112 247h3v2h-3zM1138 228h7v2h-7zM952 235h6v1h-6zM1020 280h10v1h-10zM1235 266h8v1h-8z"/>
<path fill="#d05515" d="M988 259h4v2h-4zM1077 247h4v2h-4zM879 266h8v2h-8z"/>
<path fill="#aa00ff" d="M1209 259h8v1h-8zM962 285h8v2h-8zM1144 225h2v1h-2zM1001 275h6v1h-6zM1225 258h7v1h-7z"/>
<path fill="#ffff00" d="M904 254h5v1h-5zM933 219h9v2h-9zM938 227h5v2h-5zM1108 282h4v1h-4z"/>
<path fill="#00dd99" d="M1237 253h9v2h-9zM907 231h10v1h-10zM891 256h9v2h-9z"/>
<path fill="#a80055" d="M973 280h5v1h-5zM1003 247h3v2h-3zM1050 274h9v1h-9zM939 273h6v2h-6z"/>
<path fill="#d01555" d="M982 242h7v2h-7zM939 232h2v2h-2z"/>
<path fill="#ff0000" d="M929 255h3v2h-3zM1046 268h10v2h-10zM1218 255h3v2h-3z"/>
<path fill="#ff0088" d="M1117 230h6v2h-6zM1178 234h10v1h-10zM1135 266h4v2h-4z"/>
<path fill="#0088ff" d="M1192 283h2v1h-2zM1164 231h8v1h-8zM1013 282h3v1h-3zM1017 249h5v2h-5zM1169 264h6v2h-6z"/>
<path fill="#ffffff" d="M869 271h6v1h-6zM1102 218h2v1h-2z"/>
<path fill="#00ffff" d="M1201 217h2v1h-2z"/>
<path fill="#d09050" d="M930 286h9v2h-9zM1071 225h9v1h-9zM1241 215h4v1h-4zM932 252h3v1h-3zM1106 269h9v1h-9zM986 281h4v1h-4z"/>
<path fill="#ff8800" d="M1058 252h5v2h-5zM881 254h9v1h-9zM864 221h5v1h-5z"/>
<path fill="#ff00ff" d="M1177 219h5v2h-5zM987 236h8v2h-8zM1076 222h6v1h-6zM1036 234h8v2h-8zM964 279h6v2h-6z"/>
<path fill="#aa00ff" d="M1208 300h14v2h-14zM1156 336h15v2h-15zM1148 349h10v1h-10zM946 360h11v2h-11zM957 329h10v2h-10zM1218 407h11v2h-11zM916 405h3v2h-3zM1220 308h14v2h-14zM1200 410h7v2h-7z"/>
<path fill="#0088ff" d="M912 314h8v2h-8zM1077 401h4v2h-4zM964 359h9v1h-9zM1043 305h9v1h-9zM1029 366h9v2h-9zM1246 384h11v1h-11zM1005 327h5v2h-5zM1004 388h4v1h-4zM1238 395h4v2h-4zM1143 313h10v2h-10zM866 360h7v2h-7z"/>
<path fill="#ffffff" d="M1222 303h3v2h-3zM894 349h11v1h-11zM902 388h9v1h-9zM1174 304h3v1h-3zM1168 358h13v2h-13zM937 328h6v2h-6zM1178 322h10v2h-10zM927 330h13v2h-13zM1140 408h13v2h-13z"/>
<path fill="#ffff00" d="M1151 335h8v2h-8zM865 318h5v1h-5zM978 397h9v2h-9zM1215 301h9v1h-9zM1046 407h15v1h-15zM1099 338h6v2h-6zM1043 326h3v2h-3zM1080 370h12v1h-12zM1183 357h12v2h-12zM915 379h12v2h-12zM937 404h4v1h-4zM1061 391h9v2h-9zM1017 329h13v1h-13zM1179 403h7v1h-7zM957 301h6v2h-6z"/>
<path fill="#00ffff" d="M1007 312h5v1h-5zM897 397h7v1h-7zM906 292h15v2h-15zM927 375h12v1h-12zM1227 323h8v1h-8zM913 302h6v2h-6zM942 362h14v2h-14z"/>
<path fill="#0000ff" d="M1113 313h10v2h-10zM900 356h14v1h-14zM954 302h11v2h-11zM994 401h14v2h-14zM968 365h14v2h-14zM1224 372h6v1h-6zM985 344h8v1h-8zM970 353h14v2h-14zM888 292h13v2h-13zM1067 395h7v2h-7zM920 307h14v1h-14zM1155 328h10v2h-10zM891 408h11v2h-11z"/>
<path fill="#00ff00" d="M1065 362h9v2h-9zM1182 300h15v1h-15zM1147 382h13v1h-13zM929 399h7v2h-7zM882 341h8v2h-8zM1122 350h9v2h-9zM1235 300h15v1h-15zM1095 390h7v2h-7z"/>
<path fill="#d09050" d="M970 362h4v1h-4zM999 328h6v1h-6zM1118 310h7v1h-7zM1116 396h13v2h-13zM870 341h7v2h-7zM1174 396h9v1h-9zM874 299h8v2h-8zM1068 333h9v1h-9zM979 324h14v1h-14z"/>
<path fill="#a80055" d="M1226 364h5v2h-5zM1155 333h9v2h-9zM1175 308h3v2h-3zM1190 295h7v2h-7zM883 294h7v2h-7zM886 375h4v2h-4zM901 356h14v2h-14zM1077 365h4v1h-4zM1195 296h9v2h-9zM940 360h14v2h-14zM937 399h9v1h-9zM997 316h12v1h-12zM1131 405h11v2h-11z"/>
<path fill="#d01555" d="M882 342h5v2h-5zM1185 362h8v1h-8zM1027 298h15v2h-15zM1086 414h9v1h-9zM1003 348h5v1h-5zM967 320h11v1h-11z"/>
<path fill="#ff00ff" d="M1021 376h14v2h-14zM945 360h10v2h-10zM930 393h15v2h-15zM1162 400h10v2h-10zM1154 327h10v2h-10zM1134 402h7v2h-7zM1004 306h10v1h-10zM981 304h4v2h-4zM1006 363h12v2h-12z"/>
<path fill="#d05515" d="M1107 332h13v1h-13zM929 346h5v2h-5zM1163 374h13v2h-13zM1155 318h15v2h-15zM1118 408h4v1h-4zM1127 304h4v2h-4zM994 301h8v2h-8zM1133 355h5v1h-5zM870 314h4v2h-4zM899 333h12v2h-12zM953 363h11v2h-11zM1056 391h8v2h-8z"/>
<path fill="#ff0088" d="M891 360h6v2h-6zM1184 365h10v2h-10zM1172 376h3v2h-3zM1033 388h5v2h-5zM1242 398h11v2h-11zM923 315h10v2h-10zM987 319h4v2h-4zM1185 385h11v2h-11zM1121 395h6v2h-6z"/>
<path fill="#00dd99" d="M1047 346h5v2h-5zM1214 374h5v1h-5zM1127 412h7v2h-7zM997 412h9v1h-9zM957 302h8v2h-8zM1072 338h7v2h-7z"/>
<path fill="#ff8800" d="M1012 401h9v2h-9zM970 335h3v2h-3zM1159 414h3v1h-3zM887 349h9v1h-9zM947 373h7v2h-7zM1188 351h11v1h-11zM1175 369h10v2h-10zM1174 390h13v1h-13zM1095 393h13v1h-13zM1246 302h7v2h-7zM966 381h11v1h-11zM1247 375h6v2h-6zM1147 298h14v2h-14zM934 398h3v2h-3zM950 377h9v1h-9zM1247 400h8v2h-8z"/>
<path fill="#ff0000" d="M931 353h10v2h-10zM1238 369h8v2h-8zM899 321h15v2h-15zM1103 319h6v1h-6zM1165 341h9v1h-9zM1034 398h4v1h-4zM1011 403h15v2h-15zM1203 373h9v2h-9z"/>
</g>
<g clip-path="url(#cc)" shape-rendering="crispEdges">
<path fill="#0088ff" stroke="#0088ff" stroke-width="0.7" fill-rule="evenodd" d="M298.8 896.2L303.2 900.2L303.8 904.2L302.8 905.8L356.8 905.8L358.2 902.2L357.8 897.2L355.8 893.2L354.8 892.2L350.2 891.8L309.8 892.2L301.2 893.2ZM406.8 874.8L406.2 888.8L413.2 890.2L423.8 890.2L423.8 872.2L420.8 871.2L413.8 871.2ZM285.2 849.2L282.8 851.2L282.8 853.8L285.2 855.8L287.2 855.8L289.2 853.8L289.2 851.2L287.8 849.8ZM348.8 848.8L349.2 850.2L348.8 859.2L353.8 863.8L360.2 866.8L363.2 866.8L372.2 858.8L373.2 853.8L374.8 851.8L369.8 848.2L363.2 845.8L355.8 845.8ZM200.8 843.8L197.8 849.2L199.2 854.2L202.8 860.8L206.2 864.8L211.2 867.8L213.8 868.2L215.8 870.8L220.2 870.2L222.8 866.2L222.8 862.8L221.2 859.2L219.2 857.2L217.8 856.8L217.8 855.2L215.8 850.8L214.2 849.2L209.8 847.2L205.8 842.8ZM7.8 823.8L6.8 823.8L5.8 825.8L5.8 829.2L7.2 831.2L8.8 830.2L9.2 828.8L9.2 825.8ZM383.8 779.8L385.2 782.8L385.2 787.2L382.8 790.8L382.8 792.2L384.8 796.2L394.2 797.8L401.8 796.8L405.8 795.2L406.8 789.8L400.8 785.2L396.2 780.8L393.2 780.8L388.8 779.2ZM165.8 776.8L164.2 777.2L163.2 779.2L163.2 781.2L164.2 783.2L166.8 782.8L167.8 780.8L167.2 778.2ZM122.8 781.8L122.8 782.8L124.2 784.2L128.2 786.2L134.8 786.2L138.8 784.2L138.2 783.8L138.2 777.8L136.8 776.2L132.2 774.8L126.2 774.2L125.2 778.8ZM19.2 743.8L13.2 746.8L8.8 746.8L5.2 745.2L5.2 802.2L6.8 803.8L5.2 805.2L5.2 810.8L7.8 812.8L11.2 811.8L12.2 810.2L12.8 805.8L20.2 805.2L25.8 802.2L31.2 796.8L36.8 787.8L37.8 788.2L48.8 787.8L55.8 784.8L60.8 780.2L54.8 775.2L53.2 772.2L53.2 769.2L52.2 768.8L42.2 768.2L38.2 769.2L30.8 755.2L27.2 750.8ZM125.8 725.2L124.8 722.8L118.8 719.2L107.2 719.8L106.8 720.2L95.8 719.8L92.2 722.8L91.2 724.8L91.2 728.2L93.2 731.2L100.8 731.8L110.2 735.2L116.8 732.8L120.8 732.8L124.2 729.2ZM375.2 679.8L368.2 682.8L366.2 688.8L366.8 692.2L368.8 695.8L370.2 697.2L373.8 698.8L378.2 697.8L378.2 690.2ZM255.2 677.2L253.2 679.2L251.8 682.2L252.2 682.8L252.2 687.8L250.8 690.2L255.2 694.2L257.8 695.2L260.2 695.2L262.8 689.8L263.2 681.8L260.2 678.8ZM305.8 658.2L307.8 659.2L309.2 661.8L312.8 662.2L317.2 664.2L320.8 662.8L322.8 660.2L320.8 655.8L317.2 654.2L312.8 654.2L309.8 655.2ZM274.8 652.2L274.2 653.8L274.8 657.8L277.8 660.8L284.2 662.8L288.8 662.2L289.8 658.2L291.8 654.8L290.8 652.8L285.8 651.2L278.2 651.2ZM385.8 633.8L375.8 642.8L375.8 647.2L374.2 649.8L374.8 657.2L372.8 666.2L376.2 669.8L378.2 674.2L378.8 673.8L386.8 674.2L390.2 676.2L394.8 681.2L394.2 688.8L391.8 695.8L393.2 697.2L395.2 701.2L397.2 708.2L397.2 716.8L395.2 723.2L402.8 730.8L410.2 735.8L415.2 737.2L419.2 737.2L423.8 735.8L423.8 675.8L420.8 675.8L418.8 674.8L415.8 671.8L412.8 666.8L412.8 656.8L413.8 649.8L404.2 641.8L396.8 631.2L390.8 633.8ZM263.8 624.8L261.2 629.2L260.2 634.8L263.8 635.8L268.2 635.8L272.2 634.8L273.2 631.8L273.2 627.8L272.2 625.2ZM156.2 593.8L143.2 600.8L137.8 602.8L134.2 606.2L129.8 606.8L138.2 628.8L144.8 650.2L149.2 650.2L151.8 649.2L156.2 648.8L156.2 647.2L158.2 643.8L162.8 639.2L169.2 635.2L175.8 632.8L175.8 627.8L177.8 624.2L180.8 621.8L178.2 619.8L176.8 616.8L176.8 613.8L177.8 611.2L168.2 604.2L158.8 594.8ZM41.8 565.8L40.8 566.2L40.2 568.2L41.2 569.2L42.8 569.2L43.2 566.8ZM139.8 566.8L146.8 573.8L152.8 576.8L160.8 578.8L169.2 574.2L169.2 568.8L170.2 566.2L160.2 561.2L151.2 559.2L144.2 558.8L143.2 559.8L144.2 561.8L143.8 563.2L141.8 565.2L140.8 565.2ZM388.8 556.2L386.8 558.8L387.2 561.2L388.8 562.8L390.8 563.2L393.2 562.8L395.2 560.2L394.2 557.2L391.2 555.8ZM123.8 525.8L131.2 531.8L137.2 531.8L139.2 529.8L142.8 528.2L147.2 528.2L150.8 529.8L159.2 521.2L157.2 519.2L158.2 516.8L149.8 510.8L148.2 510.2L130.8 510.2L128.8 512.2L124.8 513.2L125.8 516.8L125.8 520.2ZM26.8 499.8L27.2 503.2L29.2 504.8L31.8 505.2L40.8 505.2L42.2 504.8L44.8 501.2L43.8 497.2L28.8 497.2Z"/>
<path fill="#915555" stroke="#915555" stroke-width="0.7" fill-rule="evenodd" d="M248.8 882.8L246.2 888.2L244.8 893.8L245.2 905.8L274.8 905.8L273.8 904.2L273.8 901.8L274.8 899.8L277.8 897.2L274.8 891.2L268.2 882.2L262.2 882.8L257.2 881.8L254.2 880.2L250.8 881.2ZM170.8 841.8L166.2 845.2L162.2 852.2L160.2 859.8L159.8 869.2L160.2 871.8L162.8 875.8L169.8 883.2L173.2 885.2L176.8 885.8L179.2 883.8L180.2 871.8L183.8 852.8L184.8 850.2L182.8 848.2L181.2 845.2L177.8 845.2L175.8 844.2L174.8 841.8ZM252.2 865.2L259.2 874.2L261.2 873.8L265.8 874.2L269.8 875.8L286.8 869.2L288.8 865.2L291.2 863.2L295.8 863.8L298.2 866.2L299.2 869.8L318.8 863.2L333.2 857.2L332.2 854.8L332.2 850.2L333.8 846.8L331.8 846.8L327.2 844.8L323.8 840.2L293.8 840.2L293.2 839.8L286.8 839.8L282.8 840.8L277.2 840.2L272.8 846.2L270.2 852.2L269.2 853.2L264.2 854.8L258.8 857.8L254.2 861.8ZM285.2 848.8L287.8 849.2L289.8 851.2L289.8 853.8L287.2 856.2L285.2 856.2L282.2 853.8L282.2 851.2ZM420.2 786.2L417.2 788.8L417.2 797.8L419.2 798.8L423.2 799.2L423.8 798.8L423.8 786.8ZM177.8 731.8L158.2 714.2L154.8 715.2L149.8 715.2L149.2 715.8L147.2 715.2L144.2 718.2L138.8 721.2L131.2 723.2L125.8 723.2L126.2 725.2L124.8 729.2L121.2 732.8L124.2 736.2L125.2 738.8L124.8 743.2L121.8 746.8L114.2 746.8L109.8 745.2L104.8 747.8L100.8 748.8L91.2 748.8L85.8 753.8L85.8 755.8L87.8 762.2L116.2 765.2L120.8 766.2L123.2 766.2L130.2 763.2L138.8 761.2L168.8 759.2L175.2 743.2L177.2 736.2ZM286.8 674.8L272.8 679.2L263.2 681.2L263.8 681.8L263.2 689.8L260.2 695.8L261.2 697.2L262.8 703.2L265.2 704.2L269.8 707.8L277.2 708.2L278.2 709.2L278.2 710.8L277.2 711.2L291.2 710.2L301.2 700.2L299.2 693.8L299.8 685.2L297.2 681.8L294.2 681.8L289.8 679.2ZM92.2 660.2L89.2 663.8L88.2 667.2L88.2 672.2L88.8 673.8L90.8 675.2L94.8 675.2L98.8 672.2L98.8 669.8L97.2 664.8L95.8 662.2L93.8 660.2ZM362.2 641.8L362.8 645.2L366.2 649.8L368.8 650.8L372.2 650.8L373.8 650.2L374.8 648.8L375.2 642.8L374.2 641.8L370.8 640.2L365.8 640.2ZM237.2 623.8L235.8 627.8L235.8 632.2L237.2 636.2L241.8 637.2L249.2 637.2L255.8 634.8L252.2 623.2L241.2 622.8ZM317.2 618.8L322.8 627.2L335.2 627.2L344.2 625.8L342.2 620.8L338.2 616.2L329.8 611.8L327.8 611.2L324.2 611.8ZM64.2 570.8L64.2 572.8L66.2 575.2L70.8 576.8L73.2 575.2L75.8 575.2L77.8 572.2L77.2 569.2L74.8 568.2L67.8 568.8L64.8 569.8ZM5.8 552.8L5.2 553.2L5.2 558.8L6.2 560.2L8.2 560.8L10.2 558.8L10.8 555.2L8.8 552.8ZM371.2 536.2L368.2 538.2L356.8 542.8L345.2 545.2L341.2 545.2L340.8 547.2L343.8 553.8L344.2 558.8L343.2 563.8L345.8 570.8L347.8 581.2L347.8 596.2L347.2 596.8L354.2 596.2L357.2 597.2L359.8 600.2L358.8 602.2L362.8 607.8L367.8 610.2L373.2 610.8L376.2 610.2L377.2 601.8L381.8 590.8L385.2 585.2L393.2 576.2L390.8 572.8L390.8 568.2L391.8 566.2L396.2 561.8L395.2 560.8L393.2 563.2L390.8 563.8L388.8 563.2L386.8 561.2L386.2 558.8L389.8 555.2L385.8 553.2L383.8 551.2L381.2 546.8L381.2 541.2L382.2 538.8L375.8 537.8ZM31.2 537.8L37.8 541.2L40.2 540.8L41.8 539.2L41.8 537.8L39.2 536.2L33.8 536.2ZM284.2 532.8L282.8 538.2L280.8 542.2L276.8 548.2L272.8 552.8L275.8 554.2L276.8 556.2L276.2 562.2L280.8 565.8L281.2 565.2L286.2 565.2L293.8 567.8L296.8 570.8L305.8 565.8L316.2 558.2L317.2 550.8L320.2 544.8L313.8 543.2L308.8 540.8L305.2 538.2L298.2 531.2L296.8 528.8ZM5.2 518.2L5.2 528.8L6.8 527.8L8.2 527.8L11.2 531.2L18.8 531.2L22.8 530.8L25.2 527.8L25.8 526.2L25.2 523.2L23.2 520.8L20.2 518.8L17.8 517.8ZM423.8 511.2L418.2 510.8L411.2 511.8L409.2 512.8L409.2 515.8L410.2 517.8L411.8 517.8L414.2 519.8L417.8 518.8L423.8 518.8ZM306.8 511.8L318.8 515.8L326.2 519.8L328.8 518.2L332.8 518.8L341.2 513.2L345.2 509.2L347.8 504.2L347.8 500.8L346.2 497.2L309.2 497.2L310.2 499.8L310.2 504.2Z"/>
<path fill="#a80055" stroke="#a80055" stroke-width="0.7" fill-rule="evenodd" d="M401.8 892.8L403.8 895.2L405.2 898.8L405.8 901.8L405.2 905.8L423.8 905.8L423.8 890.8L413.2 890.8L405.8 889.2ZM32.2 869.2L34.2 870.8L36.2 869.8L34.8 868.8ZM5.2 866.2L5.2 868.8L7.8 867.8ZM183.2 826.8L182.8 831.2L184.2 835.2L190.2 835.2L195.8 833.8L195.8 827.2L193.2 824.8L191.2 823.8L187.8 823.8L185.2 824.8ZM5.2 802.8L5.2 804.8L6.2 803.8ZM239.2 790.8L236.2 787.8L231.8 787.2L208.8 787.8L206.2 792.2L206.2 797.2L207.8 800.2L212.2 804.8L215.8 806.8L220.2 805.2L223.8 805.2L228.2 806.8ZM5.2 811.2L5.2 845.8L5.8 844.2L12.2 837.2L14.2 836.2L20.8 835.8L24.2 837.2L28.2 841.8L29.2 844.8L28.8 850.8L35.8 852.2L40.2 854.8L42.8 857.2L43.8 859.2L43.2 863.2L44.8 864.8L44.2 868.2L47.2 868.2L46.8 866.8L47.2 861.2L48.2 859.2L51.8 855.8L54.8 854.8L57.8 854.8L61.2 856.2L64.2 859.2L65.2 861.2L65.8 865.8L64.2 869.8L62.2 872.2L60.2 873.2L60.2 874.2L63.8 871.2L70.8 870.8L72.8 871.8L75.8 874.8L76.2 877.8L75.8 879.2L71.8 882.8L65.2 883.2L60.8 880.8L57.2 884.8L54.2 886.2L51.2 886.8L55.8 889.2L57.8 891.2L66.2 890.8L70.8 892.2L76.2 896.8L77.2 899.2L80.8 899.2L84.2 900.8L88.2 899.8L92.2 899.8L95.2 900.8L96.8 902.8L94.2 905.2L87.8 905.8L84.8 904.8L83.2 905.8L81.8 905.8L136.8 905.8L122.2 904.8L110.2 902.8L106.2 900.8L106.2 899.8L108.8 898.2L115.8 896.8L132.8 894.8L174.2 892.2L174.8 889.2L176.2 886.2L173.2 885.8L169.8 883.8L162.2 875.8L159.8 871.8L159.2 869.2L159.8 859.8L161.8 852.2L165.8 845.2L170.2 841.8L168.2 841.2L164.8 838.2L162.2 832.8L162.8 827.2L165.2 822.8L160.8 816.8L156.8 806.8L155.8 800.8L155.8 794.8L157.8 785.2L157.2 785.2L157.2 787.8L154.8 790.2L153.2 790.8L149.2 789.8L147.8 788.2L147.2 786.2L142.2 786.2L139.2 784.8L134.8 786.8L128.2 786.8L124.2 784.8L121.2 781.8L116.2 783.8L108.8 785.2L98.8 785.2L85.2 781.2L78.2 777.8L75.8 775.8L67.8 779.8L61.2 780.2L55.8 785.2L48.8 788.2L46.2 788.8L36.8 788.2L31.8 796.8L25.8 802.8L20.2 805.8L12.8 806.2L13.2 807.8L12.8 810.2L11.2 812.2L9.2 813.2L7.8 813.2ZM51.2 835.2L53.8 835.2L55.2 836.8L56.8 840.8L56.2 846.8L53.8 850.2L51.2 850.2L49.8 848.8L48.2 845.2L48.8 838.8ZM62.8 831.8L66.8 833.8L69.2 839.2L69.2 847.8L67.2 852.2L64.2 854.8L61.2 854.2L58.8 851.8L56.8 845.8L56.8 841.2L58.2 835.8L60.8 832.8ZM6.8 823.2L7.8 823.2L9.8 825.8L9.2 829.8L12.2 830.2L13.8 832.2L13.8 835.2L11.8 837.8L8.8 837.8L6.2 834.8L6.8 831.2L5.2 829.2L5.2 825.8ZM397.2 780.8L400.8 784.8L406.8 789.2L411.2 787.2L417.2 788.2L420.2 785.8L423.8 786.2L423.8 777.8L423.2 778.2L417.8 778.2L414.2 776.8L412.8 775.2L407.2 775.2L404.2 778.2L400.2 780.2ZM146.8 715.2L144.8 714.2L141.2 710.8L140.8 706.2L131.8 705.8L126.2 707.2L120.8 710.8L119.8 713.8L119.2 719.2L125.2 722.8L131.2 722.8L138.8 720.8L144.2 717.8ZM198.8 687.8L198.2 689.2L198.8 697.8L200.2 701.2L203.8 704.8L206.2 705.8L208.8 705.8L211.2 704.8L212.8 703.2L213.8 707.2L216.8 711.8L222.8 711.2L228.2 706.8L230.2 701.2L226.2 697.8L223.2 696.8L218.8 696.8L214.8 698.8L211.2 692.2L208.2 689.2L204.2 687.2ZM120.8 686.8L120.2 689.2L121.8 690.8L123.8 691.2L126.2 690.2L126.8 687.8L125.8 686.2L122.8 685.8ZM34.8 674.2L34.2 675.8L34.8 677.8L35.8 679.2L37.8 680.2L41.8 680.2L44.8 677.2L44.8 675.2L43.2 673.2L37.2 673.2ZM173.2 663.8L170.8 669.8L165.8 676.2L168.2 676.8L175.2 683.2L179.2 683.2L185.2 681.2L188.2 678.8L187.2 674.2L184.8 669.8L179.8 665.2L175.8 663.8ZM302.8 665.2L306.8 666.8L312.8 666.8L317.2 664.8L308.8 661.8L307.2 663.2L305.8 663.2L304.8 662.2ZM247.2 662.8L251.8 672.2L254.8 676.8L258.2 677.2L263.2 680.8L272.8 678.8L286.8 674.2L288.2 669.8L290.8 666.8L288.8 662.8L284.2 663.2L277.8 661.2L274.2 657.8L273.8 656.2L274.2 652.2L273.8 651.8L264.2 651.8L255.8 652.8L254.2 657.8L250.8 661.2ZM26.8 644.8L11.8 640.2L9.8 642.8L7.8 643.8L5.2 642.2L5.2 671.8L5.8 672.2L7.2 672.2L7.8 670.8L9.8 669.2L13.2 670.2L18.8 667.8L26.2 666.8L26.8 661.2L30.2 650.8L27.2 648.8ZM197.8 611.2L198.2 611.8L197.8 616.8L194.2 621.2L197.2 627.8L197.2 633.2L195.8 636.8L199.2 636.2L202.8 637.2L206.2 640.8L207.2 640.8L213.8 637.2L218.2 638.8L228.2 638.8L236.8 636.2L235.2 632.2L235.2 627.8L237.2 622.8L231.8 614.8L223.2 612.2L216.2 612.2L214.2 613.2L209.8 613.8L204.8 612.2L200.8 609.2ZM77.2 568.8L78.2 570.2L78.2 572.2L76.2 575.2L77.8 578.2L77.2 580.2L80.8 583.2L83.8 584.8L88.2 585.2L91.8 583.2L95.2 579.2L96.8 575.2L96.8 571.2L92.8 567.8L85.8 567.8ZM178.2 561.8L181.2 562.2L183.8 563.8L186.8 567.8L187.2 571.2L184.8 575.8L196.8 581.8L206.8 589.8L211.2 590.2L213.8 592.2L223.2 588.2L233.2 585.2L249.8 582.8L249.2 580.8L250.8 575.8L254.8 571.8L256.2 571.2L256.2 570.8L243.2 567.2L231.8 561.8L226.2 557.8L222.2 553.8L220.2 550.2L220.2 552.2L217.2 555.2L213.8 556.8L208.8 557.8L198.8 557.8L195.8 557.2L189.8 554.8L187.2 552.2L187.8 549.2L185.8 549.2ZM217.8 547.2L219.2 548.2L218.8 547.2ZM6.8 541.2L5.2 543.2L5.2 550.8L5.8 552.2L8.8 552.2L10.2 544.8L9.2 542.8L7.8 541.2ZM383.2 538.2L381.8 541.2L381.8 546.8L385.8 552.8L391.8 555.8L393.8 556.2L403.2 544.2L400.2 538.8L391.8 536.2L388.8 536.2ZM161.8 520.8L161.2 524.8L162.2 527.2L164.2 529.2L167.2 530.8L170.8 531.2L173.8 530.8L177.2 528.8L177.2 527.8L173.2 523.2L171.8 518.2L164.2 518.2ZM71.8 508.2L72.8 510.8L77.2 514.8L84.2 517.8L92.8 518.8L95.2 523.8L100.8 529.8L117.2 525.8L115.2 521.8L115.2 518.8L116.2 515.8L119.2 512.8L121.8 512.2L119.8 510.8L119.2 507.2L115.8 506.8L114.2 505.8L98.2 507.8L88.8 505.2L81.2 502.2L77.8 502.8ZM351.8 497.2L346.8 497.2L348.2 500.8L348.2 504.2L346.8 507.8L341.2 513.8L332.8 519.2L334.8 527.8L334.2 537.2L338.2 538.2L341.2 540.8L341.2 542.8L339.8 544.2L340.8 545.2L356.8 542.2L363.8 539.8L370.8 536.2L368.2 529.2L368.2 523.2L370.2 517.8L361.8 515.8L354.2 510.8L352.2 508.2L350.8 504.8L350.8 500.2ZM77.8 497.2L79.2 497.8L81.8 497.2Z"/>
<path fill="#00ffff" stroke="#00ffff" stroke-width="0.7" fill-rule="evenodd" d="M297.2 873.2L292.2 873.8L289.8 872.2L287.2 869.2L270.2 876.2L270.8 879.2L268.8 882.2L275.2 891.2L278.2 897.2L292.8 895.8L298.2 896.2L301.2 892.8L300.8 882.8ZM333.8 847.2L332.8 850.2L332.8 854.8L334.2 858.2L340.8 860.8L345.2 860.2L348.2 858.8L348.8 850.2L347.2 847.8L343.8 845.8L338.8 844.8ZM196.8 835.2L194.2 834.8L190.2 835.8L184.2 835.8L181.2 839.8L182.8 842.2L181.2 844.8L185.2 850.2L192.8 850.2L197.8 848.2L200.8 843.2L199.2 841.8L199.8 838.2ZM179.8 781.8L179.8 784.2L181.2 787.8L184.8 790.8L189.8 792.8L197.8 792.8L200.8 791.8L204.8 789.2L206.8 786.8L203.8 781.8L194.8 778.2L191.8 777.8L181.2 778.2ZM388.2 768.2L385.2 768.8L383.2 771.2L384.2 778.8L385.2 779.2L388.2 778.8L391.2 772.2L390.8 770.2ZM285.2 763.8L282.2 769.8L280.2 777.8L280.2 785.8L280.8 788.8L281.8 790.2L285.2 790.8L294.2 794.2L295.8 794.2L302.8 789.2L310.8 785.2L308.8 767.8L301.8 765.2L290.2 763.2ZM300.8 742.8L299.8 744.8L300.8 745.8L302.8 745.8L303.8 743.8L302.8 742.8ZM89.8 735.8L88.8 738.8L88.8 742.2L91.8 748.2L100.8 748.2L104.8 747.2L109.8 744.8L109.2 741.8L109.8 735.2L100.8 732.2L93.2 731.8ZM347.8 685.2L347.8 686.2L350.2 687.8L354.8 687.8L357.2 686.2L356.8 684.2L353.8 683.2L350.2 683.2ZM240.2 655.8L239.8 656.8L240.2 659.2L242.2 659.2L243.8 658.2L243.2 656.2ZM292.2 654.2L289.2 661.2L289.2 663.8L290.8 666.2L296.2 667.2L300.2 667.2L301.8 666.2L304.8 661.2L305.2 658.8L299.8 654.8L294.8 653.8ZM321.2 655.2L322.8 659.8L324.2 660.8L327.2 661.2L331.8 660.8L334.2 658.2L333.8 653.8L330.2 652.2L325.2 652.8ZM249.2 621.2L249.8 622.8L252.2 622.2L251.8 620.8ZM273.2 592.8L272.2 593.8L272.2 596.2L273.2 597.2L274.8 597.2L276.2 595.8L276.2 594.2ZM139.8 559.8L138.2 562.8L139.8 564.8L141.8 564.8L143.2 563.2L143.8 561.8L143.2 560.2ZM340.8 547.8L334.8 550.2L332.8 557.2L332.2 562.2L333.2 564.2L336.2 566.8L340.8 566.2L343.2 562.8L343.8 558.8L343.2 553.8ZM33.8 532.8L33.8 534.2L34.8 535.2L37.2 535.2L38.2 534.2L37.2 532.2ZM142.8 528.8L139.2 530.2L137.2 532.2L138.2 534.2L141.8 537.8L145.2 539.8L149.2 536.8L150.8 531.2L149.8 529.8L147.2 528.8Z"/>
<path fill="#0000ff" stroke="#0000ff" stroke-width="0.7" fill-rule="evenodd" d="M73.8 902.2L73.8 904.2L76.2 905.8L81.2 905.8L84.8 904.2L84.8 901.2L80.8 899.8L77.2 899.8ZM43.2 859.2L42.2 857.2L38.8 854.2L34.2 852.2L28.2 851.2L22.8 853.8L17.2 854.2L12.2 864.2L9.8 866.8L8.2 865.8L5.2 860.2L5.2 865.8L7.8 867.2L19.2 867.2L31.8 869.2L34.2 868.2L34.2 866.2L36.2 863.8L38.2 862.8L42.8 862.8ZM198.2 836.2L200.2 838.2L204.8 837.2L204.8 835.8L203.8 834.8L199.8 834.8ZM228.8 806.8L229.8 808.8L233.2 809.8L248.8 810.2L260.8 807.2L260.8 805.2L259.2 801.2L254.2 796.2L248.2 793.2L239.8 791.2ZM144.2 768.2L142.2 765.2L137.8 762.8L134.2 762.8L130.2 763.8L123.2 766.8L123.2 769.8L125.8 773.8L132.2 774.2L136.2 775.8L137.8 775.8L141.8 773.8L144.2 770.2ZM230.8 758.2L225.2 759.8L216.8 763.8L211.8 767.2L208.2 770.8L205.2 775.8L204.2 779.2L204.2 781.8L207.8 786.8L208.8 787.2L228.8 787.2L229.2 786.8L235.8 787.2L238.2 780.8L238.8 777.2L238.2 771.8L235.2 764.2ZM422.2 738.2L421.2 739.8L420.2 744.8L420.2 752.2L420.8 755.2L421.8 757.2L422.8 757.8L423.8 757.2L423.8 739.2ZM5.2 711.8L5.2 722.2L12.2 721.8L16.8 723.8L20.8 727.2L23.8 725.8L26.8 722.8L28.2 719.2L27.8 714.8L25.8 712.2L18.2 709.8L11.2 709.8L6.8 710.8ZM261.8 703.8L253.8 709.8L253.8 713.8L255.8 718.2L260.8 722.8L263.8 723.2L268.8 719.2L272.2 712.2L269.2 710.2L269.8 708.2L265.2 704.8ZM378.2 698.2L373.8 699.2L370.2 697.8L367.2 694.2L365.8 689.2L364.2 690.2L361.8 690.2L358.8 688.8L357.2 686.8L354.8 688.2L350.2 688.2L347.2 687.2L339.2 692.2L330.8 696.2L327.2 703.2L329.2 710.8L329.2 715.8L325.8 725.8L330.2 725.2L333.2 726.8L335.2 729.2L335.2 732.2L333.8 734.2L332.2 734.8L328.2 734.8L326.2 733.8L316.2 740.2L317.2 742.8L319.8 745.2L324.2 747.8L329.8 749.2L333.2 749.2L337.8 746.2L335.2 742.2L334.8 739.8L335.2 735.8L336.2 734.8L341.8 734.8L343.8 735.8L347.2 739.8L358.2 734.8L369.2 727.8L377.8 720.8L376.8 715.8L376.8 704.2ZM5.2 679.8L5.8 681.2L8.2 682.2L13.2 682.2L16.2 680.8L15.8 679.2L13.2 678.2L11.2 678.8L7.2 678.2ZM305.8 659.2L304.8 661.8L305.8 662.8L307.2 662.8L308.2 660.8L307.8 659.8ZM94.2 659.8L97.8 664.8L99.2 669.8L99.2 672.2L103.8 673.2L110.2 673.2L117.2 671.2L120.2 669.2L120.2 666.2L116.8 662.8L116.2 661.2L116.8 658.8L113.2 655.8L109.8 654.2L103.2 653.2L98.8 655.8ZM355.8 633.8L353.8 634.2L351.2 636.8L351.2 638.8L352.8 640.8L354.8 641.2L357.8 640.2L358.2 636.8ZM294.8 576.2L291.8 576.2L287.2 578.8L286.8 586.8L289.8 588.8L292.2 588.8L295.8 586.8L296.2 579.2ZM392.2 566.2L391.2 568.2L391.2 572.8L393.8 576.2L401.2 576.8L406.2 574.2L407.2 570.8L406.8 566.2L397.8 562.8L395.2 563.2ZM420.8 541.8L416.2 544.2L413.2 547.2L416.2 557.8L419.2 559.2L423.8 559.2L423.8 541.8ZM99.2 532.2L96.2 532.2L94.2 533.2L91.8 537.2L91.8 540.8L94.2 544.8L98.2 544.2L100.8 540.2L100.8 535.2ZM160.8 521.2L159.2 521.8L150.8 530.2L151.2 532.8L149.8 536.8L147.2 539.2L145.8 539.8L146.2 549.8L144.8 558.2L151.2 558.8L160.2 560.8L170.2 565.8L178.2 560.8L185.2 549.2L179.2 539.2L177.2 532.8L177.2 529.2L173.8 531.2L170.8 531.8L167.2 531.2L164.2 529.8L161.8 527.2L160.8 524.8L161.2 521.8ZM28.2 504.8L26.8 508.8L23.8 512.8L19.2 516.2L16.8 517.2L20.2 518.2L23.2 520.2L25.8 523.2L26.2 524.8L25.8 527.8L22.2 531.2L25.8 532.8L29.8 536.8L30.2 538.2L33.8 535.8L39.2 535.8L42.2 537.8L42.2 539.2L40.8 540.8L51.2 539.2L56.8 522.2L51.8 516.2L50.8 512.8L51.2 508.8L47.2 507.8L42.8 505.2L31.8 505.8ZM33.2 532.8L34.8 531.8L37.2 531.8L38.8 533.2L38.8 534.2L37.2 535.8L34.8 535.8L33.2 534.2ZM28.8 530.2L30.2 530.2L31.8 532.2L31.8 533.8L30.2 535.8L28.8 535.8L27.2 533.8L27.2 532.2ZM352.2 497.2L351.2 500.2L351.2 504.8L352.8 508.2L354.8 510.8L361.8 515.2L370.8 517.8L368.8 523.2L368.8 529.2L371.2 535.8L381.2 538.2L382.8 538.2L388.8 535.8L391.8 535.8L400.2 538.2L414.8 529.8L413.2 527.2L412.2 522.8L410.8 522.8L409.2 521.8L395.8 522.2L388.2 518.8L384.8 514.2L377.8 513.2L375.2 506.8L375.8 497.2ZM117.8 497.2L120.8 498.2L123.2 500.2L124.2 502.2L123.2 505.2L128.2 506.8L130.8 509.8L148.2 509.8L148.8 510.2L154.2 507.2L159.2 502.8L158.8 499.8L160.8 497.2Z"/>
<path fill="#00ff00" stroke="#00ff00" stroke-width="0.7" fill-rule="evenodd" d="M59.8 873.8L53.8 871.8L47.8 868.8L43.2 868.8L41.8 869.8L36.2 870.2L34.2 871.2L34.2 875.8L32.8 883.2L21.2 885.2L13.8 885.2L13.2 885.8L5.8 885.2L5.2 885.8L5.2 905.8L52.8 905.8L51.2 902.2L51.8 898.2L53.2 895.2L57.2 891.2L50.8 886.8L57.2 884.2L60.2 881.2L60.8 879.2ZM289.8 864.8L287.8 868.2L289.2 871.2L292.2 873.2L296.8 873.2L298.8 870.8L297.8 866.2L294.8 863.8L291.2 863.8ZM377.2 778.8L376.2 779.2L369.2 778.8L363.2 776.8L354.2 781.2L346.8 783.8L336.2 785.2L339.2 788.2L340.2 790.8L340.2 792.8L338.8 795.8L340.2 799.2L340.2 804.8L359.2 808.8L364.8 808.8L365.2 809.2L372.2 808.8L384.8 796.8L382.2 791.2L380.2 791.2L377.8 789.8L375.8 786.8L375.8 783.8L376.2 782.2L378.2 780.2ZM82.2 752.8L78.2 752.2L75.2 753.2L72.2 755.8L70.2 760.2L70.2 765.2L72.2 768.8L74.8 770.2L77.8 770.2L82.8 767.8L86.8 763.8L87.2 761.2L85.2 754.8ZM262.2 703.2L260.2 696.2L255.2 694.8L250.2 690.2L240.2 693.8L236.8 696.2L233.2 700.2L233.8 701.8L239.8 706.8L244.8 708.8L249.8 709.8L253.2 709.8L257.2 706.2ZM377.8 674.8L375.8 680.2L378.2 687.2L378.8 697.8L384.2 697.2L391.2 695.2L393.8 688.8L394.2 685.2L393.8 680.2L390.2 676.8L385.2 674.2ZM358.8 670.2L355.2 671.8L351.8 675.8L350.8 677.8L350.8 680.8L352.2 682.8L357.2 683.8L361.8 680.2L361.2 676.2ZM196.8 627.8L193.8 621.8L180.8 622.2L178.2 624.2L176.2 627.8L176.2 632.2L184.2 635.8L190.2 636.8L195.2 636.8L196.8 633.2ZM267.2 611.2L279.2 613.2L281.2 612.2L283.2 609.8L281.2 607.2L273.2 604.8ZM326.8 608.8L325.8 610.8L331.2 611.8L338.2 615.8L342.8 620.8L344.8 625.8L351.8 625.2L355.2 629.2L355.8 633.2L358.2 636.2L360.2 635.8L362.8 637.8L362.8 640.2L361.2 641.2L362.8 641.2L365.8 639.8L370.8 639.8L375.8 642.2L385.2 633.8L382.2 629.2L380.8 622.8L381.2 618.2L382.8 614.8L376.8 610.8L369.8 611.2L364.2 609.2L360.2 605.8L358.2 602.2L359.2 600.2L357.2 597.8L354.2 596.8L346.8 597.2L343.8 600.8L341.8 601.2L340.8 603.2L337.2 605.8ZM260.8 588.2L257.2 587.8L253.8 586.2L249.8 583.2L233.2 585.8L226.2 587.8L214.8 592.8L209.8 590.2L206.8 590.2L204.2 593.2L202.8 596.8L201.2 603.2L201.2 609.2L204.8 611.8L209.8 613.2L214.2 612.8L216.2 611.8L223.2 611.8L227.8 612.8L232.2 614.8L236.2 611.2L242.8 608.8L248.8 608.2L254.2 609.2L257.8 610.8L257.2 606.8L258.2 605.2L260.8 603.2L263.8 602.2L261.8 600.2L259.8 595.2L259.8 590.8ZM70.2 576.8L69.8 576.8L61.2 597.8L50.8 629.8L55.8 634.2L56.8 636.2L56.8 638.8L55.2 641.2L62.8 637.8L70.8 635.2L86.2 631.8L95.2 630.8L96.2 630.2L99.8 621.2L93.2 607.2L90.2 597.8L87.8 585.8L83.8 585.2L79.2 582.8L77.2 580.8L74.8 582.8L72.8 582.2L71.2 580.8ZM30.8 561.8L28.2 561.8L24.8 560.2L22.2 557.8L21.8 556.2L17.8 556.8L11.2 555.8L10.2 559.8L8.2 561.2L6.2 560.8L5.2 559.2L5.2 593.2L7.2 592.2L13.2 592.2L15.2 593.2L17.2 593.2L21.2 590.8L23.8 588.2L26.2 584.8L30.2 575.2L30.8 572.2L29.8 570.2L29.8 564.8ZM340.8 540.8L338.2 538.8L333.2 537.8L330.8 538.8L326.8 538.8L324.8 540.2L324.2 542.2L327.2 543.8L339.2 544.2L340.8 542.8ZM8.2 528.2L6.8 528.2L5.2 529.2L5.2 539.2L7.2 540.8L8.8 539.8L10.8 534.8L10.8 530.8ZM131.2 532.2L123.2 525.8L122.8 526.2L116.8 526.2L106.2 529.2L101.2 529.8L99.8 531.8L101.2 535.2L101.2 540.2L98.8 544.8L108.8 548.2L121.2 554.2L126.2 553.2L127.2 551.2L128.8 541.2ZM81.2 498.2L83.2 500.2L81.8 501.8L82.8 502.8L98.2 507.2L101.8 507.2L113.2 505.2L112.8 504.2L113.2 501.2L116.2 498.2L117.8 497.8L117.2 497.2L82.2 497.2Z"/>
<path fill="#ff00ff" stroke="#ff00ff" stroke-width="0.7" fill-rule="evenodd" d="M52.2 898.2L51.8 902.2L53.2 905.8L73.8 905.8L74.2 905.2L73.2 904.2L73.2 902.2L75.2 900.2L76.8 899.8L75.8 896.8L73.2 894.2L66.2 891.2L57.2 891.8L53.8 895.2ZM389.8 870.8L386.2 881.2L387.8 884.8L393.2 893.2L401.8 892.2L405.8 888.8L405.8 876.2L406.2 875.2L403.8 872.8L398.8 870.2L392.8 869.8ZM220.2 870.8L223.8 874.2L224.8 879.2L234.8 880.8L250.2 881.2L253.8 880.2L255.8 876.2L258.8 874.2L252.2 865.8L241.2 863.8L234.8 863.8L223.2 865.8ZM374.2 852.8L372.8 858.2L374.8 860.2L380.8 862.2L384.8 861.8L386.2 856.8L385.2 853.8L382.2 850.8L377.8 850.8ZM202.8 821.8L199.2 823.2L196.8 825.8L195.8 834.2L197.8 835.8L199.8 834.2L203.8 834.2L205.2 835.8L205.2 836.8L208.2 832.2L209.8 828.2L210.2 824.2L207.2 822.2ZM412.8 799.8L412.2 804.2L414.2 806.8L416.8 808.2L417.8 810.8L420.2 812.2L423.8 811.8L423.8 799.2L421.8 799.8L416.2 798.2ZM423.8 757.8L422.8 758.2L420.2 755.8L411.2 755.2L402.2 757.2L395.8 761.2L393.8 763.8L392.2 767.2L392.8 771.2L400.2 771.8L404.8 773.2L406.8 774.8L412.2 774.8L413.8 771.8L417.2 769.2L418.8 768.8L423.8 769.2ZM336.2 735.2L335.2 739.8L336.8 744.2L337.8 745.8L343.2 745.8L346.2 742.2L345.8 738.2L341.8 735.2ZM291.2 710.8L293.8 715.2L297.8 720.2L305.2 726.8L311.8 724.8L316.2 724.2L325.2 725.2L327.2 721.2L328.8 715.8L328.8 710.8L326.8 703.8L325.2 704.2L318.2 703.8L312.8 700.8L309.8 701.8L304.8 701.8L301.2 700.8ZM64.2 687.8L62.2 687.8L60.2 693.2L57.2 697.2L49.2 703.8L38.2 709.2L27.2 712.2L26.8 712.8L28.8 716.2L28.2 720.8L27.2 722.8L23.8 726.2L20.2 727.8L19.8 730.2L16.8 733.8L18.8 735.2L20.2 738.2L20.2 741.2L19.2 743.2L22.8 745.8L31.2 755.2L38.2 768.8L42.2 767.8L49.2 767.8L52.8 768.8L58.8 767.2L70.8 767.8L69.8 765.2L69.8 760.2L70.8 757.2L73.8 753.8L76.2 752.2L80.2 751.8L85.2 754.2L91.2 748.2L88.8 744.2L88.2 738.8L89.2 735.8L92.8 731.8L90.8 728.2L90.8 724.8L91.8 723.2L88.2 723.2L83.8 719.8L82.2 717.2L80.8 710.8L81.8 705.2L72.2 696.2L69.2 691.8L68.8 689.8ZM372.2 666.2L364.8 666.8L360.8 668.8L359.2 670.2L361.8 676.2L362.2 680.2L363.8 680.2L367.2 682.8L375.2 679.2L377.8 674.2L375.8 669.8ZM118.2 658.2L116.8 661.2L117.8 663.8L119.8 665.8L121.8 666.2L124.2 665.2L125.8 663.8L126.2 662.2L125.8 660.2L123.8 658.2L122.2 657.8ZM144.2 650.8L139.2 654.8L137.8 657.2L137.8 658.8L144.2 669.8L152.2 669.8L152.8 667.2L156.8 658.8L150.8 655.2L148.2 652.8L147.8 650.8ZM6.8 623.2L5.2 624.2L5.2 641.8L7.8 643.2L9.8 642.2L11.2 639.8L11.2 629.8L10.2 624.8L8.2 623.2ZM316.8 619.2L315.8 618.8L309.2 619.2L304.2 621.2L301.2 624.2L302.8 633.8L303.8 634.8L307.8 635.8L314.2 635.8L318.8 634.2L322.2 627.2ZM232.8 614.8L234.2 618.2L237.8 622.8L241.2 622.2L249.2 622.8L248.8 621.2L249.8 620.2L251.8 620.2L252.8 621.2L252.2 622.8L253.2 624.2L255.8 634.2L257.8 635.2L259.8 634.8L260.8 629.2L263.8 624.2L259.8 620.2L256.8 618.8L256.8 616.2L258.2 612.2L257.8 611.2L252.2 609.2L246.2 608.8L238.2 610.8ZM421.8 607.8L420.2 609.2L420.2 612.8L423.2 614.2L423.8 613.8L423.8 607.8ZM160.2 579.2L152.8 577.2L146.8 574.2L139.8 567.2L129.8 570.2L121.2 570.2L120.8 571.8L121.2 585.2L123.8 593.2L127.8 600.8L127.8 603.2L128.8 605.2L130.2 606.2L134.2 605.8L137.8 602.2L143.2 600.2L154.8 594.2L155.8 593.2L154.8 591.8L154.8 587.8L155.8 585.8L159.2 583.2ZM55.2 563.2L57.8 566.2L63.8 569.2L70.8 567.8L76.8 568.2L76.2 557.2L74.2 552.2L72.2 551.2L67.8 550.8L64.8 552.2L62.2 551.8L57.8 557.2ZM403.2 544.8L394.2 556.8L396.8 562.2L407.2 565.8L410.8 563.2L415.8 558.2L412.8 547.2ZM414.2 520.2L412.8 522.2L412.8 524.2L414.8 529.2L418.8 531.2L423.8 531.2L423.8 519.2L417.8 519.2ZM385.8 514.8L386.2 516.2L388.2 518.2L395.8 521.8L408.8 521.2L408.8 519.8L410.2 518.2L408.8 515.8L408.8 512.8L394.8 512.8ZM72.8 499.8L73.8 501.8L77.2 502.8L80.2 502.2L82.2 501.2L82.8 500.2L81.8 498.8L78.8 497.8L74.8 498.2Z"/>
<path fill="#d05515" stroke="#d05515" stroke-width="0.7" fill-rule="evenodd" d="M249.2 881.8L234.8 881.2L224.2 879.8L222.2 881.8L218.2 883.2L214.8 882.8L212.8 880.8L191.2 883.2L179.8 883.8L176.2 886.8L174.2 892.8L152.2 893.8L151.8 894.2L145.2 894.2L144.8 894.8L123.2 896.2L108.8 898.8L106.8 899.8L106.8 900.8L110.2 902.2L118.2 903.8L137.2 905.8L244.8 905.8L244.2 893.8L246.8 885.8ZM213.8 820.8L213.8 822.8L215.8 823.2ZM221.8 824.2L245.2 826.8L266.2 827.2L270.8 833.2L273.2 830.8L276.2 829.2L278.8 828.8L284.2 829.2L287.2 830.8L289.8 833.8L289.8 836.8L287.8 839.2L293.2 839.2L293.8 839.8L323.8 839.8L327.2 836.2L330.2 834.8L333.2 834.2L335.8 831.8L333.2 830.2L333.2 828.2L292.8 813.8L291.2 815.2L283.8 817.2L277.2 816.8L273.2 813.2L272.8 810.2L268.2 808.2L259.8 807.8L256.2 809.2L248.8 810.8L236.2 810.8L230.2 809.2L226.2 819.8ZM293.2 831.2L294.2 831.2L295.2 832.8L295.2 834.8L294.2 836.2L292.2 835.2L292.2 832.2ZM326.8 795.2L325.8 798.2L326.2 805.2L330.2 806.8L334.8 806.8L339.8 804.2L339.8 799.2L337.8 795.8L332.8 795.8L329.2 794.8ZM153.2 778.8L152.2 780.2L152.8 782.8L156.2 784.2L158.8 782.8L159.2 780.8L157.2 778.2ZM283.2 751.8L286.8 753.2L290.8 753.2L293.8 752.2L294.8 750.8L291.8 749.2L286.8 749.2L284.2 750.2ZM325.2 726.8L324.8 730.2L325.2 732.2L326.8 733.8L332.2 734.2L334.2 733.2L334.8 729.2L333.2 727.2L330.2 725.8L326.8 725.8ZM61.8 687.8L53.2 684.2L48.2 680.8L45.2 676.8L44.8 678.2L42.8 680.2L37.8 680.8L34.8 678.8L33.8 676.2L34.2 674.2L33.2 673.8L28.8 678.8L24.2 680.8L17.2 680.8L16.8 680.2L15.8 681.8L13.2 682.8L8.2 682.8L5.2 681.2L5.2 711.2L6.8 710.2L11.2 709.2L18.2 709.2L26.8 712.2L38.2 708.8L46.8 704.8L55.2 698.8L59.8 693.2ZM5.2 672.2L5.2 679.2L7.8 677.8L6.8 672.8ZM140.8 672.8L140.8 674.8L144.2 676.2L154.8 676.2L157.2 675.8L158.2 674.8L156.2 671.8L152.8 670.2L144.2 670.2ZM68.8 655.2L67.8 662.8L66.2 666.8L67.2 668.8L75.2 672.8L81.2 674.2L88.2 673.8L87.8 667.2L88.8 663.8L91.2 660.8L89.8 658.8L86.2 656.2L79.8 653.8L73.2 653.8ZM170.8 658.8L173.8 663.2L175.8 663.2L179.8 664.8L185.2 669.8L187.8 674.2L188.2 678.2L192.2 678.2L195.2 680.2L196.2 682.2L195.8 685.2L198.2 687.2L204.2 686.8L208.2 688.8L211.8 692.2L214.8 698.2L218.8 696.2L223.2 696.2L226.2 697.2L230.2 700.8L232.8 700.2L236.8 695.8L240.2 693.2L247.8 690.2L249.8 690.2L248.8 688.2L249.2 682.2L250.2 681.2L251.8 681.8L252.8 679.2L254.8 677.2L251.2 672.2L247.2 663.2L242.2 661.2L240.8 659.8L235.2 661.2L228.2 661.2L224.2 660.2L219.8 663.8L213.2 663.2L210.8 660.8L209.8 658.2L210.2 650.8L204.2 647.8L201.2 645.2L196.2 644.8L186.8 651.2ZM271.8 602.8L273.8 603.8L278.8 603.8L280.8 602.2L280.8 600.8L278.8 599.2L273.8 599.2L272.8 599.8ZM423.8 592.2L418.2 592.8L415.8 591.2L410.8 585.2L406.8 577.2L406.2 574.8L401.2 577.2L393.2 576.8L385.8 585.2L379.8 595.8L377.2 603.8L376.8 610.2L383.2 614.8L383.8 614.2L391.2 614.8L395.2 616.2L399.2 619.2L410.2 613.8L414.8 612.8L419.8 612.8L419.8 609.2L421.8 607.2L423.8 607.2ZM257.8 570.8L254.8 572.2L251.2 575.8L249.8 580.8L250.2 583.2L254.8 586.2L261.2 587.8L263.8 586.8L265.8 583.8L266.2 577.2L264.8 573.2L262.8 570.8ZM5.2 539.8L5.2 542.8L6.8 540.8ZM11.2 531.8L10.8 536.8L9.2 539.8L7.8 540.8L9.8 542.8L10.2 544.2L21.2 544.2L27.8 545.2L28.8 544.2L28.2 540.8L29.8 537.8L25.8 533.2L21.8 531.2ZM253.8 497.8L253.2 512.2L254.8 517.8L255.2 524.8L270.2 527.8L283.2 532.2L284.8 532.2L296.8 527.8L299.2 521.2L301.8 517.2L298.2 514.2L297.8 513.2L298.2 510.2L295.8 508.2L288.8 508.8L285.2 507.8L281.8 504.8L281.2 503.2L281.8 500.8L284.2 498.2L287.8 497.2L254.2 497.2ZM186.8 497.2L188.2 497.8L190.8 500.2L190.8 502.2L187.8 504.8L184.8 505.8L185.2 511.2L183.8 515.8L182.8 516.8L185.2 519.2L195.2 520.8L201.2 520.8L204.2 518.8L208.8 513.8L210.8 508.8L210.8 502.2L209.2 498.2L208.2 497.2Z"/>
<path fill="#ff8800" stroke="#ff8800" stroke-width="0.7" fill-rule="evenodd" d="M85.2 901.2L85.2 904.2L87.8 905.2L92.8 905.2L95.2 904.2L96.2 902.8L95.2 901.2L92.2 900.2L88.2 900.2ZM60.8 874.2L61.2 880.2L65.2 882.8L71.8 882.2L75.2 879.2L75.8 877.8L75.2 874.8L70.8 871.2L65.2 871.2ZM8.8 841.8L5.2 846.2L5.2 859.8L8.8 865.8L9.8 866.2L11.8 864.2L16.8 853.8L12.8 845.8ZM199.8 838.8L199.8 841.8L201.2 843.2L204.2 842.8L205.8 840.8L204.2 838.2ZM423.8 841.8L421.8 842.8L416.2 842.8L413.2 841.2L411.2 839.2L409.8 834.2L396.2 836.2L388.8 844.8L381.8 850.2L386.2 854.8L386.8 858.2L385.2 862.2L387.8 865.8L389.8 870.2L392.8 869.2L398.8 869.8L402.2 871.2L406.2 874.8L408.8 872.8L413.8 870.8L420.8 870.8L423.8 871.8ZM293.2 831.8L292.8 835.2L294.2 835.8L294.8 832.8L294.2 831.8ZM339.2 789.2L336.8 786.2L334.8 785.8L330.2 787.2L326.2 791.2L327.2 794.2L338.2 795.8L339.8 792.8ZM383.2 780.2L378.2 780.8L376.2 783.8L376.2 786.8L377.2 788.8L380.2 790.8L382.2 790.8L384.8 787.2L384.8 782.8ZM281.2 753.8L281.8 756.8L285.2 762.8L294.8 763.2L301.8 764.8L307.8 767.2L309.8 767.2L315.2 764.2L321.2 762.2L330.8 761.8L333.8 758.2L333.8 756.8L332.2 754.2L332.8 749.8L329.8 749.8L324.2 748.2L319.8 745.8L316.8 742.8L315.8 740.8L311.2 740.2L306.8 738.8L303.2 739.8L288.2 748.8L291.8 748.8L294.2 749.8L295.2 751.2L293.8 752.8L290.8 753.8L286.8 753.8L283.2 752.2ZM300.8 742.2L302.8 742.2L304.2 743.8L304.2 744.8L302.8 746.2L300.8 746.2L299.2 744.8ZM5.2 733.8L5.2 744.8L8.8 746.2L13.2 746.2L18.8 743.8L19.8 741.2L19.8 738.2L17.2 734.2L16.2 733.8ZM269.8 708.8L269.8 710.2L272.2 711.8L275.2 711.8L277.8 710.8L277.8 709.2L276.2 708.2L270.2 708.2ZM315.8 689.2L314.8 690.8L312.8 700.2L318.2 703.2L320.8 703.8L326.8 703.2L329.8 698.2L329.8 695.8L328.8 693.8L325.8 690.8L320.8 688.8ZM185.8 681.2L186.2 684.2L189.8 686.2L193.8 685.8L195.8 683.8L194.8 680.2L192.2 678.8L188.8 678.8ZM290.8 667.2L287.8 671.8L287.2 674.8L289.2 678.2L291.8 680.2L294.2 681.2L297.8 681.2L300.8 676.8L301.2 673.8L300.8 670.2L299.2 667.8ZM148.2 650.8L148.8 652.8L150.8 654.8L157.2 658.8L170.2 658.2L172.2 656.2L172.2 654.8L168.2 651.8L163.2 650.2L154.8 649.2ZM28.2 644.2L27.2 645.2L27.8 648.8L30.2 650.2L32.2 649.8L33.8 647.2L33.2 644.2L32.2 643.8ZM351.8 640.2L350.8 638.8L350.8 637.2L346.2 635.2L344.2 632.8L343.8 627.8L344.8 626.2L335.2 627.8L322.8 627.8L319.2 634.2L318.2 635.2L314.2 636.2L307.8 636.2L302.8 634.8L295.2 638.8L285.8 638.8L278.2 637.2L273.2 635.2L268.2 636.2L255.8 635.2L249.2 637.8L241.8 637.8L236.2 636.8L228.2 639.2L218.2 639.2L213.8 637.8L209.8 640.2L206.2 641.2L203.2 644.8L201.8 645.2L204.2 647.2L210.2 650.2L214.8 649.2L219.8 649.2L222.2 650.8L227.2 648.8L233.8 648.8L238.8 650.2L241.2 651.8L240.8 655.2L242.2 655.2L244.2 656.8L244.2 658.2L241.2 659.8L244.2 661.8L247.8 662.2L250.8 660.8L253.8 657.8L255.2 652.8L257.8 651.8L263.8 651.8L264.2 651.2L275.2 651.8L278.2 650.8L285.8 650.8L289.8 651.8L292.2 653.8L294.8 653.2L299.8 654.2L305.2 658.2L309.8 654.8L312.8 653.8L317.2 653.8L320.8 655.2L323.2 653.2L327.8 651.8L333.8 652.8L337.2 648.8L345.8 644.8L351.2 641.2ZM257.2 618.8L259.8 619.8L264.2 624.2L273.2 624.8L279.8 621.2L279.8 615.2L278.8 613.8L267.8 611.8L262.8 611.8L262.2 612.2L258.8 611.8ZM160.8 579.2L159.8 583.2L162.2 584.2L163.8 585.8L164.8 587.8L164.8 590.8L161.8 594.2L159.2 594.8L163.2 599.2L173.2 607.8L178.2 611.2L184.2 609.2L192.2 609.2L197.8 610.8L200.8 608.8L200.8 603.2L202.2 596.8L206.2 589.8L198.2 583.2L191.8 579.2L184.2 575.8L181.8 576.8L175.2 576.8L168.8 574.8L165.2 577.2ZM272.8 563.8L272.8 565.2L273.8 566.2L276.8 566.2L278.2 564.8L276.8 562.8L274.8 562.8ZM9.2 552.8L12.2 555.8L17.2 555.8L17.8 556.2L21.8 555.8L25.8 550.2L28.2 548.2L28.2 546.8L27.2 545.2L10.8 544.8ZM324.2 542.8L320.2 545.2L317.8 550.8L316.8 557.8L320.2 561.8L322.2 562.8L328.8 563.2L331.8 561.8L332.2 557.2L334.2 550.2L328.8 548.8L326.8 546.8L326.8 545.2L327.8 544.2ZM131.8 532.2L129.2 541.2L127.2 553.2L139.8 559.2L143.2 559.2L144.8 557.2L145.8 549.8L145.2 540.2L141.8 538.2L137.8 534.2L136.8 532.2ZM28.8 530.8L27.8 532.2L27.8 533.8L28.8 535.2L30.2 535.2L31.2 533.8L31.2 532.2L30.2 530.8ZM177.8 528.2L177.8 532.8L179.8 539.2L185.2 548.8L189.8 548.8L201.8 545.8L211.2 544.8L211.8 541.8L214.8 537.8L212.8 533.2L210.2 529.8L204.8 524.2L200.2 521.2L191.2 520.8L184.8 519.2L183.8 523.8L180.8 526.8Z"/>
<path fill="#ff0088" stroke="#ff0088" stroke-width="0.7" fill-rule="evenodd" d="M5.2 869.2L5.2 884.2L5.8 884.8L10.2 885.2L21.2 884.8L32.8 882.8L33.8 870.8L32.2 869.8L19.2 867.8L8.2 867.8ZM362.2 867.2L358.8 866.8L353.8 864.2L348.2 859.2L345.2 860.8L340.8 861.2L338.2 860.8L333.2 857.8L318.8 863.8L299.8 869.8L297.8 873.8L299.2 876.2L301.2 882.8L301.8 892.8L317.2 891.2L354.8 891.8L357.8 886.2L364.2 879.8L362.8 873.8ZM175.2 841.8L175.8 843.8L177.8 844.8L180.8 844.8L182.2 842.8L181.2 840.2L177.2 840.2ZM324.2 839.8L325.2 842.2L327.2 844.2L331.8 846.2L334.8 846.2L337.2 845.2L339.2 843.8L339.8 839.8L338.2 837.2L333.8 834.8L330.2 835.2L327.2 836.8ZM9.2 830.2L7.2 831.8L6.8 834.8L8.8 837.2L11.8 837.2L13.2 835.2L13.2 832.2L12.2 830.8ZM423.8 830.2L419.2 829.2L416.2 829.8L411.8 832.2L410.2 834.2L411.8 839.2L416.2 842.2L423.2 841.8L423.8 841.2ZM374.8 818.2L374.2 814.8L371.8 809.8L355.8 808.8L345.8 806.8L339.8 804.8L334.8 807.2L330.2 807.2L325.8 805.2L323.2 806.8L313.8 809.2L304.2 809.8L297.2 808.2L292.8 810.2L293.2 813.8L311.8 819.8L332.2 827.8L337.2 826.8L338.8 827.2L340.2 829.2L359.8 825.8L372.8 824.8ZM330.8 762.2L321.2 762.8L315.2 764.8L309.2 767.8L310.2 779.8L311.8 785.2L325.2 790.8L326.2 790.8L330.2 786.8L335.8 785.2L334.2 773.8ZM212.8 724.8L194.2 727.8L178.2 732.2L177.8 736.2L174.2 747.8L170.8 756.8L168.8 759.8L149.2 760.8L136.8 762.2L142.2 764.8L144.8 768.2L144.8 770.2L143.8 772.2L141.8 774.2L137.2 776.2L138.2 777.2L142.2 776.2L146.8 776.8L149.8 778.2L151.8 781.2L153.2 778.2L157.2 777.8L159.8 780.8L159.2 782.8L157.8 784.2L156.8 784.2L158.2 785.2L156.8 790.8L156.2 800.8L157.2 806.8L159.2 812.8L161.2 816.8L165.8 822.8L173.8 822.2L178.2 824.2L182.2 828.2L182.8 826.8L186.2 823.8L191.2 823.2L194.8 825.2L195.8 826.8L199.2 822.8L202.8 821.2L207.2 821.8L211.2 823.8L213.2 822.8L213.8 820.2L216.2 823.2L221.2 824.2L224.8 821.2L227.8 815.8L229.8 809.2L227.8 806.8L223.8 805.8L220.2 805.8L215.8 807.2L212.2 805.2L207.2 800.2L205.8 797.2L205.8 792.2L208.2 787.2L207.2 786.8L202.8 791.2L197.8 793.2L189.8 793.2L183.2 790.2L180.8 787.8L179.2 784.2L179.2 781.8L180.8 778.2L184.2 777.2L194.8 777.8L203.8 781.2L204.2 777.2L206.2 772.8L211.8 766.8L216.8 763.2L222.8 760.2L230.2 757.8L231.8 751.2L231.8 748.2L221.2 737.2ZM165.2 776.2L167.2 777.2L168.2 780.8L166.8 783.2L164.2 783.8L163.2 782.8L162.8 779.2L163.2 777.8ZM85.2 702.8L83.2 703.8L81.8 705.8L81.2 709.2L81.8 714.2L83.2 718.2L86.2 721.8L88.2 722.8L91.8 722.8L95.2 719.8L94.2 707.2L91.2 703.8L89.2 702.8ZM391.2 695.8L386.8 697.2L378.8 698.2L377.8 701.2L377.2 715.8L378.2 720.2L380.8 722.2L384.2 723.8L390.8 724.2L394.2 723.2L396.2 719.2L396.8 716.8L396.2 705.8L394.8 701.2L392.8 697.2ZM163.8 676.8L161.8 678.8L160.2 682.2L160.8 687.2L162.2 689.8L164.8 691.8L169.8 691.2L172.2 689.8L174.8 685.8L174.8 683.2L168.8 678.2L167.8 679.8L166.2 679.8L165.2 678.8L165.8 676.8ZM211.2 650.2L210.2 651.8L210.2 658.2L211.2 660.8L213.2 662.8L219.8 663.2L224.2 659.8L222.2 651.2L221.2 650.2L219.8 649.8ZM333.8 653.2L334.8 654.8L334.8 658.2L333.2 660.2L339.2 664.2L342.2 663.2L346.8 663.2L350.8 664.2L356.2 667.8L357.8 669.8L359.2 669.8L360.8 668.2L364.8 666.2L372.2 665.8L374.2 657.2L373.8 650.8L368.8 651.2L366.2 650.2L363.2 647.2L361.8 641.8L359.8 641.8L358.2 640.8L354.8 641.8L352.2 640.8L345.8 645.2L337.2 649.2ZM345.2 626.2L344.2 627.8L344.2 631.2L346.2 634.8L350.8 636.8L353.8 633.8L355.2 633.2L354.8 629.2L351.8 625.8ZM261.8 587.8L260.2 590.8L260.2 595.2L262.2 600.2L264.2 602.2L271.2 602.2L272.2 599.8L273.8 598.2L271.8 596.2L271.8 593.8L272.8 592.8L272.2 591.2L266.2 587.2L264.2 586.8ZM76.2 575.8L73.2 575.8L71.2 577.2L71.2 579.2L72.8 581.8L74.8 582.2L76.8 580.8L77.2 578.2ZM182.2 516.8L178.2 516.2L175.2 516.8L172.2 518.2L173.8 523.2L177.8 527.8L180.8 526.2L183.8 522.8L184.2 518.8ZM56.8 522.8L54.8 531.2L51.8 539.8L58.2 544.2L61.8 548.2L65.2 547.8L66.8 548.2L67.8 550.2L74.8 551.2L76.2 549.8L83.2 546.8L86.2 546.2L92.8 546.8L94.8 545.2L92.8 543.8L91.2 540.8L91.2 537.2L94.2 532.8L96.2 531.8L99.2 531.8L100.2 529.8L94.8 523.8L92.8 519.2L86.8 518.8L81.2 517.2L75.8 514.2L72.2 510.2L71.2 514.8L67.8 518.8L63.2 521.2ZM119.8 507.2L120.2 510.8L123.2 512.8L127.8 512.2L130.2 510.2L128.2 507.2L124.8 505.8L122.8 505.8ZM159.2 499.8L159.2 501.2L160.8 502.8L177.2 505.2L184.2 505.8L187.8 504.2L190.2 502.2L190.2 500.2L186.2 497.2L161.2 497.2Z"/>
<path fill="#aa00ff" stroke="#aa00ff" stroke-width="0.7" fill-rule="evenodd" d="M355.2 891.8L358.8 899.2L358.8 902.2L357.2 905.8L390.2 905.8L389.2 900.8L390.2 897.2L392.8 893.2L387.2 884.8L386.2 881.8L374.2 882.2L364.8 879.8L358.2 886.2ZM62.8 832.2L60.8 833.2L58.8 835.8L57.2 841.2L57.2 845.8L59.2 851.8L61.2 853.8L64.2 854.2L66.8 852.2L68.8 847.8L68.8 839.2L66.2 833.8ZM423.8 812.2L420.2 812.8L418.2 811.8L416.2 808.2L412.2 805.2L411.8 804.2L412.2 800.2L408.8 798.8L405.8 795.8L401.8 797.2L394.2 798.2L388.2 797.8L385.2 796.8L376.8 805.2L371.8 809.2L373.8 812.2L375.2 817.8L374.8 821.2L373.2 824.8L395.2 835.8L408.8 834.2L416.2 829.2L420.2 828.8L423.8 829.8ZM267.2 802.2L267.8 807.2L273.2 810.2L274.8 809.2L279.2 808.2L286.2 808.2L291.8 809.8L296.8 808.2L296.8 800.2L295.2 795.2L292.8 793.8L281.2 790.2L276.2 792.2L271.8 795.2L268.8 798.8ZM138.8 777.8L138.8 783.8L140.8 785.2L147.8 785.8L150.2 783.2L151.8 782.8L150.8 779.8L146.8 777.2L142.2 776.8ZM381.2 770.2L379.8 771.2L378.2 774.8L377.8 778.8L378.8 780.2L382.2 780.2L383.8 779.2L382.8 771.2ZM412.8 774.2L414.2 776.2L416.2 777.2L423.2 777.8L423.8 777.2L423.8 769.8L422.2 769.2L417.2 769.8L415.2 770.8ZM349.8 753.8L347.8 753.2L345.8 755.8L341.8 757.8L339.2 758.2L334.2 757.8L331.2 761.8L334.8 773.8L336.2 784.8L346.8 783.2L354.2 780.8L363.8 776.2L362.8 774.8L362.8 770.8L364.8 767.2L357.8 758.8ZM251.2 681.8L250.2 681.8L249.2 683.8L249.2 688.2L250.2 689.8L251.2 689.2L251.8 687.8ZM9.8 669.8L8.2 670.8L7.2 672.8L7.2 674.8L8.2 677.8L11.2 678.2L12.8 676.8L12.8 672.2L11.2 669.8ZM299.8 667.8L301.2 670.2L301.8 673.2L301.2 676.8L299.8 679.8L297.8 681.8L299.8 684.8L304.8 682.8L308.8 683.2L310.8 684.2L315.2 689.2L317.8 688.2L320.8 688.2L325.8 690.2L329.2 693.8L330.2 696.2L347.8 686.8L347.2 685.2L349.2 683.2L351.8 682.8L350.2 680.8L350.2 679.2L345.8 678.2L341.2 674.8L338.8 669.8L338.8 664.2L333.2 660.8L329.2 661.8L322.8 660.8L319.2 664.2L312.8 667.2L306.8 667.2L302.8 665.8ZM222.8 650.8L223.2 655.2L224.8 659.8L228.2 660.8L235.2 660.8L239.8 659.2L239.2 656.8L240.2 655.2L240.8 651.8L233.8 649.2L227.2 649.2ZM58.2 646.2L54.8 641.8L46.2 642.8L35.2 642.8L33.8 644.2L34.2 647.2L32.8 649.8L46.2 657.8L55.2 650.8L58.2 647.2ZM194.8 637.2L184.2 636.2L176.2 632.8L169.2 635.8L162.8 639.8L158.8 643.8L156.8 647.2L156.8 648.8L168.2 651.2L172.8 654.8L172.8 656.2L170.2 658.8L157.2 659.2L154.8 663.8L152.8 669.8L156.2 671.2L158.8 674.2L158.2 675.8L162.8 676.8L165.2 676.2L170.2 669.8L173.2 663.2L170.2 658.8L186.8 650.8L196.2 644.2L194.2 641.8ZM383.8 614.8L381.8 618.2L381.2 622.8L382.8 629.2L385.2 633.2L390.8 633.2L396.2 631.2L397.2 630.2L398.8 625.8L398.8 619.2L395.2 616.8L391.2 615.2ZM178.2 611.8L177.2 613.8L177.2 616.8L178.8 619.8L181.2 621.8L193.8 621.2L195.8 619.2L197.8 615.2L197.8 611.8L192.2 609.8L184.2 609.8ZM160.2 583.8L156.8 585.2L155.2 587.8L155.2 591.8L157.8 594.2L161.8 593.8L164.2 590.8L164.2 587.8L163.2 585.8ZM279.8 567.8L280.2 572.8L283.2 576.2L286.2 578.2L291.8 575.8L294.8 575.8L296.2 573.2L296.2 570.8L291.8 567.2L286.2 565.8L281.2 565.8ZM61.2 549.8L63.2 551.8L67.2 550.8L67.2 549.2L65.2 548.2L62.8 548.2ZM92.2 547.2L90.2 546.8L83.2 547.2L74.2 551.8L75.8 554.2L77.2 559.2L77.2 568.2L92.2 567.2L93.2 561.8L93.2 550.8ZM272.2 552.8L266.8 551.8L259.2 549.2L242.2 540.8L235.8 541.2L234.2 540.2L233.8 542.2L231.8 544.2L229.2 545.8L224.2 547.2L219.2 547.2L218.8 548.2L214.2 545.8L208.2 545.2L194.2 547.8L187.8 549.8L187.8 552.2L189.8 554.2L192.8 555.8L198.8 557.2L208.8 557.2L213.8 556.2L217.2 554.8L219.8 552.2L220.2 549.8L222.8 553.8L231.8 561.2L243.2 566.8L256.8 570.8L262.8 570.2L266.2 566.8L271.2 563.2L269.8 560.2L269.8 556.8ZM203.8 553.2L204.2 554.8L203.2 555.2L202.8 554.2ZM219.2 549.2L219.8 548.8L220.2 549.2L219.8 549.8ZM218.8 548.2L219.2 547.8L219.8 548.2L219.2 548.8ZM124.2 513.2L120.2 512.8L116.8 515.8L115.8 518.8L115.8 521.8L117.8 525.8L122.8 525.8L123.8 524.8L125.2 520.2L125.2 516.8ZM249.8 509.8L247.8 510.2L245.8 512.2L243.8 518.8L243.8 526.8L245.8 532.2L248.2 531.8L250.8 530.2L254.8 524.8L254.8 521.2L253.2 513.2ZM42.8 504.8L50.2 508.2L58.2 507.2L71.8 507.8L76.8 503.2L76.8 502.8L73.8 502.2L72.2 500.8L72.2 499.8L73.8 498.2L77.2 497.2L44.2 497.2L45.2 501.2Z"/>
<path fill="#ff0000" stroke="#ff0000" stroke-width="0.7" fill-rule="evenodd" d="M34.8 866.2L34.8 868.2L35.8 869.2L39.8 869.8L43.8 868.2L44.2 864.8L42.8 863.2L38.2 863.2L36.2 864.2ZM52.8 855.8L48.8 859.2L47.2 862.8L47.8 868.2L53.8 871.2L59.8 873.2L62.8 871.2L64.8 867.8L65.2 865.8L64.8 861.2L63.8 859.2L59.2 855.8L57.8 855.2ZM333.8 828.2L333.8 830.2L335.8 831.2L338.8 830.8L339.8 829.8L339.8 828.8L337.2 827.2ZM75.8 770.8L76.2 772.8L75.8 775.2L78.2 777.2L89.2 782.2L98.8 784.8L108.8 784.8L120.8 781.8L119.2 779.2L119.2 776.8L120.2 774.8L122.2 773.2L125.8 774.2L122.8 769.8L122.8 766.8L87.8 762.8L81.2 769.2L77.8 770.8ZM343.2 746.2L346.8 748.8L348.8 753.2L352.8 754.8L357.8 758.2L361.8 762.2L364.8 766.8L374.8 766.2L379.2 768.2L382.8 770.8L385.2 768.2L388.2 767.8L391.2 770.2L391.8 771.8L392.2 771.2L391.8 767.2L393.2 763.8L395.8 760.8L399.2 758.2L405.2 755.8L411.2 754.8L416.8 754.8L420.8 755.8L419.8 752.2L419.8 744.8L420.8 739.8L422.2 737.8L423.8 738.8L423.8 736.2L419.2 737.8L415.2 737.8L410.2 736.2L402.8 731.2L394.8 723.2L390.8 724.8L386.8 724.8L381.8 723.2L378.2 720.8L371.2 726.8L361.8 733.2L352.2 738.2L346.8 740.2L346.2 743.2ZM158.2 704.2L158.2 705.2L160.2 707.2L161.2 709.8L160.8 711.8L158.8 714.2L178.2 731.8L194.2 727.2L212.8 724.2L216.2 713.2L216.2 711.8L213.2 707.2L212.8 703.8L210.2 705.8L206.2 706.2L203.8 705.2L199.8 701.2L197.8 695.8L198.2 687.8L195.2 685.2L192.2 686.8L188.2 686.2L185.8 684.2L185.2 681.8L181.8 683.2L175.2 683.8L175.2 685.8L172.2 690.2L168.2 692.2L165.2 692.2L162.8 697.8ZM124.8 665.2L120.8 666.8L120.8 669.2L122.8 669.2ZM339.8 664.2L339.2 664.8L339.8 671.2L341.8 674.8L345.8 677.8L350.2 678.8L352.8 673.8L357.2 670.2L356.2 668.2L350.8 664.8L346.8 663.8ZM129.2 607.8L114.8 615.8L100.2 621.2L96.2 630.8L99.8 634.8L103.8 644.2L103.2 652.8L107.8 653.2L112.2 654.8L117.2 658.8L119.8 657.2L123.8 657.8L126.2 660.2L126.8 661.8L126.2 662.8L128.8 660.2L132.2 658.2L137.2 657.8L138.8 654.8L144.2 650.2L137.8 628.8ZM55.2 564.2L48.8 565.2L39.8 564.8L39.2 569.8L41.2 570.8L41.8 571.8L41.2 573.2L40.2 574.2L38.2 574.2L37.2 573.2L35.8 574.2L32.8 574.2L31.2 572.8L29.2 579.8L25.8 586.2L21.2 591.2L16.8 593.8L19.8 599.2L21.2 605.2L21.2 617.8L20.8 618.8L26.2 620.2L30.2 622.2L35.8 627.2L37.2 630.2L41.2 629.2L50.2 629.8L60.8 597.8L69.2 577.8L69.2 576.8L66.2 575.8L63.8 572.8L64.2 569.8L59.2 567.8ZM41.8 565.2L43.8 566.8L43.8 568.8L42.8 569.8L41.2 569.8L39.8 568.2L40.2 566.2ZM233.8 539.8L227.2 537.2L222.8 536.8L217.8 537.2L214.8 538.2L213.2 539.8L212.2 541.8L212.2 544.2L217.2 546.8L224.2 546.8L229.2 545.2L233.2 542.2ZM328.8 518.8L326.8 520.2L326.2 522.8L326.2 533.8L327.2 538.2L330.8 538.2L333.8 537.2L334.2 527.8L332.2 519.2ZM158.8 517.2L157.8 518.8L158.2 520.2L159.8 521.2L161.2 520.8L162.8 518.8L162.2 517.8ZM296.8 497.2L296.2 497.8L296.2 508.2L298.8 510.2L300.8 509.2L302.8 509.2L306.2 510.8L308.2 508.2L309.8 504.2L309.8 499.8L308.8 497.2Z"/>
<path fill="#d01555" stroke="#d01555" stroke-width="0.7" fill-rule="evenodd" d="M302.8 900.2L299.8 897.2L297.2 896.2L279.2 897.2L276.2 898.8L274.2 901.8L274.2 904.2L275.2 905.8L302.2 905.8L303.2 904.2ZM254.8 878.8L254.8 879.8L257.2 881.2L265.2 882.2L268.2 881.8L269.8 880.2L270.2 876.8L267.8 875.2L261.2 874.2L258.8 874.8L256.2 876.2ZM364.8 767.8L363.2 770.8L363.2 774.8L364.8 776.8L372.2 778.8L377.2 778.2L378.2 773.2L380.2 770.2L379.2 768.8L374.8 766.8L366.8 766.8ZM332.8 750.8L332.8 754.2L334.2 757.2L336.2 757.8L343.2 756.8L345.8 755.2L347.8 752.8L346.2 748.8L342.8 746.2L338.2 746.2L334.8 748.2ZM110.2 735.8L109.8 738.2L110.2 744.8L114.2 746.2L121.8 746.2L123.8 744.2L124.8 741.8L124.8 738.8L123.8 736.2L120.8 733.2L116.8 733.2ZM290.8 710.8L272.8 712.2L269.2 719.2L266.2 722.2L263.2 723.8L259.8 735.8L266.2 742.8L280.8 753.8L282.8 752.2L282.8 751.2L284.2 749.8L288.8 748.2L299.8 741.2L305.8 738.2L303.8 733.2L303.8 731.2L305.2 727.2L297.2 720.2L293.2 715.2ZM32.2 673.2L26.2 667.2L20.8 667.8L12.8 670.8L13.2 672.2L12.8 677.8L15.8 678.8L17.2 680.2L24.2 680.2L28.8 678.2L31.2 675.8ZM133.8 658.2L130.2 659.8L126.2 663.2L124.2 666.2L123.2 669.8L125.2 672.8L130.2 676.8L133.8 677.8L136.8 677.8L141.8 675.8L140.2 674.8L140.2 672.8L143.8 669.8L137.2 658.2ZM271.2 563.8L263.2 570.2L266.8 577.2L266.8 581.8L264.8 586.2L269.2 588.2L273.2 592.2L276.2 593.8L277.8 593.8L283.8 589.8L286.2 587.2L286.8 578.8L283.2 576.8L279.8 572.8L279.2 571.2L279.2 567.8L280.2 566.2L279.8 565.2L278.8 564.8L276.8 566.8L273.8 566.8L272.2 565.2L272.2 563.8ZM170.8 565.8L169.8 568.8L169.8 574.2L175.2 576.2L181.8 576.2L184.8 575.2L186.8 571.2L186.2 567.8L185.2 565.8L181.2 562.8L177.8 561.8ZM28.8 548.2L24.2 552.8L22.2 556.8L24.8 559.8L28.2 561.2L30.8 561.2L32.2 558.2L32.2 553.2L31.2 550.8ZM28.8 543.2L29.2 544.2L34.2 544.2L37.8 541.8L33.2 539.2L30.2 538.8L28.8 540.8ZM242.2 535.8L243.2 537.2L243.2 538.8L242.2 540.2L243.2 541.2L259.2 548.8L266.8 551.2L272.8 552.2L280.2 542.2L282.2 538.2L283.8 532.8L270.2 528.2L257.2 525.2L254.8 525.2L254.2 526.8L250.8 530.8L248.2 532.2L245.2 532.8ZM299.2 510.2L298.2 511.2L298.2 513.2L300.2 515.8L302.8 516.2L305.8 514.2L306.2 513.2L305.8 510.8L302.8 509.8ZM51.2 510.2L52.2 516.2L56.8 521.8L61.8 521.2L66.2 519.2L69.8 516.2L71.8 512.2L71.2 508.2L68.8 507.8L54.2 508.2L51.8 508.8ZM113.8 501.2L113.2 502.8L113.8 505.2L117.8 506.8L122.2 505.8L123.8 503.2L122.8 500.2L119.2 498.2L116.2 498.8Z"/>
<path fill="#00dd99" stroke="#00dd99" stroke-width="0.7" fill-rule="evenodd" d="M219.8 870.8L215.8 871.2L213.2 874.2L212.8 880.2L214.8 882.2L216.8 882.8L220.2 882.2L224.2 879.2L223.2 874.2ZM362.8 867.2L363.2 873.8L364.8 879.2L374.2 881.8L383.2 881.8L386.2 880.8L389.2 869.8L384.8 862.2L382.8 862.8L378.2 862.2L374.8 860.8L372.8 858.8ZM9.2 841.2L13.2 845.8L17.2 853.8L22.8 853.2L28.2 850.8L28.8 844.8L27.8 841.8L24.2 837.8L20.8 836.2L15.8 836.2L12.2 837.8ZM271.2 833.8L272.2 836.2L274.8 838.8L278.2 840.2L286.2 839.8L289.2 836.8L288.8 832.8L287.2 831.2L281.8 829.2L276.2 829.8L273.2 831.2ZM395.8 836.2L373.8 825.2L367.8 825.2L341.8 829.2L338.8 831.2L336.2 831.8L333.8 834.2L337.8 836.2L339.8 838.8L340.2 842.2L339.2 844.8L343.8 845.2L348.2 848.2L355.8 845.2L363.2 845.2L369.8 847.8L374.8 851.2L377.8 850.2L381.2 850.2L388.8 844.2ZM165.8 823.2L162.8 829.2L163.2 834.8L165.2 838.2L169.2 841.2L175.2 841.2L177.2 839.8L180.8 839.8L183.8 835.8L182.2 831.2L182.2 828.8L180.8 826.8L178.2 824.8L173.8 822.8ZM326.2 791.8L311.2 785.2L306.2 787.8L295.2 794.8L297.2 800.2L297.2 807.8L304.2 809.2L309.8 809.2L320.2 807.2L325.8 804.8L325.2 804.2L325.2 798.2L326.8 794.8ZM258.8 736.8L232.2 748.8L230.8 757.8L235.8 764.2L238.8 771.8L239.2 775.2L238.8 780.8L236.2 787.2L239.8 790.8L248.2 792.8L256.2 797.2L259.8 801.2L260.8 803.2L261.2 807.2L267.8 807.8L266.8 805.8L266.8 802.2L269.2 797.2L273.8 793.2L280.8 789.8L279.8 785.8L280.2 774.8L281.8 769.8L285.2 763.2L282.2 758.8L280.8 754.2L269.8 746.2L259.8 736.8ZM65.8 687.8L68.2 689.2L72.2 688.8L73.2 686.8L67.8 686.2ZM30.8 650.8L27.2 661.2L26.8 667.2L33.8 673.8L37.2 672.8L43.2 672.8L43.8 673.2L48.2 669.8L46.2 658.2L32.8 650.2ZM272.8 625.2L273.8 627.8L273.8 631.8L272.8 634.8L278.2 636.8L285.8 638.2L295.2 638.2L302.8 634.2L301.2 625.8L299.8 624.2L291.2 623.8L280.2 621.2ZM10.8 625.2L11.8 629.8L11.8 639.8L12.2 640.2L17.8 641.2L27.2 644.8L29.8 643.2L33.8 643.8L34.8 642.8L34.2 635.2L36.8 631.2L36.8 629.8L35.2 627.2L30.2 622.8L26.2 620.8L20.8 619.2L16.2 622.8ZM272.8 604.8L270.8 602.8L261.8 603.2L258.8 605.2L257.8 606.8L257.8 610.2L258.2 611.2L261.2 611.8L266.8 611.2ZM296.8 571.2L296.8 573.2L295.2 575.8L296.8 579.2L296.2 586.8L299.8 587.8L311.8 593.8L318.8 598.2L320.8 600.2L320.2 603.8L322.2 605.8L325.2 607.2L328.2 607.8L337.2 605.2L340.2 603.2L341.8 600.8L343.8 600.2L347.2 596.2L347.2 581.2L346.2 574.8L343.2 564.2L339.8 567.2L336.2 567.2L332.8 564.2L331.8 562.2L328.8 563.8L323.8 563.8L320.2 562.2L316.8 558.2L305.8 566.2ZM339.8 570.2L341.8 570.8L343.8 573.2L343.8 575.8L341.2 578.8L339.2 578.8L336.8 575.8L337.2 572.2ZM61.2 547.8L55.2 542.2L51.2 539.8L39.2 541.2L34.2 544.8L28.8 544.8L28.2 545.2L28.8 547.8L31.8 550.8L32.8 553.2L32.8 558.2L31.2 561.2L35.2 561.2L39.2 564.2L48.8 564.8L54.8 563.8L57.2 557.2L61.8 551.8L60.8 550.2ZM242.8 537.2L241.2 535.8L238.2 535.2L235.2 536.2L233.8 538.8L235.8 540.8L240.8 540.8L242.2 539.8ZM423.8 531.8L418.8 531.8L414.8 530.2L400.8 538.2L400.8 539.2L403.8 544.2L413.2 546.8L417.8 542.8L420.8 541.2L423.8 541.2ZM149.8 510.2L157.8 516.2L161.2 516.8L162.8 518.2L172.2 517.8L175.2 516.2L178.2 515.8L182.8 516.2L184.8 511.2L184.8 507.8L184.2 506.2L183.2 505.8L168.8 504.8L159.8 502.8L156.2 506.2ZM376.2 497.2L375.8 506.8L377.8 512.8L385.8 514.2L394.8 512.2L408.8 512.2L403.2 509.8L396.8 504.2L396.2 500.2L398.8 497.2Z"/>
<path fill="#d09050" stroke="#d09050" stroke-width="0.7" fill-rule="evenodd" d="M197.2 849.2L192.8 850.8L184.8 850.8L180.8 871.8L179.8 883.2L191.2 882.8L212.2 880.2L212.2 875.8L215.2 870.8L213.8 868.8L208.2 866.8L203.8 862.8L198.8 854.2ZM413.8 787.8L411.2 787.8L407.8 789.2L406.2 792.8L406.2 795.8L408.8 798.2L412.2 799.8L416.8 797.8L416.8 788.8ZM123.8 773.8L121.2 774.2L119.8 776.8L119.8 779.2L121.8 781.8L124.2 779.8L125.2 777.2L125.2 774.8ZM388.8 778.8L390.8 779.8L396.8 780.8L404.2 777.8L406.8 775.2L404.8 773.8L400.2 772.2L392.2 771.8ZM53.8 769.2L54.2 773.8L58.2 778.2L60.8 779.8L67.8 779.2L73.8 776.8L75.8 774.8L75.2 770.8L71.2 768.2L58.8 767.8ZM300.8 684.8L299.8 686.2L299.8 693.8L301.2 699.8L304.8 701.2L311.8 700.8L312.8 699.8L313.2 694.8L314.8 690.2L314.2 688.2L310.8 684.8L308.8 683.8L304.8 683.2ZM44.8 673.2L45.2 676.2L47.2 679.2L56.2 685.2L64.8 687.8L67.8 685.8L73.2 686.2L73.8 687.8L72.2 689.2L69.2 689.8L71.2 694.2L81.8 704.8L85.2 702.2L89.2 702.2L91.2 703.2L94.2 706.2L95.8 719.2L106.8 719.8L107.2 719.2L118.8 718.8L120.2 710.8L126.2 706.8L131.8 705.2L140.8 705.8L141.8 710.8L144.8 713.8L148.2 715.2L157.2 714.2L160.2 711.8L160.8 709.8L159.8 707.2L157.8 705.2L157.8 704.2L160.8 700.2L164.8 692.8L161.8 689.8L159.8 685.8L159.8 682.2L161.2 678.8L162.8 677.2L162.2 676.8L159.8 676.8L157.8 675.8L154.8 676.8L141.8 676.2L138.8 677.8L133.8 678.2L130.2 677.2L127.2 675.2L122.8 669.8L120.2 669.8L117.2 671.8L110.2 673.8L103.8 673.8L98.8 672.8L94.8 675.8L90.8 675.8L88.8 674.2L81.2 674.8L76.8 673.8L66.2 668.2L57.2 670.2L48.2 670.2ZM120.2 686.8L122.8 685.2L125.8 685.8L127.2 687.8L127.2 689.2L125.2 691.2L123.8 691.8L121.8 691.2L119.8 689.2ZM34.8 635.2L35.2 642.2L46.2 642.2L54.8 641.2L57.2 643.8L58.8 646.8L63.2 649.2L68.2 654.8L73.2 653.2L79.8 653.2L86.2 655.8L91.8 660.2L93.8 659.8L98.8 655.2L102.8 653.2L103.2 651.8L103.2 644.2L101.8 639.2L99.2 634.8L95.8 630.8L70.8 635.8L62.8 638.2L56.2 641.2L55.2 640.8L56.2 638.8L56.2 636.2L55.2 634.2L50.8 630.2L48.2 629.8L38.8 630.2L37.2 630.8ZM54.8 641.2L55.2 640.8L55.8 641.2L55.2 641.8ZM271.2 602.8L273.8 604.8L279.2 605.8L283.2 608.8L283.8 609.8L281.2 612.8L279.2 613.8L279.8 614.2L283.8 611.8L287.2 610.8L294.8 611.2L299.2 613.2L302.2 616.2L303.8 621.2L306.2 619.8L311.8 618.2L316.8 618.8L322.8 612.2L325.8 610.2L326.8 608.2L322.2 606.2L319.8 603.8L320.2 600.2L318.8 598.8L311.8 594.2L297.2 587.2L295.8 587.2L292.2 589.2L289.8 589.2L286.8 587.2L281.8 591.8L276.8 594.2L276.8 595.8L273.8 598.8L278.8 598.8L281.2 600.8L281.2 602.2L278.8 604.2L273.8 604.2ZM273.8 553.2L272.2 553.2L270.2 556.8L270.2 560.2L271.8 563.2L275.8 562.2L276.2 561.2L276.2 556.2L275.2 554.2ZM139.2 559.2L126.8 553.2L122.2 554.8L120.8 556.2L118.2 562.2L118.2 566.2L119.2 568.8L118.8 569.2L105.8 571.8L97.2 571.2L97.2 575.2L95.8 579.2L91.8 583.8L88.2 585.8L88.2 587.2L93.8 607.2L99.8 620.8L105.2 619.2L114.8 615.2L129.2 607.2L129.8 606.2L128.2 605.2L127.2 603.2L127.2 600.8L123.2 593.2L121.2 587.2L120.2 582.2L120.2 571.8L121.2 569.8L129.8 569.8L139.2 566.8L140.2 565.2L137.8 562.8ZM306.8 512.2L306.2 514.2L304.8 515.8L302.2 516.8L296.8 528.2L298.8 531.2L307.2 539.2L313.8 542.8L320.8 544.2L323.8 542.8L324.2 540.2L326.8 538.2L325.8 533.8L326.2 520.2L318.8 516.2ZM208.8 497.2L211.2 502.2L210.8 510.8L208.2 515.2L204.2 519.2L200.8 521.2L204.8 523.8L210.8 529.8L213.2 533.2L215.2 537.8L217.8 536.8L222.8 536.2L229.2 537.2L233.8 539.2L233.2 538.8L233.8 537.2L236.2 535.2L239.2 534.8L241.8 535.8L245.2 532.2L243.2 526.8L243.8 516.2L245.2 512.2L247.8 509.8L249.8 509.2L252.8 511.8L252.8 502.8L253.8 497.2ZM5.2 517.8L16.2 517.2L23.2 512.8L26.2 508.8L27.8 505.2L26.2 502.2L26.2 499.8L28.2 497.2L5.2 497.2Z"/>
<path fill="#ffffff" stroke="#ffffff" stroke-width="0.7" fill-rule="evenodd" d="M38.8 570.2L37.8 571.8L37.8 573.2L40.2 573.8L41.2 571.8L40.2 570.2Z"/>
<path fill="#ffff00" stroke="#ffff00" stroke-width="0.7" fill-rule="evenodd" d="M401.2 892.8L395.8 893.2L392.8 894.2L390.8 897.2L389.8 900.8L390.8 905.8L404.8 905.8L405.2 903.2L404.8 898.8L403.2 895.2ZM51.2 835.8L49.2 838.8L48.8 845.2L51.2 849.8L53.8 849.8L55.8 846.8L56.2 840.8L54.8 836.8L53.8 835.8ZM204.8 837.8L206.2 840.2L205.2 842.2L209.8 846.8L214.2 848.8L216.2 850.8L218.2 855.2L218.2 856.8L219.2 856.8L222.8 861.2L223.2 865.2L234.8 863.2L246.2 863.8L251.8 865.2L253.8 861.8L258.8 857.2L264.2 854.2L269.2 852.8L272.2 846.2L276.8 840.2L274.8 839.2L271.8 836.2L270.8 833.8L266.2 827.8L238.8 826.8L224.2 824.8L219.8 824.8L215.2 823.2L212.8 823.2L210.8 824.2L210.2 828.2L208.8 832.2ZM273.2 810.8L273.8 813.2L276.2 815.8L280.2 816.8L288.8 815.8L291.2 814.8L292.8 813.2L292.2 810.2L286.2 808.8L279.2 808.8L276.2 809.2ZM147.8 786.2L148.2 788.2L151.8 790.2L154.8 789.8L156.8 787.8L156.8 785.2L153.2 783.2L150.2 783.8ZM325.2 725.8L316.2 724.8L306.2 726.8L305.2 727.8L304.2 731.2L305.8 737.8L307.2 738.8L315.8 740.2L325.8 733.8L324.2 730.2ZM5.2 722.8L5.2 733.2L16.8 733.2L19.8 729.2L19.8 727.2L16.8 724.2L12.2 722.2ZM232.2 700.8L230.8 701.2L228.8 706.8L225.2 710.2L221.2 712.2L216.8 712.2L213.8 721.2L213.2 724.8L221.8 737.2L232.8 748.2L259.2 736.2L262.8 723.8L259.2 722.2L255.2 718.2L253.2 713.8L253.2 710.2L246.8 709.8L241.8 708.2L236.8 705.2ZM361.2 680.8L357.2 684.2L357.8 686.8L360.2 689.2L364.2 689.8L366.2 688.2L367.2 683.2L363.8 680.8ZM166.8 676.8L165.8 678.8L167.8 679.2L168.2 677.2ZM61.2 648.2L58.8 647.2L55.2 651.2L46.8 657.8L48.8 669.8L57.2 669.8L65.8 667.8L67.2 662.8L68.2 655.2ZM194.8 638.2L195.2 642.8L198.2 644.8L202.2 644.8L205.8 641.8L205.8 640.2L203.8 638.2L201.2 637.2L196.2 636.8ZM359.8 636.2L358.2 637.2L358.2 640.2L360.8 641.2L362.2 640.2L362.2 637.8ZM414.8 613.2L407.2 615.2L399.2 619.8L399.2 625.8L397.2 631.2L404.8 641.8L414.2 649.8L413.2 656.8L413.2 666.8L414.8 669.8L418.8 674.2L420.8 675.2L423.8 675.2L423.8 614.2L422.2 614.8L420.2 613.2ZM279.8 614.8L280.2 615.2L280.2 620.8L281.2 621.2L300.2 624.2L303.2 621.8L301.8 616.2L299.2 613.8L294.8 611.8L287.2 611.2L283.8 612.2ZM7.2 592.8L5.2 593.8L5.2 623.8L6.8 622.8L8.2 622.8L10.8 624.8L16.2 622.2L20.2 619.2L20.8 605.2L19.2 599.2L16.2 593.8L13.2 592.8ZM339.8 570.8L337.8 572.2L337.2 575.8L339.2 578.2L341.2 578.2L343.2 575.8L343.2 573.2L341.8 571.2ZM31.2 561.8L30.2 564.8L30.8 571.8L32.8 573.8L35.8 573.8L37.2 572.8L37.8 570.8L39.2 569.2L39.2 564.8L35.2 561.8ZM416.2 558.2L410.8 563.8L407.2 566.2L407.8 570.8L406.8 575.8L409.2 581.8L413.8 588.8L418.2 592.2L422.8 592.2L423.8 591.8L423.8 559.8L419.2 559.8ZM92.8 547.2L93.8 550.8L93.8 561.8L92.8 567.2L96.8 570.8L100.2 571.2L110.2 570.8L118.8 568.8L117.8 566.2L117.8 562.2L120.2 556.2L121.8 554.8L98.2 544.8L95.2 545.2ZM327.2 545.2L327.2 546.8L328.8 548.2L333.8 549.8L337.8 548.8L340.2 547.2L340.2 545.2L337.2 544.2L328.2 544.2ZM410.8 518.2L409.2 519.8L409.2 521.2L410.8 522.2L412.2 522.2L413.8 520.8L413.8 519.8ZM396.8 500.2L396.8 503.2L400.2 507.2L409.2 512.2L411.2 511.2L418.2 510.2L423.8 510.8L423.8 497.2L399.2 497.2ZM282.2 500.8L281.8 502.2L282.2 504.8L285.2 507.2L288.8 508.2L295.8 507.8L295.8 497.8L288.2 497.2L284.2 498.8Z"/>
</g>
<g clip-path="url(#cd)" shape-rendering="crispEdges">
<rect fill="#ff0088" x="0" y="0" width="1720" height="1467"/>
<polygon fill="#ff8800" points="860,499.5 875.5,499.5 890.5,510 895.5,522.5 891.8,535 873,540 860,532.5"/>
<polygon fill="#d09050" points="875.5,499.5 911.8,499.5 914.2,507.5 906.8,517.5 895.5,522.5 890.5,510"/>
<polygon fill="#aa00ff" points="911.8,499.5 1023,499.5 1018,503.8 998,513.8 980.5,516.2 968,510 958,515 940.5,512.5 930.5,511.2 914.2,507.5"/>
<polygon fill="#ff0088" points="914.2,507.5 930.5,511.2 938,520 941.8,530 933,541.2 918,545 908,540 906.8,517.5"/>
<polygon fill="#ff00ff" points="895.5,522.5 906.8,517.5 908,540 898,535 891.8,535"/>
<polygon fill="#ff8800" points="940.5,512.5 958,515 960.5,522.5 950.5,527.5 941.8,526.2 938,520"/>
<rect fill="#0000ff" x="934.2" y="515" width="5" height="5"/>
<polygon fill="#ff0000" points="958,515 968,510 980.5,516.2 975.5,523.8 960.5,522.5"/>
<polygon fill="#0088ff" points="968,527.5 975.5,523.8 980.5,516.2 998,513.8 1000.5,527.5 998,532.5 983,535 975.5,533.8"/>
<polygon fill="#ffff00" points="998,513.8 1018,503.8 1023,499.5 1033,522.5 1030.5,528.8 1008,536.2 1000.5,527.5"/>
<polygon fill="#a80055" points="1023,499.5 1033,499.5 1048,510 1045.5,520 1033,522.5"/>
<polygon fill="#d01555" points="1033,499.5 1098,499.5 1093,502.5 1075.5,505 1053,517.5 1045.5,520 1048,510"/>
<polygon fill="#0000ff" points="1053,517.5 1075.5,505 1093,502.5 1099.2,511.2 1088,523.8 1078,532.5 1058,537.5 1050.5,527.5"/>
<polygon fill="#0088ff" points="1033,527.5 1045.5,523.8 1050.5,527.5 1050.5,538.8 1044.2,541.2"/>
<polygon fill="#a80055" points="1033,522.5 1045.5,520 1053,517.5 1050.5,527.5 1045.5,523.8 1033,527.5 1030.5,528.8"/>
<polygon fill="#d05515" points="1098,499.5 1168,499.5 1158,507.5 1145.5,520 1138,527.5 1118,520 1099.2,511.2 1093,502.5"/>
<polygon fill="#a80055" points="1138,527.5 1145.5,520 1158,507.5 1168,505 1183,522.5 1180.5,530 1165.5,538.8 1148,538.8"/>
<polygon fill="#915555" points="1168,499.5 1210.5,499.5 1213,515 1223,527.5 1213,530 1205.5,526.2 1183,522.5 1168,505"/>
<polygon fill="#ff0000" points="1210.5,499.5 1287,499.5 1278,503.8 1248,516.2 1225.5,522.5 1213,515"/>
<polygon fill="#ff0088" points="1225.5,522.5 1248,516.2 1278,503.8 1287,502.5 1287,566.2 1268,562.5 1243,556.2 1228,548.8 1213,540 1215.5,532.5 1223,527.5"/>
<polygon fill="#00dd99" points="1180.5,530 1183,526.2 1205.5,526.2 1213,530 1215.5,532.5 1213,540 1200.5,545 1183,541.2"/>
<polygon fill="#ffff00" points="1168,535 1179.2,531.2 1181.8,538.8 1170.5,540"/>
<polygon fill="#00ff00" points="1160.5,540 1170.5,540 1183,541.2 1180.5,547.5 1160.5,550.5"/>
<polygon fill="#d05515" points="1145.5,540 1160.5,538.8 1160.5,550.5 1153,553.8 1145.5,548.8"/>
<polygon fill="#aa00ff" points="1078,532.5 1088,523.8 1099.2,511.2 1118,520 1138,527.5 1133,532.5 1125.5,537.5 1118,543.8 1093,547.5 1090.5,545 1083,540"/>
<polygon fill="#ff00ff" points="1118,543.8 1125.5,537.5 1138,527.5 1148,538.8 1145.5,548.8 1133,551.2 1123,560 1119.2,562.5 1113,551.2"/>
<polygon fill="#ff8800" points="1106.8,546.2 1120.5,541.2 1118,548.8 1108,550.5"/>
<polygon fill="#ffff00" points="1048,547.5 1058,538.8 1075.5,536.2 1090.5,545 1084.2,555 1070.5,558.8 1058,555"/>
<polygon fill="#a80055" points="1004.2,541.2 1008,536.2 1030.5,528.8 1044.2,541.2 1050.5,538.8 1048,547.5 1030.5,563.8 1018,557.5 1008,547.5"/>
<polygon fill="#0000ff" points="981.8,536.2 998,532.5 1008,536.2 1004.2,541.2 1005.5,545 983,547.5"/>
<polygon fill="#00ff00" points="970.5,540 975.5,533.8 981.8,536.2 983,547.5 978,552.5"/>
<polygon fill="#00ff00" points="891.8,540 899.2,535 908,540 905.5,547.5 895.5,550"/>
<polygon fill="#915555" points="941.8,530 950.5,527.5 960.5,522.5 968,527.5 975.5,533.8 970.5,540 955.5,540"/>
<polygon fill="#d01555" points="933,541.2 941.8,530 955.5,540 940.5,537.5"/>
<polygon fill="#00ffff" points="860,532.5 873,540 891.8,535 891.8,540 895.5,550 883,553.8 873,553.8 860,548.8"/>
<polygon fill="#915555" points="860,548.8 873,553.8 868,560 860,560"/>
<polygon fill="#ff0000" points="868,560 873,553.8 883,553.8 895.5,550 905.5,547.5 918,545 933,541.2 940.5,537.5 955.5,540 970.5,540 978,552.5 983,567.5 978,580 980.5,600 958,605 953,597.5 940.5,593.8 918,593.8 903,597.5 893,605 878,605 870.5,575"/>
<polygon fill="#d01555" points="860,560 868,560 870.5,575 878,605 860,600"/>
<polygon fill="#ff8800" points="978,552.5 998,588.8 980.5,600 978,580 983,567.5"/>
<polygon fill="#00dd99" points="978,552.5 983,547.5 1005.5,545 1008,547.5 1018,557.5 1030.5,563.8 1028,572.5 1028,590 1013,595 998,588.8"/>
<polygon fill="#0088ff" points="1030.5,563.8 1048,547.5 1058,555 1070.5,558.8 1084.2,555 1090.5,545 1093,547.5 1118,543.8 1113,551.2 1119.2,562.5 1123,580 1118,607.5 1108,611.2 1088,617.5 1083,622.5 1065.5,627.5 1060.5,612.5 1050.5,600 1040.5,593.8 1028,590 1028,572.5"/>
<polygon fill="#0000ff" points="1119.2,562.5 1123,560 1133,551.2 1145.5,548.8 1153,553.8 1158,560 1163,590 1170.5,617.5 1164.2,635 1155.5,640 1133,633.8 1123,620 1118,607.5 1123,580"/>
<polygon fill="#ff00ff" points="1120.5,567.5 1128,567.5 1124.2,577.5"/>
<polygon fill="#00ffff" points="1158,560 1160.5,550.5 1180.5,547.5 1200.5,545 1213,540 1228,548.8 1243,556.2 1268,562.5 1287,566.2 1287,633.8 1273,630 1250.5,615 1225.5,602.5 1208,597.5 1195.5,610 1185.5,615 1170.5,617.5 1163,590"/>
<polygon fill="#ffff00" points="1280.5,605 1287,597.5 1287,607.5"/>
<polygon fill="#a80055" points="1195.5,610 1208,597.5 1225.5,602.5 1250.5,615 1255.5,621.2 1233,625 1223,622.5 1205.5,623.8 1198,618.8"/>
<polygon fill="#aa00ff" points="978,606.2 988,595 998,588.8 1013,595 1028,590 1040.5,593.8 1050.5,600 1060.5,612.5 1065.5,627.5 1055.5,642.5 1038,635 1008,627.5 988,627.5 983,617.5"/>
<polygon fill="#00ff00" points="958,605 980.5,600 978,606.2 963,612.5"/>
<polygon fill="#915555" points="893,605 903,597.5 918,593.8 940.5,593.8 953,597.5 958,605 955.5,617.5 940.5,628.8 925.5,632.5 913,630 903,620"/>
<polygon fill="#0088ff" points="878,605 893,605 903,620 895.5,623.8 880.5,621.2 875.5,612.5"/>
<polygon fill="#ff8800" points="860,600 878,605 875.5,612.5 880.5,621.2 868,652.5 860,652.5"/>
<polygon fill="#00ffff" points="880.5,621.2 895.5,623.8 903,620 913,630 908,647.5 903,667.5 893,676.2 880.5,667.5 868,652.5"/>
<polygon fill="#ff00ff" points="940.5,628.8 955.5,617.5 963,612.5 978,606.2 983,617.5 988,627.5 975.5,645 953,660 938,655 935.5,640"/>
<polygon fill="#ffff00" points="911.8,635 920.5,631.2 925.5,632.5 921.8,642.5 908,647.5"/>
<polygon fill="#0000ff" points="925.5,633.8 934.2,635 929.2,638"/>
<polygon fill="#ff0088" points="908,647.5 921.8,642.5 925.5,632.5 935.5,640 938,655 945.5,660 938,667.5 923,665 903,667.5"/>
<polygon fill="#ffff00" points="938,665 945.5,660 953,661.2 949.2,670 939.2,670"/>
<polygon fill="#00ff00" points="953,660 975.5,645 988,627.5 1008,627.5 1038,635 1050.5,642.5 1038,652.5 1033,670 1028,687.5 1005.5,692.5 978,685 963,675 949.2,670"/>
<polygon fill="#d01555" points="1038,652.5 1050.5,645 1058,650 1059.2,660 1050.5,675 1033,687.5 1028,687.5 1033,670"/>
<polygon fill="#00dd99" points="1055.5,642.5 1065.5,627.5 1083,622.5 1088,625 1113,628.8 1130.5,635 1140.5,657.5 1138,680 1130.5,692.5 1110.5,697.5 1098,690 1090.5,670 1073,660 1059.2,650"/>
<polygon fill="#d01555" points="1088,617.5 1108,611.2 1118,607.5 1123,620 1115.5,622.5 1113,628.8 1088,625"/>
<polygon fill="#aa00ff" points="1115.5,622.5 1123,620 1133,633.8 1123,637.5 1116.8,631.2"/>
<polygon fill="#d01555" points="1130.5,635 1133,633.8 1155.5,640 1145.5,657.5 1140.5,657.5"/>
<polygon fill="#ff0000" points="1145.5,657.5 1155.5,640 1164.2,637.5 1188,645 1175.5,667.5 1153,675 1140.5,680 1140.5,657.5"/>
<polygon fill="#915555" points="1164.2,635 1170.5,617.5 1185.5,615 1198,618.8 1205.5,623.8 1193,637.5 1175.5,640"/>
<polygon fill="#aa00ff" points="1175.5,640 1193,637.5 1203,627.5 1198,642.5 1188,645"/>
<polygon fill="#00ffff" points="1203,627.5 1205.5,623.8 1223,622.5 1220.5,645 1215.5,655 1205.5,650 1198,642.5"/>
<polygon fill="#ff00ff" points="1223,622.5 1233,625 1255.5,621.2 1273,630 1287,633.8 1287,685 1278,695 1248,705 1225.5,690 1220.5,670 1215.5,655 1220.5,645"/>
<polygon fill="#0088ff" points="1188,645 1198,642.5 1205.5,650 1215.5,655 1220.5,670 1225.5,690 1208,697.5 1190.5,702.5 1173,695 1168,685 1175.5,667.5"/>
<polygon fill="#ffff00" points="1140.5,680 1153,675 1170.5,672.5 1168,685 1165.5,697.5 1145.5,695 1138,690"/>
<polygon fill="#a80055" points="860,652.5 868,652.5 880.5,667.5 893,676.2 883,695 873,710.5 860,710.5"/>
<polygon fill="#d01555" points="893,676.2 903,667.5 913,682.5 928,685 930.5,710.5 873,710.5 883,695"/>
<polygon fill="#d05515" points="903,667.5 923,665 938,667.5 933,677.5 928,685 913,682.5"/>
<polygon fill="#d09050" points="933,677.5 939.2,670 949.2,670 963,675 978,685 1005.5,692.5 1028,687.5 1033,687.5 1043,710.5 930.5,710.5 928,685"/>
<polygon fill="#ff00ff" points="1033,687.5 1050.5,675 1059.2,660 1073,660 1090.5,670 1098,690 1090.5,695 1078,700 1070.5,710.5 1043,710.5"/>
<polygon fill="#915555" points="1070.5,710.5 1078,700 1090.5,695 1098,690 1110.5,697.5 1105.5,710.5"/>
<polygon fill="#ffff00" points="1105.5,710.5 1110.5,697.5 1130.5,692.5 1135.5,695 1128,710.5"/>
<polygon fill="#aa00ff" points="1128,710.5 1135.5,695 1145.5,695 1165.5,697.5 1173,710.5"/>
<polygon fill="#00dd99" points="1165.5,697.5 1173,695 1190.5,702.5 1198,710.5 1173,710.5"/>
<polygon fill="#ff8800" points="1198,710.5 1190.5,702.5 1208,697.5 1225.5,690 1238,702.5 1243,710.5"/>
<polygon fill="#ff00ff" points="1225.5,690 1248,705 1278,695 1287,685 1287,710.5 1243,710.5 1238,702.5"/>
<polygon fill="#ffff00" points="1273,710.5 1287,690 1287,710.5"/>
<ellipse fill="#ff8800" cx="1061.1" cy="665.6" rx="4.4" ry="4.4"/>
<polygon fill="#a80055" points="860,700 885.5,700 876.8,715 869.2,718.8 860,717.5"/>
<polygon fill="#d01555" points="885.5,700 935.5,700 941.8,721.2 933,735 908,737.5 893,737.5 885.5,732.5 876.8,715"/>
<polygon fill="#00dd99" points="860,717.5 869.2,718.8 876.8,715 885.5,732.5 883,741.2 860,741.2"/>
<polygon fill="#d09050" points="935.5,700 1045.5,700 1055.5,715 1050.5,725 1030.5,740 1008,741.2 988,737.5 968,727.5 958,721.2 941.8,721.2"/>
<polygon fill="#ff00ff" points="1045.5,700 1073,700 1058,715 1055.5,715"/>
<polygon fill="#ff0088" points="933,735 941.8,721.2 958,721.2 968,727.5 988,737.5 980.5,747.5 975.5,753.8 960.5,753.8 940.5,745"/>
<polygon fill="#915555" points="1058,715 1073,700 1105.5,700 1106.8,725 1098,733.8 1078,738.8 1065.5,732.5 1058,725"/>
<polygon fill="#ffff00" points="1105.5,700 1130.5,700 1118,725 1106.8,725"/>
<polygon fill="#aa00ff" points="1118,725 1130.5,700 1168,700 1175.5,715 1188,745 1170.5,750 1143,758.8 1123,753.8 1118,737.5"/>
<polygon fill="#00dd99" points="1168,700 1200.5,700 1198,710 1175.5,715"/>
<polygon fill="#ff8800" points="1200.5,700 1240.5,700 1240.5,710 1218,725 1208,715 1198,710"/>
<polygon fill="#ff00ff" points="1240.5,700 1275.5,700 1268,715 1240.5,710"/>
<polygon fill="#ffff00" points="1275.5,700 1287,700 1287,732.5 1278,731.2 1268,715"/>
<polygon fill="#00ff00" points="1175.5,715 1198,710 1208,715 1218,725 1240.5,710 1268,715 1268,727.5 1255.5,750 1233,751.2 1213,755 1188,745"/>
<polygon fill="#ff00ff" points="1255.5,750 1268,727.5 1278,731.2 1287,732.5 1287,762.5 1278,757.5"/>
<polygon fill="#d09050" points="1090.5,741.2 1098,733.8 1106.8,725 1118,725 1118,737.5 1123,753.8 1118,760 1100.5,760"/>
<polygon fill="#ff8800" points="1118,760 1123,753.8 1143,758.8 1140.5,763.8 1120.5,762.5"/>
<polygon fill="#ff8800" points="1030.5,740 1050.5,725 1058,725 1058,730 1045.5,735 1045.5,741.2"/>
<polygon fill="#aa00ff" points="1045.5,735 1058,730 1065.5,732.5 1071.8,742.5 1068,752.5 1058,758.8 1048,750"/>
<polygon fill="#d09050" points="1030.5,740 1045.5,741.2 1050.5,756.2 1033,753.8"/>
<polygon fill="#d01555" points="1068,752.5 1071.8,742.5 1078,738.8 1090.5,741.2 1100.5,760 1098,765 1078,771.2 1063,775 1058,767.5 1063,758.8"/>
<polygon fill="#00ffff" points="1044.2,758.8 1058,758.8 1063,766.2 1048,766.2"/>
<polygon fill="#ff8800" points="860,741.2 883,741.2 893,737.5 908,737.5 933,735 940.5,745 935.5,756.2 915.5,758.8 910.5,775 895.5,777.5 890.5,766.2 878,762.5 860,765"/>
<polygon fill="#00ff00" points="975.5,753.8 980.5,747.5 988,737.5 998,737.5 1008,743.8 1008,757.5 1000.5,765 988,768.8 980.5,763.8"/>
<polygon fill="#ff8800" points="1008,743.8 1030.5,740 1033,753.8 1018,760 1008,757.5"/>
<polygon fill="#d05515" points="1018,760 1033,753.8 1043,756.2 1044.2,766.2 1028,765"/>
<polygon fill="#ffff00" points="960.5,753.8 975.5,753.8 980.5,763.8 968,762.5"/>
<polygon fill="#aa00ff" points="935.5,756.2 940.5,745 960.5,753.8 968,762.5 958,775 950.5,780 943,772.5"/>
<polygon fill="#a80055" points="910.5,775 915.5,758.8 935.5,756.2 943,772.5 945.5,780 930.5,790 918,783.8"/>
<polygon fill="#0088ff" points="860,765 878,762.5 890.5,766.2 895.5,777.5 885.5,787.5 860,796.2"/>
<polygon fill="#d01555" points="884.2,778.8 893,777.5 888,786.2"/>
<polygon fill="#d05515" points="860,796.2 885.5,787.5 895.5,777.5 910.5,775 918,783.8 920.5,795 908,810 883,813.8 868,810 860,802.5"/>
<polygon fill="#0088ff" points="918,783.8 930.5,790 938,795 928,797.5 920.5,795"/>
<polygon fill="#a80055" points="950.5,780 958,775 968,762.5 980.5,763.8 988,768.8 993,780 985.5,795 968,792.5 953,790"/>
<polygon fill="#d01555" points="938,795 945.5,780 950.5,780 953,790 945.5,800"/>
<polygon fill="#915555" points="988,768.8 1000.5,765 1005.5,770 993,780"/>
<polygon fill="#0088ff" points="1000.5,765 1008,757.5 1018,760 1028,765 1015.5,763.8 1005.5,770"/>
<polygon fill="#0000ff" points="993,780 1005.5,770 1015.5,763.8 1033,766.2 1048,766.2 1063,775 1065.5,785 1068,802.5 1070.5,817.5 1063,826.2 1043,820 1020.5,817.5 1005.5,810 1000.5,797.5 985.5,795"/>
<ellipse fill="#d01555" cx="1053.9" cy="788.4" rx="7.1" ry="4.6"/>
<polygon fill="#0088ff" points="945.5,800 953,790 968,792.5 985.5,795 978,798.8 965.5,805 948,806.2"/>
<polygon fill="#ff00ff" points="948,812.5 965.5,805 978,798.8 985.5,795 1000.5,797.5 1005.5,810 998,817.5 975.5,827.5 950.5,832.5"/>
<polygon fill="#a80055" points="948,806.2 965.5,805 950.5,811.2"/>
<polygon fill="#aa00ff" points="906.8,811.2 920.5,797.5 928,797.5 938,795 945.5,800 948,812.5 950.5,832.5 940.5,850 930.5,851.2 915.5,840 910.5,825"/>
<polygon fill="#a80055" points="860,802.5 868,810 883,813.8 906.8,811.2 910.5,825 915.5,840 930.5,851.2 940.5,855 933,862.5 923,872.5 898,872.5 890.5,875 873,880 860,882.5"/>
<polygon fill="#00ffff" points="940.5,850 950.5,832.5 975.5,827.5 998,817.5 1005.5,810 1020.5,817.5 1043,820 1063,826.2 1060.5,845 1053,855 1038,862.5 1018,862.5 1008,872.5 1003,880 978,881.2 970.5,870 958,862.5 940.5,855"/>
<polygon fill="#00ffff" points="1063,775 1078,771.2 1098,765 1108,762.5 1140.5,763.8 1150.5,777.5 1154.2,795 1145.5,802.5 1143,817.5 1135.5,820 1120.5,827.5 1095.5,820 1070.5,817.5 1068,802.5 1065.5,785"/>
<polygon fill="#ff0088" points="1143,758.8 1170.5,750 1188,745 1213,755 1233,751.2 1255.5,750 1278,757.5 1287,762.5 1287,780 1258,787.5 1258,795 1268,805 1273,825 1265.5,842.5 1243,850 1225.5,840 1218,815 1188,817.5 1178,807.5 1154.2,795 1150.5,777.5 1140.5,763.8"/>
<polygon fill="#aa00ff" points="1270.5,780 1287,780 1287,790 1273,790"/>
<polygon fill="#ffff00" points="1268,795 1287,787.5 1287,820 1275.5,825 1273,815"/>
<ellipse fill="#ff8800" cx="1262" cy="796.2" rx="6.5" ry="4.2"/>
<polygon fill="#00ff00" points="1145.5,802.5 1154.2,795 1178,807.5 1188,817.5 1183,828.8 1158,825 1143,817.5"/>
<polygon fill="#ff00ff" points="1183,828.8 1188,817.5 1218,815 1225.5,840 1213,855 1208,850 1193,835"/>
<polygon fill="#ff0088" points="1063,826.2 1070.5,817.5 1095.5,820 1120.5,827.5 1118,850 1120.5,872.5 1113,887.5 1098,890 1083,885 1065.5,885 1048,897.5 1028,900 1025.5,885 1038,862.5 1053,855 1060.5,845"/>
<polygon fill="#a80055" points="1120.5,827.5 1135.5,820 1143,817.5 1158,825 1183,828.8 1193,835 1208,850 1213,855 1205.5,870 1195.5,880 1173,875 1158,875 1145.5,882.5 1128,880 1120.5,872.5 1118,850"/>
<polygon fill="#0000ff" points="1243,850 1265.5,842.5 1273,825 1287,820 1287,897.5 1258,903 1240.5,897.5 1233,890 1230.5,870"/>
<polygon fill="#ff8800" points="1213,855 1225.5,840 1243,850 1230.5,870 1223,862.5"/>
<polygon fill="#00ffff" points="1205.5,870 1213,855 1223,862.5 1230.5,870 1233,890 1218,897.5 1200.5,892.5 1195.5,880"/>
<polygon fill="#ff0000" points="1200.5,861.2 1208,860 1206.8,867.5"/>
<polygon fill="#ffff00" points="923,872.5 933,862.5 940.5,855 958,862.5 970.5,870 978,881.2 973,885 923,885"/>
<polygon fill="#ffff00" points="1003,880 1008,872.5 1018,862.5 1038,862.5 1025.5,885 1008,885"/>
<polygon fill="#ff00ff" points="890.5,875 898,872.5 923,872.5 920.5,885 893,885"/>
<polygon fill="#0000ff" points="873,880 890.5,875 893,885 873,885"/>
<polygon fill="#d01555" points="1145.5,882.5 1158,875 1173,875 1195.5,880 1200.5,892.5 1185.5,895 1170.5,892.5 1155.5,892.5 1143,890"/>
<polygon fill="#0000ff" points="1113,887.5 1120.5,880 1128,880 1145.5,882.5 1143,890 1145.5,897.5 1138,903.8 1118,903.8 1110.5,895"/>
<polygon fill="#ff00ff" points="1048,897.5 1065.5,885 1083,885 1098,890 1103,897.5 1098,903.8 1053,903.8"/>
<polygon fill="#00ffff" points="1103,897.5 1110.5,890 1118,903.8 1105.5,903.8"/>
<polygon fill="#d09050" points="1145.5,897.5 1155.5,892.5 1163,897.5 1158,903.8 1145.5,903.8"/>
<polygon fill="#ff0000" points="1163,897.5 1170.5,892.5 1185.5,895 1185.5,903.8 1163,903.8"/>
<polygon fill="#0000ff" points="1185.5,895 1195.5,887.5 1200.5,892.5 1193,903.8 1185.5,903.8"/>
<polygon fill="#d01555" points="1218,897.5 1233,890 1240.5,897.5 1253,903.8 1218,903.8"/>
<polygon fill="#00ff00" points="1208,897.5 1218,897.5 1218,903.8 1208,903.8"/>
<polygon fill="#d05515" points="1025.5,900 1038,895 1048,897.5 1053,903.8 1025.5,903.8"/>
<polygon fill="#ffff00" points="1278,903 1287,897.5 1287,903.8"/>
<rect fill="#ff8800" x="861" y="903.8" width="72" height="5.8"/>
<rect fill="#00ffff" x="933" y="903.8" width="100" height="5.8"/>
<rect fill="#ff00ff" x="1033" y="903.8" width="100" height="5.8"/>
<rect fill="#ff8800" x="1133" y="903.8" width="75" height="5.8"/>
<rect fill="#00ffff" x="1208" y="903.8" width="79" height="5.8"/>
</g>
<g clip-path="url(#ce)" shape-rendering="crispEdges">
<rect fill="#d01555" x="0" y="0" width="1720" height="1467"/>
<polygon fill="#a80055" points="6.8,1002.5 93,1002.5 93.8,1022.5 96.2,1048.8 86.2,1070 75,1075 42.5,1082.5 32.5,1081.2 20,1067.5 6.8,1052"/>
<polygon fill="#d09050" points="93,1002.5 202.5,1002.5 212.5,1032.5 207.5,1050.5 187.5,1057.5 165,1073.8 150,1065 136.2,1060 122.5,1063.8 96.2,1048.8 93.8,1022.5"/>
<polygon fill="#0088ff" points="202.5,1002.5 250,1002.5 250,1010 243.8,1021.2 212.5,1032.5"/>
<polygon fill="#ffff00" points="212.5,1032.5 243.8,1021.2 240,1035 241.2,1062.5 236.2,1065 225,1056.2 217.5,1055 207.5,1050.5"/>
<polygon fill="#0000ff" points="208.8,1036.2 212.5,1035 212.5,1050.5 207.5,1050.5"/>
<polygon fill="#ff00ff" points="250,1002.5 325,1002.5 325,1015 320,1032.5 317.5,1040 327.5,1077.5 317.5,1095 315,1112.5 297.5,1116.2 275,1100 265,1070 241.2,1062.5 240,1035 243.8,1021.2 250,1010"/>
<polygon fill="#00ff00" points="325,1002.5 360,1002.5 357.5,1013.8 325,1015"/>
<polygon fill="#d01555" points="360,1002.5 402.5,1002.5 407.5,1025 400,1045 401.2,1056.2 387.5,1060 375,1032.5 357.5,1013.8"/>
<polygon fill="#d05515" points="402.5,1002.5 427,1002.5 427,1028.8 407.5,1025"/>
<polygon fill="#ff0088" points="407.5,1025 427,1028.8 427,1085 412.5,1067.5 401.2,1056.2 400,1045"/>
<polygon fill="#915555" points="325,1015 357.5,1013.8 375,1032.5 387.5,1060 377.5,1080 357.5,1085 327.5,1077.5 317.5,1040 320,1032.5"/>
<polygon fill="#0088ff" points="387.5,1060 401.2,1056.2 412.5,1067.5 427,1085 427,1103.8 400,1107.5 390,1095 377.5,1080"/>
<polygon fill="#00ffff" points="327.5,1077.5 357.5,1085 377.5,1080 390,1095 400,1107.5 397.5,1125 405,1136.2 380,1157.5 375,1166.2 357.5,1157.5 346.2,1157.5 332.5,1137.5 317.5,1115 315,1112.5 317.5,1095"/>
<polygon fill="#00ff00" points="400,1107.5 427,1103.8 427,1132.5 422.5,1141.2 405,1136.2 397.5,1125"/>
<polygon fill="#00dd99" points="405,1136.2 422.5,1141.2 427,1150 427,1210.5 381.2,1210.5 375,1166.2 380,1157.5"/>
<polygon fill="#d05515" points="422.5,1141.2 427,1132.5 427,1150"/>
<polygon fill="#0000ff" points="346.2,1157.5 357.5,1157.5 375,1166.2 381.2,1210.5 327.5,1210.5 321.2,1187.5 332.5,1175"/>
<polygon fill="#d01555" points="236.2,1065 241.2,1062.5 265,1070 275,1100 297.5,1116.2 315,1112.5 317.5,1115 332.5,1137.5 346.2,1157.5 332.5,1175 321.2,1187.5 297.5,1178.8 277.5,1195 250,1200 232.5,1183.8 231.2,1157.5 225,1125 223.8,1095 225,1077.5"/>
<polygon fill="#915555" points="217.5,1055 225,1056.2 236.2,1065 225,1077.5 220,1067.5"/>
<polygon fill="#ff00ff" points="165,1073.8 187.5,1057.5 207.5,1050.5 217.5,1055 220,1067.5 225,1077.5 223.8,1095 225,1125 231.2,1157.5 232.5,1183.8 207.5,1202.5 197.5,1210.5 175,1206.2 165,1192.5 156.2,1180 160,1155 163.8,1130 161.2,1112.5 155,1107.5 162.5,1085"/>
<polygon fill="#00ffff" points="122.5,1063.8 136.2,1060 150,1065 165,1073.8 162.5,1085 155,1107.5 136.2,1109.5 120,1110.5 117.5,1082.5"/>
<polygon fill="#aa00ff" points="96.2,1048.8 122.5,1063.8 117.5,1082.5 120,1110.5 110,1120 102.5,1100 95,1085 83.8,1071.2 86.2,1070"/>
<polygon fill="#ff0000" points="32.5,1081.2 42.5,1082.5 75,1075 83.8,1071.2 95,1085 102.5,1100 110,1120 108.8,1145 117.5,1165 126.2,1182.5 117.5,1197.5 87.5,1186.2 72.5,1187.5 60,1180 50,1157.5 37.5,1140 32.5,1115 25,1101.2"/>
<polygon fill="#00ff00" points="120,1110.5 136.2,1109.5 155,1107.5 161.2,1112.5 163.8,1130 160,1155 156.2,1180 147.5,1182 126.2,1182.5 117.5,1165 108.8,1145 110,1120"/>
<polygon fill="#ff0088" points="6.8,1052 20,1067.5 32.5,1081.2 25,1101.2 6.8,1100"/>
<polygon fill="#d01555" points="6.8,1100 25,1101.2 32.5,1115 33.8,1135 27.5,1137.5 22.5,1160 6.8,1165"/>
<polygon fill="#0000ff" points="27.5,1137.5 33.8,1135 37.5,1140 50,1157.5 60,1180 51.2,1188.8 37.5,1185 22.5,1160"/>
<polygon fill="#a80055" points="6.8,1165 22.5,1160 37.5,1185 25,1205 6.8,1190"/>
<polygon fill="#ff00ff" points="37.5,1185 51.2,1188.8 57.5,1210.5 25,1210.5 25,1205"/>
<polygon fill="#aa00ff" points="6.8,1190 25,1205 25,1210.5 6.8,1210.5"/>
<polygon fill="#a80055" points="51.2,1188.8 60,1180 72.5,1187.5 87.5,1186.2 117.5,1197.5 115,1210.5 57.5,1210.5"/>
<polygon fill="#ff8800" points="126.2,1182.5 147.5,1182 153.8,1202.5 135,1203.8 117.5,1197.5"/>
<polygon fill="#ffff00" points="147.5,1182 156.2,1180 165,1192.5 172.5,1206.2 162.5,1210.5 153.8,1202.5"/>
<polygon fill="#d01555" points="117.5,1197.5 135,1203.8 153.8,1202.5 162.5,1210.5 115,1210.5"/>
<polygon fill="#00ff00" points="207.5,1202.5 232.5,1183.8 250,1200 247.5,1210.5 206.2,1210.5"/>
<polygon fill="#aa00ff" points="250,1200 277.5,1195 280,1210.5 247.5,1210.5"/>
<polygon fill="#ff0088" points="277.5,1195 297.5,1178.8 321.2,1187.5 327.5,1210.5 280,1210.5"/>
<polygon fill="#915555" points="170,1206.2 190,1205 197.5,1210.5 167.5,1210.5"/>
<polygon fill="#00ffff" points="197.5,1210.5 207.5,1202.5 206.2,1210.5"/>
<ellipse fill="#00ff00" cx="264" cy="1105.8" rx="6.5" ry="3.2"/>
<ellipse fill="#ffffff" cx="323.5" cy="1023.1" rx="4" ry="3.1"/>
<ellipse fill="#ffffff" cx="162.8" cy="1113" rx="2.8" ry="2.5"/>
<polygon fill="#aa00ff" points="6.8,1205 25,1205 23.8,1222.5 32.5,1252.5 25,1258.8 6.8,1272.5"/>
<polygon fill="#ff00ff" points="25,1205 57.5,1205 53.8,1235 50,1253.8 32.5,1252.5 23.8,1222.5"/>
<polygon fill="#a80055" points="57.5,1205 116.2,1205 125,1245 111.2,1266.2 75,1263.8 50,1253.8 53.8,1235"/>
<polygon fill="#d01555" points="116.2,1205 160,1205 167,1217.5 165,1246.2 150,1251.2 125,1245"/>
<polygon fill="#915555" points="167,1217.5 172.5,1205 197.5,1207.5 210,1233.8 202.5,1265 185,1268.8 175,1260 165,1246.2"/>
<polygon fill="#ffff00" points="160,1205 172.5,1205 167,1210.5"/>
<polygon fill="#ff00ff" points="180,1205 200,1205 195,1209"/>
<polygon fill="#00ffff" points="200,1205 208.8,1205 212.5,1232.5 210,1233.8 197.5,1207.5"/>
<polygon fill="#00ff00" points="208.8,1205 248.8,1205 247.5,1225 230,1237.5 212.5,1232.5"/>
<polygon fill="#aa00ff" points="248.8,1205 280,1205 281.2,1213.8 260,1232.5 252.5,1233.8 247.5,1225"/>
<polygon fill="#ff0088" points="280,1205 325,1205 327.5,1235 281.2,1213.8"/>
<polygon fill="#0000ff" points="325,1205 382.5,1205 382.5,1225 363.8,1246.2 347.5,1242.5 327.5,1235"/>
<polygon fill="#00dd99" points="382.5,1205 427,1205 427,1230 400,1231.2 382.5,1225"/>
<polygon fill="#0088ff" points="382.5,1225 400,1231.2 427,1230 427,1335 417.5,1337.5 400,1335 390,1305 377.5,1280 370,1276.2 363.8,1246.2"/>
<polygon fill="#ffff00" points="230,1237.5 247.5,1225 252.5,1233.8 250,1247.5 236.2,1249.5"/>
<polygon fill="#0088ff" points="210,1233.8 212.5,1232.5 230,1237.5 236.2,1249.5 220,1276.2 202.5,1265"/>
<polygon fill="#d09050" points="252.5,1233.8 260,1232.5 281.2,1213.8 327.5,1235 332.5,1245 335,1267.5 342.5,1285 330,1312.5 325,1325 302.5,1330 281.2,1325 270,1297.5 257.5,1265 250,1247.5"/>
<polygon fill="#d01555" points="332.5,1245 347.5,1242.5 363.8,1246.2 370,1276.2 360,1280 342.5,1285 335,1267.5"/>
<polygon fill="#ff8800" points="332.5,1245 347.5,1242.5 345,1250 333.8,1257.5"/>
<polygon fill="#00ff00" points="342.5,1285 360,1280 370,1276.2 377.5,1280 390,1305 400,1335 387.5,1355 370,1367.5 347.5,1362.5 330,1345 325,1325 330,1312.5"/>
<polygon fill="#0000ff" points="111.2,1266.2 125,1245 150,1251.2 165,1246.2 175,1260 180,1267.5 160,1270 150,1280 143.8,1305 135,1295 117.5,1282.5"/>
<polygon fill="#ff00ff" points="150,1280 160,1270 180,1267.5 185,1277.5 183.8,1305 172.5,1317.5 160,1327.5 151.2,1325 143.8,1305"/>
<polygon fill="#ff0088" points="185,1268.8 202.5,1265 216.2,1277.5 207.5,1297.5 200,1305 183.8,1305 185,1277.5 180,1267.5"/>
<polygon fill="#aa00ff" points="220,1276.2 236.2,1249.5 250,1247.5 257.5,1265 270,1297.5 281.2,1325 275,1337.5 265,1340 268.8,1355 263.8,1365 275,1387.5 277.5,1407.5 197.5,1407.5 190,1380 180,1352.5 170,1325 172.5,1317.5 183.8,1305 200,1305 207.5,1297.5 216.2,1277.5"/>
<polygon fill="#00ffff" points="6.8,1272.5 25,1258.8 32.5,1252.5 50,1253.8 75,1263.8 111.2,1266.2 117.5,1282.5 135,1295 143.8,1305 151.2,1325 147.5,1345 142.5,1375 135,1407.5 6.8,1407.5"/>
<polygon fill="#ff0088" points="151.2,1325 160,1327.5 170,1325 180,1352.5 190,1380 197.5,1407.5 135,1407.5 142.5,1375 147.5,1345"/>
<polygon fill="#ffff00" points="281.2,1325 302.5,1330 298.8,1341.2 287.5,1337.5 280,1332.5"/>
<polygon fill="#0000ff" points="302.5,1330 325,1325 326.2,1337.5 315,1341.2 305,1338.8"/>
<polygon fill="#00dd99" points="265,1340 275,1337.5 280,1332.5 287.5,1337.5 295,1347.5 290,1360 285,1382.5 275,1387.5 263.8,1365 268.8,1355"/>
<polygon fill="#ff8800" points="295,1347.5 298.8,1341.2 305,1338.8 315,1341.2 326.2,1337.5 330,1345 347.5,1362.5 342.5,1385 337.5,1407.5 277.5,1407.5 275,1387.5 285,1382.5 290,1360"/>
<polygon fill="#ffff00" points="347.5,1362.5 370,1367.5 366.2,1395 362.5,1407.5 337.5,1407.5 342.5,1385"/>
<polygon fill="#0000ff" points="370,1367.5 382.5,1361.2 385,1390 375,1397.5 366.2,1395"/>
<polygon fill="#d05515" points="382.5,1361.2 390,1357.5 422.5,1360 427,1365 427,1407.5 362.5,1407.5 366.2,1395 375,1397.5 385,1390"/>
<polygon fill="#915555" points="387.5,1355 400,1335 417.5,1337.5 422.5,1360 390,1357.5"/>
<polygon fill="#aa00ff" points="417.5,1337.5 427,1335 427,1355 422.5,1360"/>
<ellipse fill="#d05515" cx="187.1" cy="1309.6" rx="6.6" ry="4.6"/>
<ellipse fill="#ff0000" cx="196" cy="1310" rx="3.5" ry="3.8"/>
<ellipse fill="#00ff00" cx="200.2" cy="1307.2" rx="2.8" ry="2.8"/>
<ellipse fill="#ffff00" cx="193.4" cy="1307.5" rx="2.9" ry="2.5"/>
<ellipse fill="#ff0000" cx="148.1" cy="1275.5" rx="3.6" ry="3.5"/>
<ellipse fill="#ffffff" cx="58.8" cy="1329.5" rx="2.5" ry="2.5"/>
</g>
<rect x="487.31" y="286.04" width="14.56" height="41.36" fill="#fb0000" stroke="#5a0000" stroke-width="0.8"/>
<rect x="505.29" y="270.14" width="14.56" height="57.26" fill="#fb0000" stroke="#5a0000" stroke-width="0.8"/>
<rect x="523.27" y="271.33" width="14.56" height="56.07" fill="#fb0000" stroke="#5a0000" stroke-width="0.8"/>
<rect x="541.25" y="310.70" width="14.56" height="16.70" fill="#fb0000" stroke="#5a0000" stroke-width="0.8"/>
<rect x="559.23" y="308.71" width="14.56" height="18.69" fill="#fb0000" stroke="#5a0000" stroke-width="0.8"/>
<rect x="595.19" y="299.17" width="14.56" height="28.23" fill="#fb0000" stroke="#5a0000" stroke-width="0.8"/>
<rect x="613.17" y="292.80" width="14.56" height="34.60" fill="#fb0000" stroke="#5a0000" stroke-width="0.8"/>
<rect x="631.15" y="302.74" width="14.56" height="24.66" fill="#fb0000" stroke="#5a0000" stroke-width="0.8"/>
<rect x="649.13" y="270.14" width="14.56" height="57.26" fill="#fb0000" stroke="#5a0000" stroke-width="0.8"/>
<rect x="685.09" y="246.28" width="14.56" height="81.12" fill="#fb0000" stroke="#5a0000" stroke-width="0.8"/>
<rect x="739.03" y="196.57" width="14.56" height="130.83" fill="#fb0000" stroke="#5a0000" stroke-width="0.8"/>
<rect x="828.93" y="80.85" width="14.56" height="246.55" fill="#fb0000" stroke="#5a0000" stroke-width="0.8"/>
<rect x="485.60" y="60.70" width="359.60" height="266.70" fill="none" stroke="#2a2a2a" stroke-width="1.5"/>
<path d="M485.60 327.40v6M508.08 327.40v3.2M530.55 327.40v6M553.02 327.40v3.2M575.50 327.40v6M597.98 327.40v3.2M620.45 327.40v6M642.93 327.40v3.2M665.40 327.40v6M687.88 327.40v3.2M710.35 327.40v6M732.83 327.40v3.2M755.30 327.40v6M777.78 327.40v3.2M800.25 327.40v6M822.73 327.40v3.2M845.20 327.40v6M485.60 327.40h-6M485.60 307.52h-3.2M485.60 287.63h-6M485.60 267.75h-3.2M485.60 247.87h-6M485.60 227.98h-3.2M485.60 208.10h-6M485.60 188.22h-3.2M485.60 168.33h-6M485.60 148.45h-3.2M485.60 128.57h-6M485.60 108.68h-3.2M485.60 88.80h-6M485.60 68.92h-3.2" stroke="#2a2a2a" stroke-width="1.35" fill="none"/>
<g font-family='"Liberation Serif", serif' font-size="16.5" fill="#1a1a1a">
<text x="485.60" y="349.40" text-anchor="middle">0</text>
<text x="530.55" y="349.40" text-anchor="middle">5</text>
<text x="575.50" y="349.40" text-anchor="middle">10</text>
<text x="620.45" y="349.40" text-anchor="middle">15</text>
<text x="665.40" y="349.40" text-anchor="middle">20</text>
<text x="710.35" y="349.40" text-anchor="middle">25</text>
<text x="755.30" y="349.40" text-anchor="middle">30</text>
<text x="800.25" y="349.40" text-anchor="middle">35</text>
<text x="845.20" y="349.40" text-anchor="middle">40</text>
<text x="476.60" y="332.84" text-anchor="end">0.00</text>
<text x="476.60" y="293.08" text-anchor="end">0.05</text>
<text x="476.60" y="253.31" text-anchor="end">0.10</text>
<text x="476.60" y="213.54" text-anchor="end">0.15</text>
<text x="476.60" y="173.78" text-anchor="end">0.20</text>
<text x="476.60" y="134.01" text-anchor="end">0.25</text>
<text x="476.60" y="94.24" text-anchor="end">0.30</text>
</g>
<text x="665.40" y="376.00" text-anchor="middle" font-family='"Liberation Serif", serif' font-size="16" fill="#1a1a1a">Grain Size (diameter) / μm</text>
<text transform="translate(440.00 205.05) rotate(-90)" text-anchor="middle" font-family='"Liberation Serif", serif' font-size="16" fill="#1a1a1a">Area Fraction</text>
<rect x="1336.01" y="145.02" width="14.58" height="210.48" fill="#fb0000" stroke="#5a0000" stroke-width="0.8"/>
<rect x="1354.00" y="108.78" width="14.58" height="246.72" fill="#fb0000" stroke="#5a0000" stroke-width="0.8"/>
<rect x="1372.00" y="268.38" width="14.58" height="87.12" fill="#fb0000" stroke="#5a0000" stroke-width="0.8"/>
<rect x="1389.99" y="302.53" width="14.58" height="52.97" fill="#fb0000" stroke="#5a0000" stroke-width="0.8"/>
<rect x="1407.99" y="283.02" width="14.58" height="72.48" fill="#fb0000" stroke="#5a0000" stroke-width="0.8"/>
<rect x="1425.98" y="301.14" width="14.58" height="54.36" fill="#fb0000" stroke="#5a0000" stroke-width="0.8"/>
<rect x="1443.98" y="283.02" width="14.58" height="72.48" fill="#fb0000" stroke="#5a0000" stroke-width="0.8"/>
<rect x="1461.97" y="337.38" width="14.58" height="18.12" fill="#fb0000" stroke="#5a0000" stroke-width="0.8"/>
<rect x="1479.97" y="299.74" width="14.58" height="55.76" fill="#fb0000" stroke="#5a0000" stroke-width="0.8"/>
<rect x="1497.96" y="287.20" width="14.58" height="68.30" fill="#fb0000" stroke="#5a0000" stroke-width="0.8"/>
<rect x="1515.96" y="319.26" width="14.58" height="36.24" fill="#fb0000" stroke="#5a0000" stroke-width="0.8"/>
<rect x="1551.95" y="297.65" width="14.58" height="57.85" fill="#fb0000" stroke="#5a0000" stroke-width="0.8"/>
<rect x="1569.94" y="292.77" width="14.58" height="62.73" fill="#fb0000" stroke="#5a0000" stroke-width="0.8"/>
<rect x="1587.94" y="281.62" width="14.58" height="73.88" fill="#fb0000" stroke="#5a0000" stroke-width="0.8"/>
<rect x="1605.93" y="264.90" width="14.58" height="90.60" fill="#fb0000" stroke="#5a0000" stroke-width="0.8"/>
<rect x="1677.91" y="223.78" width="14.58" height="131.72" fill="#fb0000" stroke="#5a0000" stroke-width="0.8"/>
<rect x="1334.30" y="87.90" width="359.90" height="267.60" fill="none" stroke="#2a2a2a" stroke-width="1.5"/>
<path d="M1334.30 355.50v6M1356.79 355.50v3.2M1379.29 355.50v6M1401.78 355.50v3.2M1424.28 355.50v6M1446.77 355.50v3.2M1469.26 355.50v6M1491.76 355.50v3.2M1514.25 355.50v6M1536.74 355.50v3.2M1559.24 355.50v6M1581.73 355.50v3.2M1604.22 355.50v6M1626.72 355.50v3.2M1649.21 355.50v6M1671.71 355.50v3.2M1694.20 355.50v6M1334.30 355.50h-6M1334.30 341.56h-3.2M1334.30 327.62h-6M1334.30 313.68h-3.2M1334.30 299.74h-6M1334.30 285.81h-3.2M1334.30 271.87h-6M1334.30 257.93h-3.2M1334.30 243.99h-6M1334.30 230.05h-3.2M1334.30 216.11h-6M1334.30 202.17h-3.2M1334.30 188.23h-6M1334.30 174.29h-3.2M1334.30 160.36h-6M1334.30 146.42h-3.2M1334.30 132.48h-6M1334.30 118.54h-3.2M1334.30 104.60h-6M1334.30 90.66h-3.2" stroke="#2a2a2a" stroke-width="1.35" fill="none"/>
<g font-family='"Liberation Serif", serif' font-size="16.5" fill="#1a1a1a">
<text x="1334.30" y="377.50" text-anchor="middle">0</text>
<text x="1379.29" y="377.50" text-anchor="middle">5</text>
<text x="1424.28" y="377.50" text-anchor="middle">10</text>
<text x="1469.26" y="377.50" text-anchor="middle">15</text>
<text x="1514.25" y="377.50" text-anchor="middle">20</text>
<text x="1559.24" y="377.50" text-anchor="middle">25</text>
<text x="1604.22" y="377.50" text-anchor="middle">30</text>
<text x="1649.21" y="377.50" text-anchor="middle">35</text>
<text x="1694.20" y="377.50" text-anchor="middle">40</text>
<text x="1325.30" y="360.94" text-anchor="end">0.00</text>
<text x="1325.30" y="333.07" text-anchor="end">0.02</text>
<text x="1325.30" y="305.19" text-anchor="end">0.04</text>
<text x="1325.30" y="277.31" text-anchor="end">0.06</text>
<text x="1325.30" y="249.43" text-anchor="end">0.08</text>
<text x="1325.30" y="221.56" text-anchor="end">0.10</text>
<text x="1325.30" y="193.68" text-anchor="end">0.12</text>
<text x="1325.30" y="165.80" text-anchor="end">0.14</text>
<text x="1325.30" y="137.92" text-anchor="end">0.16</text>
<text x="1325.30" y="110.04" text-anchor="end">0.18</text>
</g>
<text x="1514.25" y="404.00" text-anchor="middle" font-family='"Liberation Serif", serif' font-size="16" fill="#1a1a1a">Grain Size (diameter) / μm</text>
<text transform="translate(1288.50 232.70) rotate(-90)" text-anchor="middle" font-family='"Liberation Serif", serif' font-size="16" fill="#1a1a1a">Area Fraction</text>
<rect x="491.80" y="805.87" width="14.40" height="12.13" fill="#fb0000" stroke="#5a0000" stroke-width="0.8"/>
<rect x="509.79" y="739.55" width="14.40" height="78.45" fill="#fb0000" stroke="#5a0000" stroke-width="0.8"/>
<rect x="527.79" y="620.66" width="14.40" height="197.33" fill="#fb0000" stroke="#5a0000" stroke-width="0.8"/>
<rect x="545.78" y="642.50" width="14.40" height="175.50" fill="#fb0000" stroke="#5a0000" stroke-width="0.8"/>
<rect x="563.78" y="615.81" width="14.40" height="202.19" fill="#fb0000" stroke="#5a0000" stroke-width="0.8"/>
<rect x="581.77" y="606.11" width="14.40" height="211.89" fill="#fb0000" stroke="#5a0000" stroke-width="0.8"/>
<rect x="599.77" y="645.74" width="14.40" height="172.26" fill="#fb0000" stroke="#5a0000" stroke-width="0.8"/>
<rect x="617.76" y="571.33" width="14.40" height="246.67" fill="#fb0000" stroke="#5a0000" stroke-width="0.8"/>
<rect x="635.76" y="764.62" width="14.40" height="53.38" fill="#fb0000" stroke="#5a0000" stroke-width="0.8"/>
<rect x="653.75" y="753.30" width="14.40" height="64.70" fill="#fb0000" stroke="#5a0000" stroke-width="0.8"/>
<rect x="671.75" y="737.12" width="14.40" height="80.88" fill="#fb0000" stroke="#5a0000" stroke-width="0.8"/>
<rect x="797.71" y="699.11" width="14.40" height="118.89" fill="#fb0000" stroke="#5a0000" stroke-width="0.8"/>
<rect x="490.00" y="551.50" width="359.90" height="266.50" fill="none" stroke="#2a2a2a" stroke-width="1.5"/>
<path d="M490.00 818.00v6M519.99 818.00v3.2M549.98 818.00v6M579.98 818.00v3.2M609.97 818.00v6M639.96 818.00v3.2M669.95 818.00v6M699.94 818.00v3.2M729.93 818.00v6M759.92 818.00v3.2M789.92 818.00v6M819.91 818.00v3.2M849.90 818.00v6M490.00 818.00h-6M490.00 801.83h-3.2M490.00 785.65h-6M490.00 769.48h-3.2M490.00 753.30h-6M490.00 737.12h-3.2M490.00 720.95h-6M490.00 704.77h-3.2M490.00 688.60h-6M490.00 672.43h-3.2M490.00 656.25h-6M490.00 640.08h-3.2M490.00 623.90h-6M490.00 607.73h-3.2M490.00 591.55h-6M490.00 575.38h-3.2M490.00 559.20h-6" stroke="#2a2a2a" stroke-width="1.35" fill="none"/>
<g font-family='"Liberation Serif", serif' font-size="16.5" fill="#1a1a1a">
<text x="490.00" y="840.00" text-anchor="middle">0</text>
<text x="549.98" y="840.00" text-anchor="middle">5</text>
<text x="609.97" y="840.00" text-anchor="middle">10</text>
<text x="669.95" y="840.00" text-anchor="middle">15</text>
<text x="729.93" y="840.00" text-anchor="middle">20</text>
<text x="789.92" y="840.00" text-anchor="middle">25</text>
<text x="849.90" y="840.00" text-anchor="middle">30</text>
<text x="481.00" y="823.45" text-anchor="end">0.00</text>
<text x="481.00" y="791.10" text-anchor="end">0.02</text>
<text x="481.00" y="758.75" text-anchor="end">0.04</text>
<text x="481.00" y="726.40" text-anchor="end">0.06</text>
<text x="481.00" y="694.05" text-anchor="end">0.08</text>
<text x="481.00" y="661.70" text-anchor="end">0.10</text>
<text x="481.00" y="629.35" text-anchor="end">0.12</text>
<text x="481.00" y="597.00" text-anchor="end">0.14</text>
<text x="481.00" y="564.65" text-anchor="end">0.16</text>
</g>
<text x="669.95" y="867.00" text-anchor="middle" font-family='"Liberation Serif", serif' font-size="16" fill="#1a1a1a">Grain Size (diameter) / μm</text>
<text transform="translate(445.00 694.75) rotate(-90)" text-anchor="middle" font-family='"Liberation Serif", serif' font-size="16" fill="#1a1a1a">Area Fraction</text>
<rect x="1352.85" y="804.59" width="14.02" height="13.91" fill="#fb0000" stroke="#5a0000" stroke-width="0.8"/>
<rect x="1370.38" y="788.82" width="14.02" height="29.68" fill="#fb0000" stroke="#5a0000" stroke-width="0.8"/>
<rect x="1387.91" y="758.21" width="14.02" height="60.29" fill="#fb0000" stroke="#5a0000" stroke-width="0.8"/>
<rect x="1405.44" y="761.92" width="14.02" height="56.58" fill="#fb0000" stroke="#5a0000" stroke-width="0.8"/>
<rect x="1422.97" y="692.36" width="14.02" height="126.14" fill="#fb0000" stroke="#5a0000" stroke-width="0.8"/>
<rect x="1440.50" y="683.09" width="14.02" height="135.42" fill="#fb0000" stroke="#5a0000" stroke-width="0.8"/>
<rect x="1458.03" y="578.28" width="14.02" height="240.22" fill="#fb0000" stroke="#5a0000" stroke-width="0.8"/>
<rect x="1475.56" y="752.65" width="14.02" height="65.85" fill="#fb0000" stroke="#5a0000" stroke-width="0.8"/>
<rect x="1493.09" y="724.82" width="14.02" height="93.68" fill="#fb0000" stroke="#5a0000" stroke-width="0.8"/>
<rect x="1510.62" y="772.12" width="14.02" height="46.38" fill="#fb0000" stroke="#5a0000" stroke-width="0.8"/>
<rect x="1528.15" y="692.36" width="14.02" height="126.14" fill="#fb0000" stroke="#5a0000" stroke-width="0.8"/>
<rect x="1545.68" y="677.52" width="14.02" height="140.98" fill="#fb0000" stroke="#5a0000" stroke-width="0.8"/>
<rect x="1563.21" y="598.68" width="14.02" height="219.82" fill="#fb0000" stroke="#5a0000" stroke-width="0.8"/>
<rect x="1580.74" y="658.97" width="14.02" height="159.53" fill="#fb0000" stroke="#5a0000" stroke-width="0.8"/>
<rect x="1598.27" y="648.77" width="14.02" height="169.73" fill="#fb0000" stroke="#5a0000" stroke-width="0.8"/>
<rect x="1650.86" y="736.88" width="14.02" height="81.62" fill="#fb0000" stroke="#5a0000" stroke-width="0.8"/>
<rect x="1668.39" y="727.61" width="14.02" height="90.90" fill="#fb0000" stroke="#5a0000" stroke-width="0.8"/>
<rect x="1351.10" y="558.80" width="350.60" height="259.70" fill="none" stroke="#2a2a2a" stroke-width="1.5"/>
<path d="M1351.10 818.50v6M1380.32 818.50v3.2M1409.53 818.50v6M1438.75 818.50v3.2M1467.97 818.50v6M1497.18 818.50v3.2M1526.40 818.50v6M1555.62 818.50v3.2M1584.83 818.50v6M1614.05 818.50v3.2M1643.27 818.50v6M1672.48 818.50v3.2M1701.70 818.50v6M1351.10 818.50h-6M1351.10 799.95h-3.2M1351.10 781.40h-6M1351.10 762.85h-3.2M1351.10 744.30h-6M1351.10 725.75h-3.2M1351.10 707.20h-6M1351.10 688.65h-3.2M1351.10 670.10h-6M1351.10 651.55h-3.2M1351.10 633.00h-6M1351.10 614.45h-3.2M1351.10 595.90h-6M1351.10 577.35h-3.2M1351.10 558.80h-6" stroke="#2a2a2a" stroke-width="1.35" fill="none"/>
<g font-family='"Liberation Serif", serif' font-size="15.7" fill="#1a1a1a">
<text x="1351.10" y="840.50" text-anchor="middle">0</text>
<text x="1409.53" y="840.50" text-anchor="middle">10</text>
<text x="1467.97" y="840.50" text-anchor="middle">20</text>
<text x="1526.40" y="840.50" text-anchor="middle">30</text>
<text x="1584.83" y="840.50" text-anchor="middle">40</text>
<text x="1643.27" y="840.50" text-anchor="middle">50</text>
<text x="1701.70" y="840.50" text-anchor="middle">60</text>
<text x="1342.10" y="823.68" text-anchor="end">0.00</text>
<text x="1342.10" y="786.58" text-anchor="end">0.02</text>
<text x="1342.10" y="749.48" text-anchor="end">0.04</text>
<text x="1342.10" y="712.38" text-anchor="end">0.06</text>
<text x="1342.10" y="675.28" text-anchor="end">0.08</text>
<text x="1342.10" y="638.18" text-anchor="end">0.10</text>
<text x="1342.10" y="601.08" text-anchor="end">0.12</text>
<text x="1342.10" y="563.98" text-anchor="end">0.14</text>
</g>
<text x="1526.40" y="866.00" text-anchor="middle" font-family='"Liberation Serif", serif' font-size="15.6" fill="#1a1a1a">Grain Size (diameter) / μm</text>
<text transform="translate(1307.00 698.65) rotate(-90)" text-anchor="middle" font-family='"Liberation Serif", serif' font-size="15.6" fill="#1a1a1a">Area Fraction</text>
<rect x="486.05" y="1320.98" width="13.19" height="30.12" fill="#fb0000" stroke="#5a0000" stroke-width="0.8"/>
<rect x="502.54" y="1200.51" width="13.19" height="150.59" fill="#fb0000" stroke="#5a0000" stroke-width="0.8"/>
<rect x="519.03" y="1080.23" width="13.19" height="270.87" fill="#fb0000" stroke="#5a0000" stroke-width="0.8"/>
<rect x="535.52" y="1230.82" width="13.19" height="120.28" fill="#fb0000" stroke="#5a0000" stroke-width="0.8"/>
<rect x="552.01" y="1140.47" width="13.19" height="210.63" fill="#fb0000" stroke="#5a0000" stroke-width="0.8"/>
<rect x="568.50" y="1080.23" width="13.19" height="270.87" fill="#fb0000" stroke="#5a0000" stroke-width="0.8"/>
<rect x="584.99" y="1170.59" width="13.19" height="180.51" fill="#fb0000" stroke="#5a0000" stroke-width="0.8"/>
<rect x="601.49" y="1200.51" width="13.19" height="150.59" fill="#fb0000" stroke="#5a0000" stroke-width="0.8"/>
<rect x="617.98" y="1320.98" width="13.19" height="30.12" fill="#fb0000" stroke="#5a0000" stroke-width="0.8"/>
<rect x="634.47" y="1260.75" width="13.19" height="90.35" fill="#fb0000" stroke="#5a0000" stroke-width="0.8"/>
<rect x="650.96" y="1290.86" width="13.19" height="60.24" fill="#fb0000" stroke="#5a0000" stroke-width="0.8"/>
<rect x="667.45" y="1230.82" width="13.19" height="120.28" fill="#fb0000" stroke="#5a0000" stroke-width="0.8"/>
<rect x="683.94" y="1290.86" width="13.19" height="60.24" fill="#fb0000" stroke="#5a0000" stroke-width="0.8"/>
<rect x="700.43" y="1290.86" width="13.19" height="60.24" fill="#fb0000" stroke="#5a0000" stroke-width="0.8"/>
<rect x="716.92" y="1290.86" width="13.19" height="60.24" fill="#fb0000" stroke="#5a0000" stroke-width="0.8"/>
<rect x="733.41" y="1320.98" width="13.19" height="30.12" fill="#fb0000" stroke="#5a0000" stroke-width="0.8"/>
<rect x="749.90" y="1320.98" width="13.19" height="30.12" fill="#fb0000" stroke="#5a0000" stroke-width="0.8"/>
<rect x="832.36" y="1320.98" width="13.19" height="30.12" fill="#fb0000" stroke="#5a0000" stroke-width="0.8"/>
<rect x="484.40" y="1058.00" width="362.80" height="293.10" fill="none" stroke="#2a2a2a" stroke-width="1.5"/>
<path d="M484.40 1351.10v6M500.89 1351.10v3.2M517.38 1351.10v6M533.87 1351.10v3.2M550.36 1351.10v6M566.85 1351.10v3.2M583.35 1351.10v6M599.84 1351.10v3.2M616.33 1351.10v6M632.82 1351.10v3.2M649.31 1351.10v6M665.80 1351.10v3.2M682.29 1351.10v6M698.78 1351.10v3.2M715.27 1351.10v6M731.76 1351.10v3.2M748.25 1351.10v6M764.75 1351.10v3.2M781.24 1351.10v6M797.73 1351.10v3.2M814.22 1351.10v6M830.71 1351.10v3.2M847.20 1351.10v6M484.40 1351.10h-6M484.40 1331.54h-3.2M484.40 1311.99h-6M484.40 1292.43h-3.2M484.40 1272.87h-6M484.40 1253.31h-3.2M484.40 1233.76h-6M484.40 1214.20h-3.2M484.40 1194.64h-6M484.40 1175.09h-3.2M484.40 1155.53h-6M484.40 1135.97h-3.2M484.40 1116.41h-6M484.40 1096.86h-3.2M484.40 1077.30h-6" stroke="#2a2a2a" stroke-width="1.35" fill="none"/>
<g font-family='"Liberation Serif", serif' font-size="12.5" fill="#1a1a1a">
<text x="484.40" y="1371.10" text-anchor="middle">0</text>
<text x="517.38" y="1371.10" text-anchor="middle">5</text>
<text x="550.36" y="1371.10" text-anchor="middle">10</text>
<text x="583.35" y="1371.10" text-anchor="middle">15</text>
<text x="616.33" y="1371.10" text-anchor="middle">20</text>
<text x="649.31" y="1371.10" text-anchor="middle">25</text>
<text x="682.29" y="1371.10" text-anchor="middle">30</text>
<text x="715.27" y="1371.10" text-anchor="middle">35</text>
<text x="748.25" y="1371.10" text-anchor="middle">40</text>
<text x="781.24" y="1371.10" text-anchor="middle">45</text>
<text x="814.22" y="1371.10" text-anchor="middle">50</text>
<text x="847.20" y="1371.10" text-anchor="middle">55</text>
<text x="475.40" y="1355.22" text-anchor="end">0.00</text>
<text x="475.40" y="1316.11" text-anchor="end">0.02</text>
<text x="475.40" y="1277.00" text-anchor="end">0.04</text>
<text x="475.40" y="1237.88" text-anchor="end">0.06</text>
<text x="475.40" y="1198.77" text-anchor="end">0.08</text>
<text x="475.40" y="1159.65" text-anchor="end">0.10</text>
<text x="475.40" y="1120.54" text-anchor="end">0.12</text>
<text x="475.40" y="1081.42" text-anchor="end">0.14</text>
</g>
<text x="665.80" y="1394.00" text-anchor="middle" font-family='"Liberation Serif", serif' font-size="15.2" fill="#1a1a1a">Grian Size(diameter) / μm</text>
<text transform="translate(447.00 1204.55) rotate(-90)" text-anchor="middle" font-family='"Liberation Serif", serif' font-size="15.2" fill="#1a1a1a">Area Fraction</text>
<rect x="1092.8" y="1005.8" width="430.50" height="347.30" fill="none" stroke="#1a1a1a" stroke-width="1.5"/>
<path d="M1092.80 1353.1v3.2M1113.30 1353.1v6M1133.80 1353.1v3.2M1154.30 1353.1v6M1174.80 1353.1v3.2M1195.30 1353.1v6M1215.80 1353.1v3.2M1236.30 1353.1v6M1256.80 1353.1v3.2M1277.30 1353.1v6M1297.80 1353.1v3.2M1318.30 1353.1v6M1338.80 1353.1v3.2M1359.30 1353.1v6M1379.80 1353.1v3.2M1400.30 1353.1v6M1420.80 1353.1v3.2M1441.30 1353.1v6M1461.80 1353.1v3.2M1482.30 1353.1v6M1502.80 1353.1v3.2M1523.30 1353.1v6M1092.8 1353.10h-6M1092.8 1334.84h-3.2M1092.8 1316.58h-6M1092.8 1298.32h-3.2M1092.8 1280.06h-6M1092.8 1261.80h-3.2M1092.8 1243.54h-6M1092.8 1225.28h-3.2M1092.8 1207.02h-6M1092.8 1188.76h-3.2M1092.8 1170.50h-6M1092.8 1152.24h-3.2M1092.8 1133.98h-6M1092.8 1115.72h-3.2M1092.8 1097.46h-6M1092.8 1079.20h-3.2M1092.8 1060.94h-6M1092.8 1042.68h-3.2M1092.8 1024.42h-6M1092.8 1006.16h-3.2" stroke="#222" stroke-width="1.2" fill="none"/>
<path d="M1140.29 1321.72L1250.31 1316.00M1262.25 1312.13L1302.60 1285.97M1311.79 1277.12L1376.06 1185.86M1383.65 1175.30L1478.45 1046.09" stroke="#111" stroke-width="1.2" fill="none"/>
<rect x="1129.60" y="1317.86" width="8.4" height="8.4" fill="#000"/>
<rect x="1252.60" y="1311.47" width="8.4" height="8.4" fill="#000"/>
<rect x="1303.85" y="1278.23" width="8.4" height="8.4" fill="#000"/>
<rect x="1375.60" y="1176.34" width="8.4" height="8.4" fill="#000"/>
<rect x="1478.10" y="1036.65" width="8.4" height="8.4" fill="#000"/>
<g font-family='"Liberation Serif", serif' font-size="14.8" fill="#1a1a1a">
<text x="1113.30" y="1375.70" text-anchor="middle">340</text>
<text x="1154.30" y="1375.70" text-anchor="middle">360</text>
<text x="1195.30" y="1375.70" text-anchor="middle">380</text>
<text x="1236.30" y="1375.70" text-anchor="middle">400</text>
<text x="1277.30" y="1375.70" text-anchor="middle">420</text>
<text x="1318.30" y="1375.70" text-anchor="middle">440</text>
<text x="1359.30" y="1375.70" text-anchor="middle">460</text>
<text x="1400.30" y="1375.70" text-anchor="middle">480</text>
<text x="1441.30" y="1375.70" text-anchor="middle">500</text>
<text x="1482.30" y="1375.70" text-anchor="middle">520</text>
<text x="1523.30" y="1375.70" text-anchor="middle">540</text>
<text x="1081.80" y="1358.00" text-anchor="end">0</text>
<text x="1081.80" y="1321.48" text-anchor="end">2</text>
<text x="1081.80" y="1284.96" text-anchor="end">4</text>
<text x="1081.80" y="1248.44" text-anchor="end">6</text>
<text x="1081.80" y="1211.92" text-anchor="end">8</text>
<text x="1081.80" y="1175.40" text-anchor="end">10</text>
<text x="1081.80" y="1138.88" text-anchor="end">12</text>
<text x="1081.80" y="1102.36" text-anchor="end">14</text>
<text x="1081.80" y="1065.84" text-anchor="end">16</text>
<text x="1081.80" y="1029.32" text-anchor="end">18</text>
</g>
<text x="1308.5" y="1404" text-anchor="middle" font-family='"Liberation Serif", serif' font-size="18" fill="#1a1a1a">Annealing temperature / °C</text>
<text transform="translate(1060 1179) rotate(-90)" text-anchor="middle" font-family='"Liberation Serif", serif' font-size="18" fill="#1a1a1a">Average grain size / μm</text>
<g fill="none" stroke="#000" stroke-width="3.8">
<rect x="4.9" y="4" width="1711.2" height="414.9"/>
<path d="M858.2 4V418.9"/>
<rect x="4.9" y="497.3" width="1711.2" height="408.5"/>
<path d="M858.2 497.3V905.8"/>
<rect x="4.9" y="1000.1" width="853.4" height="409.6"/>
</g>
<rect x="9.9" y="392.9" width="171.10" height="22.30" fill="#fff"/><rect x="12.2" y="408" width="166.10" height="4.90" fill="#000"/><text x="86.6" y="404.8" text-anchor="middle" font-family='"Liberation Serif", serif' font-weight="bold" font-size="16.4" fill="#000">35μm</text>
<rect x="862.5" y="391.2" width="153.80" height="22.10" fill="#fff"/><rect x="865.5" y="406.2" width="148.30" height="4.60" fill="#000"/><text x="936" y="402.7" text-anchor="middle" font-family='"Liberation Serif", serif' font-weight="bold" font-size="15.2" fill="#000">40μm</text>
<rect x="10" y="880.4" width="170.90" height="21.50" fill="#fff"/><rect x="12.1" y="895.2" width="166.40" height="4.20" fill="#000"/><text x="87.5" y="890.8" text-anchor="middle" font-family='"Liberation Serif", serif' font-weight="bold" font-size="15.4" fill="#000">35μm</text>
<rect x="863.5" y="883.2" width="160.80" height="19.80" fill="#fff"/><rect x="865.5" y="898" width="156.80" height="4.00" fill="#000"/><text x="943.8" y="894.4" text-anchor="middle" font-family='"Liberation Serif", serif' font-weight="bold" font-size="16.8" fill="#000">80μm</text>
<rect x="10" y="1382" width="149.30" height="21.80" fill="#fff"/><rect x="12.5" y="1397" width="144.30" height="4.30" fill="#000"/><text x="78.3" y="1393.2" text-anchor="middle" font-family='"Liberation Serif", serif' font-weight="bold" font-size="15.5" fill="#000">50μm</text>

<g font-family='"Liberation Sans", sans-serif' font-size="52" fill="#000" text-anchor="middle">
<text x="410" y="466.6">(a)</text>
<text x="1323.5" y="463.7">(b)</text>
<text x="408.6" y="960.6">(c)</text>
<text x="1323.5" y="960.6">(d)</text>
<text x="410" y="1457.6">(e)</text>
<text x="1316.4" y="1457.6">(f)</text>
</g>
</svg></body></html>
